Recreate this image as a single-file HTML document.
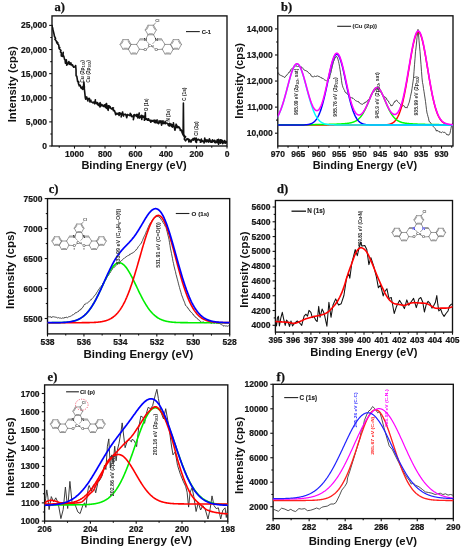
<!DOCTYPE html>
<html><head><meta charset="utf-8"><style>
html,body{margin:0;padding:0;background:#fff;}
svg{display:block;}
</style></head><body>
<svg width="464" height="550" viewBox="0 0 464 550">
<rect width="464" height="550" fill="#fff"/>
<text x="54.5" y="11.2" font-family="'Liberation Serif', 'Times New Roman', serif" font-weight="bold" font-size="12.5" fill="#111" stroke="#111" stroke-width="0.25">a)</text>
<g stroke="#111" stroke-width="1.1"><line x1="74.5" y1="146" x2="74.5" y2="148.6"/><line x1="105" y1="146" x2="105" y2="148.6"/><line x1="135.5" y1="146" x2="135.5" y2="148.6"/><line x1="166" y1="146" x2="166" y2="148.6"/><line x1="196.5" y1="146" x2="196.5" y2="148.6"/><line x1="227" y1="146" x2="227" y2="148.6"/><line x1="59.25" y1="146" x2="59.25" y2="147.7"/><line x1="89.75" y1="146" x2="89.75" y2="147.7"/><line x1="120.25" y1="146" x2="120.25" y2="147.7"/><line x1="150.75" y1="146" x2="150.75" y2="147.7"/><line x1="181.25" y1="146" x2="181.25" y2="147.7"/><line x1="211.75" y1="146" x2="211.75" y2="147.7"/><line x1="49.2" y1="146" x2="52" y2="146"/><line x1="49.2" y1="121.88" x2="52" y2="121.88"/><line x1="49.2" y1="97.76" x2="52" y2="97.76"/><line x1="49.2" y1="73.64" x2="52" y2="73.64"/><line x1="49.2" y1="49.52" x2="52" y2="49.52"/><line x1="49.2" y1="25.4" x2="52" y2="25.4"/><line x1="50.3" y1="133.94" x2="52" y2="133.94"/><line x1="50.3" y1="109.82" x2="52" y2="109.82"/><line x1="50.3" y1="85.7" x2="52" y2="85.7"/><line x1="50.3" y1="61.58" x2="52" y2="61.58"/><line x1="50.3" y1="37.46" x2="52" y2="37.46"/></g>
<rect x="52" y="15.9" width="175" height="130.1" fill="none" stroke="#111" stroke-width="1.35"/>
<g font-family="'Liberation Sans', Arial, sans-serif" font-weight="bold" font-size="8.5" fill="#161616" stroke="#161616" stroke-width="0.22"><text x="74.5" y="156.9" text-anchor="middle">1000</text><text x="105" y="156.9" text-anchor="middle">800</text><text x="135.5" y="156.9" text-anchor="middle">600</text><text x="166" y="156.9" text-anchor="middle">400</text><text x="196.5" y="156.9" text-anchor="middle">200</text><text x="227" y="156.9" text-anchor="middle">0</text><text x="47" y="149.06" text-anchor="end">0</text><text x="47" y="124.94" text-anchor="end">5,000</text><text x="47" y="100.82" text-anchor="end">10,000</text><text x="47" y="76.7" text-anchor="end">15,000</text><text x="47" y="52.58" text-anchor="end">20,000</text><text x="47" y="28.46" text-anchor="end">25,000</text></g>
<text x="81.4" y="168.6" font-family="'Liberation Sans', Arial, sans-serif" font-weight="bold" font-size="11.0" fill="#111" textLength="105.4" lengthAdjust="spacingAndGlyphs">Binding Energy (eV)</text>
<text transform="translate(16.3,122.3) rotate(-90)" font-family="'Liberation Sans', Arial, sans-serif" font-weight="bold" font-size="11.0" fill="#111" textLength="76.1" lengthAdjust="spacingAndGlyphs">Intensity (cps)</text>
<clipPath id="clipa"><rect x="52" y="15.9" width="175" height="130.1"/></clipPath>
<g clip-path="url(#clipa)">
<polyline points="51.94,24.75 52.32,27.17 52.8,28.33 52.5,28.01 53.89,33.43 54.37,35.76 54.27,35.81 55.52,38.41 54.91,39.26 55.77,40.31 56.26,41.14 57.94,42.98 56.6,42.48 58.13,44.4 58.77,45.02 58.94,47.39 59.79,47.63 59.15,48.17 58.96,48.54 60.93,50.4 60.4,51.91 61.29,52.71 61.31,55.92 62.88,56.41 63.23,52.35 62.89,54.19 64.15,57.2 64.21,57.65 64.53,59.24 65.08,59.97 65.4,63.16 66.26,59.69 66.56,61.37 66.68,65.19 67.8,63.65 67.44,63.96 68.34,62.71 68.86,61.51 69.84,64.16 69.3,64.36 70.87,62.9 70.54,63.78 70.8,64.73 71.01,63.76 72.09,65.03 72.27,65.44 72.15,65.53 72.59,64.99 73.32,66.62 73.71,67.23 75.05,66.72 75.64,65.46 75.83,67.7 76.03,69.75 76.09,75.78 76.78,76.12 77.64,81.57 78.72,82.52 78.56,81.65 78.41,83.6 79.02,84.81 79.21,85.82 79.51,84.92 80.26,85.49 80.9,87.82 82.17,87.2 81.73,88.36 82.83,89.29 83.48,85.97 83.09,86.69 83.4,86.94 83.9,82 84.4,87.44 84.3,86.94 84.31,86.54 84.19,87.45 84.98,94.54 85.31,97.92 85.63,99.16 86.1,97.94 86.72,96.87 87.32,99.05 87.11,99.02 88,101.01 87.69,100.43 89.03,98.24 89.66,98.98 89.88,101.86 90.39,101.77 90.99,100.24 90.82,101.24 91.48,102 92.31,102.21 93,102.91 93.15,102.28 94.68,101.99 93.8,101.95 94.8,103.83 95.38,99.7 95.13,102.61 95.24,103 95.51,101.28 96.63,103.73 97.56,102.62 97.59,104.76 97.99,103.65 98.16,104.85 99.08,105.73 98.18,104.82 99.82,103.35 100.16,102.67 99.91,107.05 102.14,104.75 100.81,104.12 101.41,105.33 101.8,105.02 103.41,106.51 102.86,105.57 104.08,105.67 104.49,104.85 104.78,106.51 104.45,104.69 105.24,107.06 106.84,108.34 105.8,104.54 106.48,103.48 107.27,107.65 108.2,110.32 108.38,105.87 109.07,105.71 108.62,108.26 110.07,106.56 110.33,107.16 109.7,107.57 111.72,108.91 112.55,107.9 111.47,108.98 112.33,108.59 113.45,107.92 112.46,108.81 112.66,108.29 113.45,110.7 114.27,110.39 114.71,111.17 115.75,114.69 116.03,112.93 115.73,113.13 117.08,114.07 118.19,113.04 118.3,113.46 118.65,114.47 118.61,114.45 119.54,112.74 119.02,115.5 120.33,113.81 120.36,113.26 121.42,113.5 121.53,114.19 121.21,116.85 122.26,113.24 123.26,115.02 122.54,112.06 123.27,114.88 123.62,116.08 123.7,114.64 125.38,114.17 126.01,115.32 126.2,115.97 126.37,115.95 126.67,117.69 127.27,115.43 127.23,114.43 128.5,115.07 129.02,115.17 129.42,115.44 129.13,115.3 129.89,115.6 130.22,113.24 131.64,116.55 131.29,114.79 130.71,114.07 132.3,116.48 133.49,117.42 133.34,116.41 133.89,116.04 133.92,114.68 133.36,119.68 133.89,117.15 134.63,114.59 135.64,115.11 136.3,116.3 136.94,114.23 136.88,116.52 137.98,115.76 137.81,117.99 138.05,117.7 139.28,112.97 138.84,116.59 138.39,114.48 139.67,118.08 140.7,116.9 139.56,117.44 141.37,115.39 141.83,119.2 141.74,119.5 142.16,115.53 143.12,117.45 143.53,116.16 144.88,117.18 144.89,115.74 144.36,120.18 145.17,117.24 145,118.87 145.3,112.6 145.6,119.37 146.4,118.87 147.45,120.25 147.14,118.91 147.56,119.6 148.78,119.33 148.29,120.04 148.6,118.85 148.49,119.96 149.39,120.41 151.19,120.39 149.84,121.01 151.01,120.66 150.75,122.13 151.96,120.84 152.79,121.19 152.68,120.62 153.62,120.9 154.06,120.05 154.37,122.48 155.46,120.43 155.44,121.06 155.35,122.6 155.61,122.77 155.98,121.83 157.09,119.84 157.14,123.07 159.11,122.88 159.12,120.74 158.54,123.61 158.94,121.72 160.4,121.2 159.06,122.81 160.22,122.49 161.38,123.01 160.89,120.69 161.56,125.16 162.07,122.05 163.03,120.86 163.22,123.69 163.8,122.46 164.35,123.37 164.51,122.53 165.51,122.89 165.04,123 165.13,121.42 165.41,123.69 165.94,122.96 166.92,122.98 168.17,124.45 168.19,125.17 168.25,124.53 168.47,123.95 169.19,126.11 169.7,123.26 170.07,124.3 170.08,125.75 171.01,123.98 172.21,125.84 171.06,125.78 172.48,127.07 171.99,124.77 173.59,125.2 173.58,126.5 173.36,122.92 174.9,130.2 176.21,125.32 175.8,125.34 176.78,127.47 176.61,126.36 176.02,124.16 177.8,127.35 177.79,127.71 177.72,126.52 179.29,127.25 179.49,128.75 179.54,127.56 180.68,130.07 180.26,130.53 181.47,130.16 181.13,129.99 182.32,132.27 181.95,132.19 183.1,135.02 183.4,103 183.7,135.52 183.69,135.02 183.53,134.19 184.57,136.01 183.89,136.16 184.51,137.31 185.62,136.6 184.28,138.95 185.57,140.87 187.07,138.62 187.23,138.72 187.94,139.47 187.75,139.14 188.63,138.95 188.43,140.13 188.56,139.67 188.85,142.01 189.87,140.2 190.33,140.63 190.74,141.46 189.73,139.84 190.95,142.1 192.13,139.42 192.99,139.2 193.01,139.78 193.31,140.12 193.05,138.45 195.66,140.24 194.55,138.12 195.9,142.05 196.2,138 196.5,142.55 196.39,142.05 196.78,139.62 196.59,138.98 196.61,139.19 197.42,140.02 197.22,140.26 198.38,139.22 198.7,139.41 199.42,140.39 200.08,139.99 200.92,141.91 200.31,142.2 201.47,140.77 201,141.39 201.4,139.07 201.99,141.66 202.26,140.82 203.69,141.52 204.11,143 204.74,137.98 204.54,141.31 205.14,139.57 205.16,141.78 205.32,139.31 206.57,140.38 206.93,141.3 206.7,141.84 207.99,141.15 207.28,140.03 208.51,140.35 208.73,142.23 209.24,141.08 209.41,138.91 210.88,142.2 211.13,141.66 211.89,142.26 211.82,140.7 211.55,142.22 212.46,139.77 212.5,141.9 213.77,140.53 214.6,142.06 214.61,142.5 214.59,140.24 215.16,141.15 215.9,141.29 215.52,142.81 216.77,142.21 217.24,139.73 217.32,141.93 217.83,142.33 218.58,144.15 218.53,139.23 218.98,140.73 220.23,143.19 220.4,139.72 221.58,139.94 220.7,142.2 220.75,142.87 222.56,140.7 223.02,142.3 222.62,141.77 222.7,143.62 223.86,141.67 223.46,142.98 224.62,140.54 224.14,141.5 225.57,141.64 225.07,143.27 226.47,142.55 227.79,140.82 227.35,142.69 228.32,142.8" fill="none" stroke="#111" stroke-width="1.6" stroke-linejoin="round" />
</g>
<text transform="translate(84.02,82.8) rotate(-90)" font-family="'Liberation Sans', Arial, sans-serif" font-size="4.5" fill="#333" font-weight="bold" textLength="22.6" lengthAdjust="spacingAndGlyphs">Cu (2p<tspan font-size="3.6" dy="0.9">1/2</tspan><tspan dy="-0.9">)</tspan></text>
<text transform="translate(90.32,82.8) rotate(-90)" font-family="'Liberation Sans', Arial, sans-serif" font-size="4.5" fill="#333" font-weight="bold" textLength="22.6" lengthAdjust="spacingAndGlyphs">Cu (2p<tspan font-size="3.6" dy="0.9">3/2</tspan><tspan dy="-0.9">)</tspan></text>
<text transform="translate(148.22,110.9) rotate(-90)" font-family="'Liberation Sans', Arial, sans-serif" font-size="4.5" fill="#222" font-weight="bold" textLength="12.5" lengthAdjust="spacingAndGlyphs">O (1s)</text>
<text transform="translate(169.52,121.5) rotate(-90)" font-family="'Liberation Sans', Arial, sans-serif" font-size="4.5" fill="#222" font-weight="bold" textLength="12.5" lengthAdjust="spacingAndGlyphs">N (1s)</text>
<text transform="translate(186.32,101.1) rotate(-90)" font-family="'Liberation Sans', Arial, sans-serif" font-size="4.5" fill="#222" font-weight="bold" textLength="13.6" lengthAdjust="spacingAndGlyphs">C (1s)</text>
<text transform="translate(198.42,135.8) rotate(-90)" font-family="'Liberation Sans', Arial, sans-serif" font-size="4.5" fill="#222" font-weight="bold" textLength="14.3" lengthAdjust="spacingAndGlyphs">Cl (2p)</text>
<line x1="186" y1="31.6" x2="199.8" y2="31.6" stroke="#222" stroke-width="1.1"/>
<text x="201.7" y="33.69" font-family="'Liberation Sans', Arial, sans-serif" font-weight="bold" font-size="5.8" fill="#222" stroke="#222" stroke-width="0.14">C-1</text>
<g stroke="#777" stroke-width="0.75" stroke-linecap="round"><line x1="156.3" y1="30" x2="153.55" y2="34.76"/><line x1="153.55" y1="34.76" x2="148.05" y2="34.76"/><line x1="148.05" y1="34.76" x2="145.3" y2="30"/><line x1="145.3" y1="30" x2="148.05" y2="25.24"/><line x1="148.05" y1="25.24" x2="153.55" y2="25.24"/><line x1="153.55" y1="25.24" x2="156.3" y2="30"/><line x1="152.47" y1="33.81" x2="149.13" y2="33.81"/><line x1="146.66" y1="29.54" x2="148.34" y2="26.65"/><line x1="153.26" y1="26.65" x2="154.94" y2="29.54"/><line x1="148.05" y1="34.76" x2="146.07" y2="38.46"/><line x1="153.55" y1="34.76" x2="155.53" y2="38.46"/><line x1="153.55" y1="25.24" x2="155.53" y2="22.89"/><line x1="143.55" y1="39.9" x2="139.47" y2="39.9"/><line x1="143.38" y1="38.8" x2="140.08" y2="38.8"/><line x1="136.61" y1="44.43" x2="139.47" y2="39.9"/><line x1="139.36" y1="49.2" x2="136.61" y2="53.96"/><line x1="136.61" y1="53.96" x2="131.11" y2="53.96"/><line x1="131.11" y1="53.96" x2="128.36" y2="49.2"/><line x1="128.36" y1="49.2" x2="131.11" y2="44.43"/><line x1="131.11" y1="44.43" x2="136.61" y2="44.43"/><line x1="136.61" y1="44.43" x2="139.36" y2="49.2"/><line x1="135.53" y1="53.01" x2="132.19" y2="53.01"/><line x1="131.11" y1="44.41" x2="128.36" y2="49.17"/><line x1="128.36" y1="49.17" x2="122.86" y2="49.17"/><line x1="122.86" y1="49.17" x2="120.11" y2="44.41"/><line x1="120.11" y1="44.41" x2="122.86" y2="39.65"/><line x1="122.86" y1="39.65" x2="128.36" y2="39.65"/><line x1="128.36" y1="39.65" x2="131.11" y2="44.41"/><line x1="127.28" y1="48.22" x2="123.94" y2="48.22"/><line x1="121.47" y1="43.95" x2="123.15" y2="41.06"/><line x1="128.07" y1="41.06" x2="129.75" y2="43.95"/><line x1="139.36" y1="49.2" x2="143.64" y2="49.55"/><line x1="146.95" y1="41.65" x2="149.15" y2="43.98" stroke-dasharray="0.88,0.88"/><line x1="147.23" y1="48.3" x2="149.26" y2="46.84" stroke-dasharray="0.88,0.88"/><line x1="158.05" y1="39.9" x2="162.13" y2="39.9"/><line x1="158.23" y1="38.8" x2="161.53" y2="38.8"/><line x1="164.99" y1="44.43" x2="162.13" y2="39.9"/><line x1="173.24" y1="49.2" x2="170.49" y2="53.96"/><line x1="170.49" y1="53.96" x2="164.99" y2="53.96"/><line x1="164.99" y1="53.96" x2="162.24" y2="49.2"/><line x1="162.24" y1="49.2" x2="164.99" y2="44.43"/><line x1="164.99" y1="44.43" x2="170.49" y2="44.43"/><line x1="170.49" y1="44.43" x2="173.24" y2="49.2"/><line x1="169.41" y1="53.01" x2="166.07" y2="53.01"/><line x1="181.49" y1="44.41" x2="178.74" y2="49.17"/><line x1="178.74" y1="49.17" x2="173.24" y2="49.17"/><line x1="173.24" y1="49.17" x2="170.49" y2="44.41"/><line x1="170.49" y1="44.41" x2="173.24" y2="39.65"/><line x1="173.24" y1="39.65" x2="178.74" y2="39.65"/><line x1="178.74" y1="39.65" x2="181.49" y2="44.41"/><line x1="177.66" y1="48.22" x2="174.32" y2="48.22"/><line x1="171.85" y1="43.95" x2="173.53" y2="41.06"/><line x1="178.45" y1="41.06" x2="180.13" y2="43.95"/><line x1="162.24" y1="49.2" x2="157.96" y2="49.55"/><line x1="154.65" y1="41.65" x2="152.45" y2="43.98" stroke-dasharray="0.88,0.88"/><line x1="154.38" y1="48.3" x2="152.34" y2="46.84" stroke-dasharray="0.88,0.88"/></g>
<g font-family="'Liberation Sans', Arial, sans-serif" font-weight="bold" font-size="4.4"><text x="145.3" y="41.48" text-anchor="middle" fill="#222">N</text><text x="156.3" y="41.48" text-anchor="middle" fill="#222">N</text><text x="145.3" y="51.27" text-anchor="middle" fill="#444">O</text><text x="156.3" y="51.27" text-anchor="middle" fill="#444">O</text><text x="150.8" y="47.31" text-anchor="middle" fill="#444">Cu</text><text x="157.34" y="22.23" text-anchor="middle" fill="#444">Cl</text></g>
<text x="281" y="11.2" font-family="'Liberation Serif', 'Times New Roman', serif" font-weight="bold" font-size="12.5" fill="#111" stroke="#111" stroke-width="0.25">b)</text>
<g stroke="#111" stroke-width="1.1"><line x1="277.8" y1="146" x2="277.8" y2="148.6"/><line x1="298.26" y1="146" x2="298.26" y2="148.6"/><line x1="318.73" y1="146" x2="318.73" y2="148.6"/><line x1="339.19" y1="146" x2="339.19" y2="148.6"/><line x1="359.65" y1="146" x2="359.65" y2="148.6"/><line x1="380.11" y1="146" x2="380.11" y2="148.6"/><line x1="400.58" y1="146" x2="400.58" y2="148.6"/><line x1="421.04" y1="146" x2="421.04" y2="148.6"/><line x1="441.5" y1="146" x2="441.5" y2="148.6"/><line x1="288.03" y1="146" x2="288.03" y2="147.7"/><line x1="308.49" y1="146" x2="308.49" y2="147.7"/><line x1="328.96" y1="146" x2="328.96" y2="147.7"/><line x1="349.42" y1="146" x2="349.42" y2="147.7"/><line x1="369.88" y1="146" x2="369.88" y2="147.7"/><line x1="390.34" y1="146" x2="390.34" y2="147.7"/><line x1="410.81" y1="146" x2="410.81" y2="147.7"/><line x1="431.27" y1="146" x2="431.27" y2="147.7"/><line x1="451.73" y1="146" x2="451.73" y2="147.7"/><line x1="275" y1="133.2" x2="277.8" y2="133.2"/><line x1="275" y1="107.12" x2="277.8" y2="107.12"/><line x1="275" y1="81.05" x2="277.8" y2="81.05"/><line x1="275" y1="54.98" x2="277.8" y2="54.98"/><line x1="275" y1="28.9" x2="277.8" y2="28.9"/><line x1="276.1" y1="120.16" x2="277.8" y2="120.16"/><line x1="276.1" y1="94.09" x2="277.8" y2="94.09"/><line x1="276.1" y1="68.01" x2="277.8" y2="68.01"/><line x1="276.1" y1="41.94" x2="277.8" y2="41.94"/></g>
<rect x="277.8" y="15.8" width="175.2" height="130.2" fill="none" stroke="#111" stroke-width="1.35"/>
<g font-family="'Liberation Sans', Arial, sans-serif" font-weight="bold" font-size="8.5" fill="#161616" stroke="#161616" stroke-width="0.22"><text x="277.8" y="156.9" text-anchor="middle">970</text><text x="298.26" y="156.9" text-anchor="middle">965</text><text x="318.73" y="156.9" text-anchor="middle">960</text><text x="339.19" y="156.9" text-anchor="middle">955</text><text x="359.65" y="156.9" text-anchor="middle">950</text><text x="380.11" y="156.9" text-anchor="middle">945</text><text x="400.58" y="156.9" text-anchor="middle">940</text><text x="421.04" y="156.9" text-anchor="middle">935</text><text x="441.5" y="156.9" text-anchor="middle">930</text><text x="272.8" y="136.26" text-anchor="end">10,000</text><text x="272.8" y="110.19" text-anchor="end">11,000</text><text x="272.8" y="84.11" text-anchor="end">12,000</text><text x="272.8" y="58.04" text-anchor="end">13,000</text><text x="272.8" y="31.96" text-anchor="end">14,000</text></g>
<text x="312.7" y="168.5" font-family="'Liberation Sans', Arial, sans-serif" font-weight="bold" font-size="11.0" fill="#111" textLength="104.4" lengthAdjust="spacingAndGlyphs">Binding Energy (eV)</text>
<text transform="translate(242.6,118.7) rotate(-90)" font-family="'Liberation Sans', Arial, sans-serif" font-weight="bold" font-size="11.0" fill="#111" textLength="75.8" lengthAdjust="spacingAndGlyphs">Intensity (cps)</text>
<clipPath id="clipb"><rect x="277.8" y="15.8" width="175.2" height="130.2"/></clipPath>
<g clip-path="url(#clipb)">
<polyline points="277,73.57 277.5,73.35 278,73.42 278.5,72.75 279,74.61 279.5,74.76 280,74.63 280.5,75.39 281,75.6 281.5,75.58 282,76.38 282.5,76.2 283,76.47 283.5,76.57 284,77.28 284.5,77.36 285,77.36 285.5,76.4 286,76.1 286.5,75.19 287,75.15 287.5,74.28 288,73.69 288.5,73.07 289,71.98 289.5,72.02 290,71.89 290.5,70.01 291,69.39 291.5,68.85 292,69.04 292.5,68.17 293,67.88 293.5,67.43 294,66.93 294.5,66.64 295,66.16 295.5,66.2 296,65.62 296.5,65.99 297,66.35 297.5,67.01 298,66.23 298.5,66.15 299,66.35 299.5,66.91 300,66.51 300.5,67.27 301,66.49 301.5,67.88 302,68.18 302.5,67.66 303,68.55 303.5,69.31 304,69.3 304.5,70 305,70.87 305.5,70.52 306,70.65 306.5,70.79 307,71.6 307.5,71.62 308,71.94 308.5,72.59 309,73.48 309.5,73.5 310,73.96 310.5,74.09 311,75.8 311.5,75.85 312,76.79 312.5,76.7 313,76.4 313.5,76.79 314,76.55 314.5,76.1 315,76.19 315.5,76.98 316,76.35 316.5,76.24 317,75.86 317.5,75.78 318,76.53 318.5,76.37 319,76.34 319.5,76.76 320,76.68 320.5,77.36 321,77.98 321.5,77.59 322,78.68 322.5,78.24 323,78.82 323.5,78.78 324,79.37 324.5,79.83 325,80.03 325.5,80.31 326,80.69 326.5,81.01 327,80.32 327.5,80.34 328,80.14 328.5,79.48 329,78.56 329.5,78.36 330,75.78 330.5,73.67 331,72.66 331.5,69.48 332,68.03 332.5,65.2 333,63.94 333.5,61.52 334,60.92 334.5,58.94 335,57.72 335.5,57.71 336,56.44 336.5,56.32 337,56.89 337.5,57.98 338,59.48 338.5,61.33 339,63.57 339.5,66.3 340,69.57 340.5,72.81 341,76.31 341.5,80.36 342,83.87 342.5,85.68 343,87.43 343.5,88.22 344,89.65 344.5,90.26 345,92.1 345.5,92.31 346,93.22 346.5,93.08 347,93.49 347.5,94.21 348,94.37 348.5,95.25 349,95.2 349.5,96.61 350,96.69 350.5,97.85 351,97.4 351.5,98.13 352,97.51 352.5,98.4 353,98.19 353.5,98.7 354,99.26 354.5,99.51 355,100.09 355.5,100.64 356,100.98 356.5,101.09 357,101.02 357.5,101.48 358,101.95 358.5,101.54 359,102.81 359.5,102.73 360,103.02 360.5,103.74 361,103.93 361.5,104.07 362,103.93 362.5,104.33 363,104.05 363.5,103.33 364,103.71 364.5,103.23 365,102.07 365.5,102.41 366,101.51 366.5,101.94 367,101.41 367.5,100.33 368,99.99 368.5,99.92 369,98.92 369.5,98.53 370,97.26 370.5,95.9 371,95.2 371.5,93.55 372,93.63 372.5,93.09 373,91.98 373.5,91.19 374,91.22 374.5,91.29 375,90.26 375.5,89.38 376,89.87 376.5,88.29 377,88.96 377.5,88.79 378,89.52 378.5,89.11 379,90.07 379.5,89.92 380,89.83 380.5,90.64 381,92.12 381.5,93.58 382,94.07 382.5,94.94 383,95.35 383.5,96.1 384,96.39 384.5,96.77 385,96.74 385.5,97.92 386,98.39 386.5,98.15 387,100.18 387.5,100.38 388,100.72 388.5,101 389,102.7 389.5,103.48 390,103.88 390.5,104.28 391,106.11 391.5,105.7 392,105.01 392.5,105.45 393,104.47 393.5,103.33 394,102.3 394.5,102.29 395,100.87 395.5,101.31 396,100.61 396.5,100.03 397,100.25 397.5,101.48 398,101.83 398.5,102.36 399,103.15 399.5,103.32 400,103.94 400.5,104.51 401,105.78 401.5,106.41 402,106.01 402.5,106.2 403,105.47 403.5,105.64 404,105.93 404.5,106.16 405,107.65 405.5,107.57 406,107.28 406.5,107.56 407,108.08 407.5,106.33 408,105.73 408.5,103.86 409,102.93 409.5,101.03 410,98.94 410.5,96.36 411,93.99 411.5,91.92 412,88.72 412.5,85.3 413,81.87 413.5,78.25 414,71.57 414.5,64.77 415,58.68 415.5,51.76 416,47.93 416.5,43.03 417,37.79 417.5,33.94 418,29.39 418.5,33.89 419,40.29 419.5,46.11 420,51.33 420.5,58.06 421,64.53 421.5,71.46 422,77.82 422.5,82.55 423,84.77 423.5,88.59 424,91.5 424.5,94.92 425,98.07 425.5,101.45 426,105.5 426.5,109.68 427,112.96 427.5,114.64 428,116.63 428.5,118.18 429,121.03 429.5,121.91 430,121.92 430.5,122.76 431,123.1 431.5,124.64 432,124.94 432.5,125.43 433,126.27 433.5,126.94 434,127.3 434.5,127.66 435,128.3 435.5,128.8 436,130.23 436.5,131.18 437,130.07 437.5,130.97 438,131.32 438.5,131.09 439,131.76 439.5,131.56 440,132.5 440.5,131.98 441,132.33 441.5,132.64 442,132.35 442.5,131.76 443,132.09 443.5,132.43 444,132.02 444.5,132.34 445,132.32 445.5,133.18 446,133.82 446.5,134.01 447,135.07 447.5,134.73 448,134.84 448.5,135.03 449,135.14 449.5,133.85 450,133.35 450.5,130.57 451,128.38 451.5,125.66 452,124.12 452.5,123.78 453,123.5 453.5,122.13 454,122.51" fill="none" stroke="#222" stroke-width="0.8" stroke-linejoin="round" />
<polyline points="257.34,125.01 257.59,125.01 257.85,125.01 258.11,125.01 258.36,125.01 258.62,125.01 258.87,125.01 259.13,125.01 259.39,125.01 259.64,125.01 259.9,125.01 260.15,125.01 260.41,125.01 260.67,125.01 260.92,125.01 261.18,125.01 261.44,125.01 261.69,125.01 261.95,125.01 262.2,125.01 262.46,125.01 262.72,125.01 262.97,125.01 263.23,125.01 263.48,125.01 263.74,125.01 264,125.01 264.25,125.01 264.51,125.01 264.76,125.01 265.02,125.01 265.28,125.01 265.53,125.01 265.79,125.01 266.04,125.01 266.3,125.01 266.56,125.01 266.81,125.01 267.07,125.01 267.33,125.01 267.58,125.01 267.84,125.01 268.09,125.01 268.35,125.01 268.61,125.01 268.86,125.01 269.12,125.01 269.37,125.01 269.63,125.01 269.89,125.01 270.14,125.01 270.4,125.01 270.65,125.01 270.91,125.01 271.17,125.01 271.42,125.01 271.68,125.01 271.94,125.01 272.19,125.01 272.45,125.01 272.7,125.01 272.96,125.01 273.22,125.01 273.47,125.01 273.73,125.01 273.98,125.01 274.24,125.01 274.5,125.01 274.75,125.01 275.01,125.01 275.26,125.01 275.52,125.01 275.78,125.01 276.03,125.01 276.29,125.01 276.55,125.01 276.8,125.01 277.06,125.01 277.31,125.01 277.57,125.01 277.83,125.01 278.08,125.01 278.34,125.01 278.59,125.01 278.85,125.01 279.11,125.01 279.36,125.01 279.62,125.01 279.87,125.01 280.13,125.01 280.39,125.01 280.64,125.01 280.9,125.01 281.15,125.01 281.41,125.01 281.67,125.01 281.92,125.01 282.18,125.01 282.44,125.01 282.69,125.01 282.95,125.01 283.2,125.01 283.46,125.01 283.72,125.01 283.97,125.01 284.23,125.01 284.48,125.01 284.74,125.01 285,125.01 285.25,125.01 285.51,125.01 285.76,125.01 286.02,125.01 286.28,125.01 286.53,125.01 286.79,125.01 287.05,125.01 287.3,125.01 287.56,125.01 287.81,125.01 288.07,125.01 288.33,125.01 288.58,125.01 288.84,125.01 289.09,125.01 289.35,125.01 289.61,125.01 289.86,125.01 290.12,125.01 290.37,125.01 290.63,125.01 290.89,125.01 291.14,125.01 291.4,125.01 291.66,125.01 291.91,125.01 292.17,125.01 292.42,125.01 292.68,125.01 292.94,125.01 293.19,125.01 293.45,125.01 293.7,125.01 293.96,125.01 294.22,125.01 294.47,125.01 294.73,125.01 294.98,125.01 295.24,125.01 295.5,125.01 295.75,125.01 296.01,125.01 296.26,125.01 296.52,125.01 296.78,125.01 297.03,125.01 297.29,125.01 297.55,125.01 297.8,125.01 298.06,125.01 298.31,125.01 298.57,125.01 298.83,125.01 299.08,125.01 299.34,125.01 299.59,125.01 299.85,125.01 300.11,125.01 300.36,125.01 300.62,125.01 300.87,125.01 301.13,125.01 301.39,125.01 301.64,125.01 301.9,125.01 302.16,125.01 302.41,125.01 302.67,125.01 302.92,125.01 303.18,125.01 303.44,125.01 303.69,125.01 303.95,125.01 304.2,125.01 304.46,125.01 304.72,125.01 304.97,125.01 305.23,125.01 305.48,125.01 305.74,125.01 306,125.01 306.25,125.01 306.51,125.01 306.77,125.01 307.02,125.01 307.28,125.01 307.53,125.01 307.79,125.01 308.05,125.01 308.3,125.01 308.56,125.01 308.81,125.01 309.07,125.01 309.33,125.01 309.58,125.01 309.84,125.01 310.09,125.01 310.35,125.01 310.61,125.01 310.86,125.01 311.12,125.01 311.37,125.01 311.63,125.01 311.89,125.01 312.14,125.01 312.4,125.01 312.66,125.01 312.91,125.01 313.17,125.01 313.42,125.01 313.68,125.01 313.94,125.01 314.19,125.01 314.45,125.01 314.7,125.01 314.96,125.01 315.22,125.01 315.47,125.01 315.73,125.01 315.98,125.01 316.24,125.01 316.5,125.01 316.75,125.01 317.01,125.01 317.27,125.01 317.52,125.01 317.78,125.01 318.03,125.01 318.29,125.01 318.55,125.01 318.8,125.01 319.06,125.01 319.31,125.01 319.57,125.01 319.83,125.01 320.08,125.01 320.34,125.01 320.59,125.01 320.85,125.01 321.11,125.01 321.36,125.01 321.62,125.01 321.88,125.01 322.13,125.01 322.39,125.01 322.64,125.01 322.9,125.01 323.16,125.01 323.41,125.01 323.67,125.01 323.92,125.01 324.18,125.01 324.44,125.01 324.69,125.01 324.95,125.01 325.2,125.01 325.46,125.01 325.72,125.01 325.97,125.01 326.23,125.01 326.48,125.01 326.74,125.01 327,125.01 327.25,125.01 327.51,125.01 327.77,125.01 328.02,125.01 328.28,125.01 328.53,125.01 328.79,125.01 329.05,125.01 329.3,125.01 329.56,125.01 329.81,125.01 330.07,125.01 330.33,125.01 330.58,125.01 330.84,125.01 331.09,125.01 331.35,125.01 331.61,125.01 331.86,125.01 332.12,125.01 332.38,125.01 332.63,125.01 332.89,125.01 333.14,125.01 333.4,125.01 333.66,125.01 333.91,125.01 334.17,125.01 334.42,125.01 334.68,125.01 334.94,125.01 335.19,125.01 335.45,125.01 335.7,125.01 335.96,125.01 336.22,125.01 336.47,125.01 336.73,125.01 336.99,125.01 337.24,125.01 337.5,125.01 337.75,125.01 338.01,125.01 338.27,125.01 338.52,125.01 338.78,125.01 339.03,125.01 339.29,125.01 339.55,125.01 339.8,125.01 340.06,125.01 340.31,125.01 340.57,125.01 340.83,125.01 341.08,125.01 341.34,125.01 341.59,125.01 341.85,125.01 342.11,125.01 342.36,125.01 342.62,125.01 342.88,125.01 343.13,125.01 343.39,125.01 343.64,125.01 343.9,125.01 344.16,125.01 344.41,125.01 344.67,125.01 344.92,125.01 345.18,125.01 345.44,125.01 345.69,125.01 345.95,125.01 346.2,125.01 346.46,125.01 346.72,125.01 346.97,125.01 347.23,125.01 347.49,125.01 347.74,125.01 348,125.01 348.25,125.01 348.51,125.01 348.77,125.01 349.02,125.01 349.28,125.01 349.53,125.01 349.79,125.01 350.05,125.01 350.3,125.01 350.56,125.01 350.81,125.01 351.07,125.01 351.33,125.01 351.58,125.01 351.84,125.01 352.1,125.01 352.35,125.01 352.61,125.01 352.86,125.01 353.12,125.01 353.38,125.01 353.63,125.01 353.89,125.01 354.14,125.01 354.4,125.01 354.66,125.01 354.91,125.01 355.17,125.01 355.42,125.01 355.68,125.01 355.94,125.01 356.19,125.01 356.45,125.01 356.7,125.01 356.96,125.01 357.22,125.01 357.47,125.01 357.73,125.01 357.99,125.01 358.24,125.01 358.5,125.01 358.75,125.01 359.01,125.01 359.27,125.01 359.52,125.01 359.78,125.01 360.03,125.01 360.29,125.01 360.55,125.01 360.8,125.01 361.06,125.01 361.31,125.01 361.57,125.01 361.83,125.01 362.08,125.01 362.34,125.01 362.6,125.01 362.85,125.01 363.11,125.01 363.36,125.01 363.62,125.01 363.88,125.01 364.13,125.01 364.39,125.01 364.64,125.01 364.9,125.01 365.16,125.01 365.41,125.01 365.67,125.01 365.92,125.01 366.18,125.01 366.44,125.01 366.69,125.01 366.95,125.01 367.2,125.01 367.46,125.01 367.72,125.01 367.97,125.01 368.23,125.01 368.49,125.01 368.74,125.01 369,125.01 369.25,125.01 369.51,125.01 369.77,125.01 370.02,125.01 370.28,125.01 370.53,125.01 370.79,125.01 371.05,125.01 371.3,125.01 371.56,125.01 371.81,125.01 372.07,125.01 372.33,125.01 372.58,125.01 372.84,125.01 373.1,125.01 373.35,125.01 373.61,125.01 373.86,125.01 374.12,125.01 374.38,125.01 374.63,125.01 374.89,125.01 375.14,125.01 375.4,125.01 375.66,125.01 375.91,125.01 376.17,125.01 376.42,125.01 376.68,125.01 376.94,125.01 377.19,125.01 377.45,125.01 377.71,125.01 377.96,125 378.22,125 378.47,125 378.73,125 378.99,125 379.24,125 379.5,125 379.75,124.99 380.01,124.99 380.27,124.99 380.52,124.99 380.78,124.99 381.03,124.98 381.29,124.98 381.55,124.97 381.8,124.97 382.06,124.97 382.31,124.96 382.57,124.95 382.83,124.95 383.08,124.94 383.34,124.93 383.6,124.92 383.85,124.91 384.11,124.9 384.36,124.89 384.62,124.88 384.88,124.87 385.13,124.85 385.39,124.83 385.64,124.82 385.9,124.8 386.16,124.77 386.41,124.75 386.67,124.72 386.92,124.7 387.18,124.67 387.44,124.63 387.69,124.6 387.95,124.56 388.21,124.51 388.46,124.47 388.72,124.42 388.97,124.36 389.23,124.3 389.49,124.24 389.74,124.17 390,124.1 390.25,124.02 390.51,123.93 390.77,123.84 391.02,123.74 391.28,123.64 391.53,123.52 391.79,123.4 392.05,123.27 392.3,123.13 392.56,122.98 392.82,122.82 393.07,122.65 393.33,122.47 393.58,122.28 393.84,122.07 394.1,121.85 394.35,121.62 394.61,121.37 394.86,121.1 395.12,120.83 395.38,120.53 395.63,120.22 395.89,119.89 396.14,119.54 396.4,119.17 396.66,118.78 396.91,118.37 397.17,117.94 397.42,117.49 397.68,117.01 397.94,116.51 398.19,115.99 398.45,115.44 398.71,114.86 398.96,114.26 399.22,113.63 399.47,112.97 399.73,112.29 399.99,111.58 400.24,110.83 400.5,110.06 400.75,109.26 401.01,108.43 401.27,107.56 401.52,106.67 401.78,105.74 402.03,104.78 402.29,103.8 402.55,102.78 402.8,101.72 403.06,100.64 403.32,99.53 403.57,98.38 403.83,97.21 404.08,96 404.34,94.77 404.6,93.51 404.85,92.21 405.11,90.9 405.36,89.55 405.62,88.18 405.88,86.79 406.13,85.38 406.39,83.94 406.64,82.48 406.9,81.01 407.16,79.52 407.41,78.01 407.67,76.49 407.93,74.96 408.18,73.42 408.44,71.88 408.69,70.33 408.95,68.77 409.21,67.22 409.46,65.66 409.72,64.12 409.97,62.58 410.23,61.04 410.49,59.52 410.74,58.02 411,56.53 411.25,55.06 411.51,53.62 411.77,52.2 412.02,50.81 412.28,49.45 412.53,48.12 412.79,46.83 413.05,45.58 413.3,44.37 413.56,43.2 413.82,42.08 414.07,41 414.33,39.98 414.58,39.01 414.84,38.09 415.1,37.23 415.35,36.43 415.61,35.69 415.86,35.01 416.12,34.4 416.38,33.85 416.63,33.37 416.89,32.95 417.14,32.6 417.4,32.32 417.66,32.11 417.91,31.98 418.17,31.91 418.43,31.91 418.68,31.98 418.94,32.12 419.19,32.34 419.45,32.62 419.71,32.97 419.96,33.39 420.22,33.87 420.47,34.43 420.73,35.04 420.99,35.72 421.24,36.47 421.5,37.27 421.75,38.13 422.01,39.05 422.27,40.02 422.52,41.05 422.78,42.13 423.04,43.25 423.29,44.42 423.55,45.63 423.8,46.89 424.06,48.18 424.32,49.51 424.57,50.87 424.83,52.26 425.08,53.68 425.34,55.13 425.6,56.6 425.85,58.09 426.11,59.59 426.36,61.11 426.62,62.64 426.88,64.19 427.13,65.73 427.39,67.29 427.64,68.84 427.9,70.4 428.16,71.95 428.41,73.49 428.67,75.03 428.93,76.56 429.18,78.08 429.44,79.59 429.69,81.08 429.95,82.55 430.21,84.01 430.46,85.44 430.72,86.86 430.97,88.25 431.23,89.61 431.49,90.96 431.74,92.27 432,93.56 432.25,94.82 432.51,96.06 432.77,97.26 433.02,98.43 433.28,99.58 433.54,100.69 433.79,101.77 434.05,102.82 434.3,103.84 434.56,104.83 434.82,105.78 435.07,106.71 435.33,107.6 435.58,108.46 435.84,109.3 436.1,110.1 436.35,110.87 436.61,111.61 436.86,112.32 437.12,113 437.38,113.66 437.63,114.29 437.89,114.89 438.15,115.46 438.4,116.01 438.66,116.53 438.91,117.03 439.17,117.51 439.43,117.96 439.68,118.39 439.94,118.8 440.19,119.19 440.45,119.55 440.71,119.9 440.96,120.23 441.22,120.54 441.47,120.84 441.73,121.12 441.99,121.38 442.24,121.63 442.5,121.86 442.75,122.08 443.01,122.28 443.27,122.48 443.52,122.66 443.78,122.83 444.04,122.99 444.29,123.14 444.55,123.28 444.8,123.41 445.06,123.53 445.32,123.64 445.57,123.75 445.83,123.85 446.08,123.94 446.34,124.02 446.6,124.1 446.85,124.18 447.11,124.24 447.36,124.31 447.62,124.37 447.88,124.42 448.13,124.47 448.39,124.52 448.65,124.56 448.9,124.6 449.16,124.63 449.41,124.67 449.67,124.7 449.93,124.73 450.18,124.75 450.44,124.77 450.69,124.8 450.95,124.82 451.21,124.83 451.46,124.85 451.72,124.87 451.97,124.88 452.23,124.89 452.49,124.9 452.74,124.91 453,124.92 453.26,124.93 453.51,124.94 453.77,124.95 454.02,124.95 454.28,124.96 454.54,124.97 454.79,124.97 455.05,124.97 455.3,124.98 455.56,124.98 455.82,124.99 456.07,124.99 456.33,124.99 456.58,124.99 456.84,125 457.1,125 457.35,125 457.61,125 457.86,125 458.12,125 458.38,125 458.63,125 458.89,125.01 459.15,125.01 459.4,125.01 459.66,125.01 459.91,125.01 460.17,125.01 460.43,125.01 460.68,125.01 460.94,125.01 461.19,125.01 461.45,125.01 461.71,125.01 461.96,125.01" fill="none" stroke="#ff0000" stroke-width="1.5" stroke-linejoin="round" />
<polyline points="257.34,124.91 257.59,124.9 257.85,124.9 258.11,124.9 258.36,124.9 258.62,124.9 258.87,124.9 259.13,124.9 259.39,124.9 259.64,124.9 259.9,124.9 260.15,124.9 260.41,124.9 260.67,124.9 260.92,124.9 261.18,124.9 261.44,124.9 261.69,124.9 261.95,124.9 262.2,124.9 262.46,124.9 262.72,124.89 262.97,124.89 263.23,124.89 263.48,124.89 263.74,124.89 264,124.89 264.25,124.89 264.51,124.89 264.76,124.89 265.02,124.89 265.28,124.89 265.53,124.89 265.79,124.89 266.04,124.89 266.3,124.89 266.56,124.89 266.81,124.89 267.07,124.89 267.33,124.88 267.58,124.88 267.84,124.88 268.09,124.88 268.35,124.88 268.61,124.88 268.86,124.88 269.12,124.88 269.37,124.88 269.63,124.88 269.89,124.88 270.14,124.88 270.4,124.88 270.65,124.88 270.91,124.88 271.17,124.88 271.42,124.87 271.68,124.87 271.94,124.87 272.19,124.87 272.45,124.87 272.7,124.87 272.96,124.87 273.22,124.87 273.47,124.87 273.73,124.87 273.98,124.87 274.24,124.87 274.5,124.87 274.75,124.87 275.01,124.87 275.26,124.86 275.52,124.86 275.78,124.86 276.03,124.86 276.29,124.86 276.55,124.86 276.8,124.86 277.06,124.86 277.31,124.86 277.57,124.86 277.83,124.86 278.08,124.86 278.34,124.86 278.59,124.85 278.85,124.85 279.11,124.85 279.36,124.85 279.62,124.85 279.87,124.85 280.13,124.85 280.39,124.85 280.64,124.85 280.9,124.85 281.15,124.85 281.41,124.85 281.67,124.84 281.92,124.84 282.18,124.84 282.44,124.84 282.69,124.84 282.95,124.84 283.2,124.84 283.46,124.84 283.72,124.84 283.97,124.84 284.23,124.83 284.48,124.83 284.74,124.83 285,124.83 285.25,124.83 285.51,124.83 285.76,124.83 286.02,124.83 286.28,124.83 286.53,124.83 286.79,124.82 287.05,124.82 287.3,124.82 287.56,124.82 287.81,124.82 288.07,124.82 288.33,124.82 288.58,124.82 288.84,124.82 289.09,124.81 289.35,124.81 289.61,124.81 289.86,124.81 290.12,124.81 290.37,124.81 290.63,124.81 290.89,124.81 291.14,124.81 291.4,124.8 291.66,124.8 291.91,124.8 292.17,124.8 292.42,124.8 292.68,124.8 292.94,124.8 293.19,124.8 293.45,124.79 293.7,124.79 293.96,124.79 294.22,124.79 294.47,124.79 294.73,124.79 294.98,124.79 295.24,124.78 295.5,124.78 295.75,124.78 296.01,124.78 296.26,124.78 296.52,124.78 296.78,124.78 297.03,124.77 297.29,124.77 297.55,124.77 297.8,124.77 298.06,124.77 298.31,124.77 298.57,124.77 298.83,124.76 299.08,124.76 299.34,124.76 299.59,124.76 299.85,124.76 300.11,124.76 300.36,124.75 300.62,124.75 300.87,124.75 301.13,124.75 301.39,124.75 301.64,124.75 301.9,124.74 302.16,124.74 302.41,124.74 302.67,124.74 302.92,124.74 303.18,124.73 303.44,124.73 303.69,124.73 303.95,124.73 304.2,124.73 304.46,124.72 304.72,124.72 304.97,124.72 305.23,124.72 305.48,124.72 305.74,124.71 306,124.71 306.25,124.71 306.51,124.71 306.77,124.71 307.02,124.7 307.28,124.7 307.53,124.7 307.79,124.7 308.05,124.69 308.3,124.69 308.56,124.69 308.81,124.69 309.07,124.68 309.33,124.68 309.58,124.68 309.84,124.68 310.09,124.68 310.35,124.67 310.61,124.67 310.86,124.67 311.12,124.66 311.37,124.66 311.63,124.66 311.89,124.66 312.14,124.65 312.4,124.65 312.66,124.65 312.91,124.65 313.17,124.64 313.42,124.64 313.68,124.64 313.94,124.63 314.19,124.63 314.45,124.63 314.7,124.62 314.96,124.62 315.22,124.62 315.47,124.62 315.73,124.61 315.98,124.61 316.24,124.61 316.5,124.6 316.75,124.6 317.01,124.6 317.27,124.59 317.52,124.59 317.78,124.58 318.03,124.58 318.29,124.58 318.55,124.57 318.8,124.57 319.06,124.57 319.31,124.56 319.57,124.56 319.83,124.55 320.08,124.55 320.34,124.55 320.59,124.54 320.85,124.54 321.11,124.53 321.36,124.53 321.62,124.53 321.88,124.52 322.13,124.52 322.39,124.51 322.64,124.51 322.9,124.5 323.16,124.5 323.41,124.49 323.67,124.49 323.92,124.48 324.18,124.48 324.44,124.47 324.69,124.47 324.95,124.46 325.2,124.46 325.46,124.45 325.72,124.45 325.97,124.44 326.23,124.44 326.48,124.43 326.74,124.43 327,124.42 327.25,124.41 327.51,124.41 327.77,124.4 328.02,124.4 328.28,124.39 328.53,124.38 328.79,124.38 329.05,124.37 329.3,124.36 329.56,124.36 329.81,124.35 330.07,124.34 330.33,124.34 330.58,124.33 330.84,124.32 331.09,124.31 331.35,124.31 331.61,124.3 331.86,124.29 332.12,124.28 332.38,124.28 332.63,124.27 332.89,124.26 333.14,124.25 333.4,124.24 333.66,124.23 333.91,124.23 334.17,124.22 334.42,124.21 334.68,124.2 334.94,124.19 335.19,124.18 335.45,124.17 335.7,124.16 335.96,124.15 336.22,124.14 336.47,124.13 336.73,124.12 336.99,124.11 337.24,124.1 337.5,124.09 337.75,124.07 338.01,124.06 338.27,124.05 338.52,124.04 338.78,124.03 339.03,124.01 339.29,124 339.55,123.99 339.8,123.97 340.06,123.96 340.31,123.95 340.57,123.93 340.83,123.92 341.08,123.9 341.34,123.89 341.59,123.87 341.85,123.85 342.11,123.84 342.36,123.82 342.62,123.8 342.88,123.79 343.13,123.77 343.39,123.75 343.64,123.73 343.9,123.71 344.16,123.69 344.41,123.67 344.67,123.65 344.92,123.62 345.18,123.6 345.44,123.58 345.69,123.55 345.95,123.53 346.2,123.5 346.46,123.47 346.72,123.44 346.97,123.41 347.23,123.38 347.49,123.35 347.74,123.32 348,123.28 348.25,123.25 348.51,123.21 348.77,123.17 349.02,123.13 349.28,123.09 349.53,123.04 349.79,123 350.05,122.95 350.3,122.9 350.56,122.85 350.81,122.79 351.07,122.73 351.33,122.67 351.58,122.61 351.84,122.54 352.1,122.47 352.35,122.4 352.61,122.32 352.86,122.24 353.12,122.15 353.38,122.07 353.63,121.97 353.89,121.87 354.14,121.77 354.4,121.66 354.66,121.55 354.91,121.43 355.17,121.31 355.42,121.18 355.68,121.04 355.94,120.9 356.19,120.75 356.45,120.59 356.7,120.43 356.96,120.26 357.22,120.08 357.47,119.89 357.73,119.7 357.99,119.49 358.24,119.28 358.5,119.06 358.75,118.83 359.01,118.58 359.27,118.33 359.52,118.07 359.78,117.8 360.03,117.52 360.29,117.23 360.55,116.92 360.8,116.61 361.06,116.28 361.31,115.95 361.57,115.6 361.83,115.24 362.08,114.86 362.34,114.48 362.6,114.08 362.85,113.68 363.11,113.26 363.36,112.82 363.62,112.38 363.88,111.92 364.13,111.46 364.39,110.98 364.64,110.49 364.9,109.99 365.16,109.48 365.41,108.95 365.67,108.42 365.92,107.88 366.18,107.33 366.44,106.76 366.69,106.19 366.95,105.62 367.2,105.03 367.46,104.44 367.72,103.84 367.97,103.23 368.23,102.62 368.49,102.01 368.74,101.39 369,100.77 369.25,100.15 369.51,99.53 369.77,98.91 370.02,98.3 370.28,97.68 370.53,97.07 370.79,96.47 371.05,95.87 371.3,95.28 371.56,94.7 371.81,94.13 372.07,93.57 372.33,93.03 372.58,92.51 372.84,92 373.1,91.51 373.35,91.04 373.61,90.59 373.86,90.17 374.12,89.77 374.38,89.4 374.63,89.06 374.89,88.75 375.14,88.47 375.4,88.22 375.66,88.01 375.91,87.83 376.17,87.68 376.42,87.58 376.68,87.5 376.94,87.47 377.19,87.47 377.45,87.51 377.71,87.58 377.96,87.7 378.22,87.85 378.47,88.03 378.73,88.25 378.99,88.5 379.24,88.78 379.5,89.1 379.75,89.44 380.01,89.81 380.27,90.21 380.52,90.64 380.78,91.09 381.03,91.56 381.29,92.05 381.55,92.56 381.8,93.09 382.06,93.63 382.31,94.19 382.57,94.76 382.83,95.34 383.08,95.93 383.34,96.53 383.6,97.14 383.85,97.75 384.11,98.36 384.36,98.98 384.62,99.6 384.88,100.22 385.13,100.84 385.39,101.46 385.64,102.08 385.9,102.69 386.16,103.3 386.41,103.9 386.67,104.5 386.92,105.09 387.18,105.68 387.44,106.25 387.69,106.82 387.95,107.38 388.21,107.94 388.46,108.48 388.72,109.01 388.97,109.53 389.23,110.04 389.49,110.54 389.74,111.03 390,111.51 390.25,111.97 390.51,112.43 390.77,112.87 391.02,113.3 391.28,113.72 391.53,114.13 391.79,114.52 392.05,114.9 392.3,115.28 392.56,115.63 392.82,115.98 393.07,116.32 393.33,116.64 393.58,116.96 393.84,117.26 394.1,117.55 394.35,117.83 394.61,118.1 394.86,118.36 395.12,118.61 395.38,118.85 395.63,119.08 395.89,119.3 396.14,119.51 396.4,119.72 396.66,119.91 396.91,120.1 397.17,120.28 397.42,120.45 397.68,120.61 397.94,120.77 398.19,120.91 398.45,121.06 398.71,121.19 398.96,121.32 399.22,121.45 399.47,121.56 399.73,121.68 399.99,121.78 400.24,121.89 400.5,121.98 400.75,122.08 401.01,122.16 401.27,122.25 401.52,122.33 401.78,122.41 402.03,122.48 402.29,122.55 402.55,122.61 402.8,122.68 403.06,122.74 403.32,122.8 403.57,122.85 403.83,122.9 404.08,122.95 404.34,123 404.6,123.05 404.85,123.09 405.11,123.14 405.36,123.18 405.62,123.21 405.88,123.25 406.13,123.29 406.39,123.32 406.64,123.35 406.9,123.39 407.16,123.42 407.41,123.45 407.67,123.47 407.93,123.5 408.18,123.53 408.44,123.55 408.69,123.58 408.95,123.6 409.21,123.63 409.46,123.65 409.72,123.67 409.97,123.69 410.23,123.71 410.49,123.73 410.74,123.75 411,123.77 411.25,123.79 411.51,123.81 411.77,123.82 412.02,123.84 412.28,123.86 412.53,123.87 412.79,123.89 413.05,123.9 413.3,123.92 413.56,123.93 413.82,123.95 414.07,123.96 414.33,123.97 414.58,123.99 414.84,124 415.1,124.01 415.35,124.03 415.61,124.04 415.86,124.05 416.12,124.06 416.38,124.07 416.63,124.09 416.89,124.1 417.14,124.11 417.4,124.12 417.66,124.13 417.91,124.14 418.17,124.15 418.43,124.16 418.68,124.17 418.94,124.18 419.19,124.19 419.45,124.2 419.71,124.21 419.96,124.22 420.22,124.23 420.47,124.24 420.73,124.24 420.99,124.25 421.24,124.26 421.5,124.27 421.75,124.28 422.01,124.28 422.27,124.29 422.52,124.3 422.78,124.31 423.04,124.32 423.29,124.32 423.55,124.33 423.8,124.34 424.06,124.34 424.32,124.35 424.57,124.36 424.83,124.36 425.08,124.37 425.34,124.38 425.6,124.38 425.85,124.39 426.11,124.4 426.36,124.4 426.62,124.41 426.88,124.41 427.13,124.42 427.39,124.43 427.64,124.43 427.9,124.44 428.16,124.44 428.41,124.45 428.67,124.45 428.93,124.46 429.18,124.46 429.44,124.47 429.69,124.47 429.95,124.48 430.21,124.48 430.46,124.49 430.72,124.49 430.97,124.5 431.23,124.5 431.49,124.51 431.74,124.51 432,124.52 432.25,124.52 432.51,124.53 432.77,124.53 433.02,124.53 433.28,124.54 433.54,124.54 433.79,124.55 434.05,124.55 434.3,124.55 434.56,124.56 434.82,124.56 435.07,124.57 435.33,124.57 435.58,124.57 435.84,124.58 436.1,124.58 436.35,124.59 436.61,124.59 436.86,124.59 437.12,124.6 437.38,124.6 437.63,124.6 437.89,124.61 438.15,124.61 438.4,124.61 438.66,124.62 438.91,124.62 439.17,124.62 439.43,124.63 439.68,124.63 439.94,124.63 440.19,124.63 440.45,124.64 440.71,124.64 440.96,124.64 441.22,124.65 441.47,124.65 441.73,124.65 441.99,124.65 442.24,124.66 442.5,124.66 442.75,124.66 443.01,124.67 443.27,124.67 443.52,124.67 443.78,124.67 444.04,124.68 444.29,124.68 444.55,124.68 444.8,124.68 445.06,124.69 445.32,124.69 445.57,124.69 445.83,124.69 446.08,124.69 446.34,124.7 446.6,124.7 446.85,124.7 447.11,124.7 447.36,124.71 447.62,124.71 447.88,124.71 448.13,124.71 448.39,124.71 448.65,124.72 448.9,124.72 449.16,124.72 449.41,124.72 449.67,124.72 449.93,124.73 450.18,124.73 450.44,124.73 450.69,124.73 450.95,124.73 451.21,124.74 451.46,124.74 451.72,124.74 451.97,124.74 452.23,124.74 452.49,124.75 452.74,124.75 453,124.75 453.26,124.75 453.51,124.75 453.77,124.75 454.02,124.76 454.28,124.76 454.54,124.76 454.79,124.76 455.05,124.76 455.3,124.76 455.56,124.77 455.82,124.77 456.07,124.77 456.33,124.77 456.58,124.77 456.84,124.77 457.1,124.77 457.35,124.78 457.61,124.78 457.86,124.78 458.12,124.78 458.38,124.78 458.63,124.78 458.89,124.78 459.15,124.79 459.4,124.79 459.66,124.79 459.91,124.79 460.17,124.79 460.43,124.79 460.68,124.79 460.94,124.8 461.19,124.8 461.45,124.8 461.71,124.8 461.96,124.8" fill="none" stroke="#00ff00" stroke-width="1.5" stroke-linejoin="round" />
<polyline points="257.34,125.01 257.59,125.01 257.85,125.01 258.11,125.01 258.36,125.01 258.62,125.01 258.87,125.01 259.13,125.01 259.39,125.01 259.64,125.01 259.9,125.01 260.15,125.01 260.41,125.01 260.67,125.01 260.92,125.01 261.18,125.01 261.44,125.01 261.69,125.01 261.95,125.01 262.2,125.01 262.46,125.01 262.72,125.01 262.97,125.01 263.23,125.01 263.48,125.01 263.74,125.01 264,125.01 264.25,125.01 264.51,125.01 264.76,125.01 265.02,125.01 265.28,125.01 265.53,125.01 265.79,125.01 266.04,125.01 266.3,125.01 266.56,125.01 266.81,125.01 267.07,125.01 267.33,125.01 267.58,125.01 267.84,125.01 268.09,125.01 268.35,125.01 268.61,125.01 268.86,125.01 269.12,125.01 269.37,125.01 269.63,125.01 269.89,125.01 270.14,125.01 270.4,125.01 270.65,125.01 270.91,125.01 271.17,125.01 271.42,125.01 271.68,125.01 271.94,125.01 272.19,125.01 272.45,125.01 272.7,125.01 272.96,125.01 273.22,125.01 273.47,125.01 273.73,125.01 273.98,125.01 274.24,125.01 274.5,125.01 274.75,125.01 275.01,125.01 275.26,125.01 275.52,125.01 275.78,125.01 276.03,125.01 276.29,125.01 276.55,125.01 276.8,125.01 277.06,125.01 277.31,125.01 277.57,125.01 277.83,125.01 278.08,125.01 278.34,125.01 278.59,125.01 278.85,125.01 279.11,125.01 279.36,125.01 279.62,125.01 279.87,125.01 280.13,125.01 280.39,125.01 280.64,125.01 280.9,125.01 281.15,125.01 281.41,125.01 281.67,125.01 281.92,125.01 282.18,125.01 282.44,125.01 282.69,125.01 282.95,125.01 283.2,125.01 283.46,125.01 283.72,125.01 283.97,125.01 284.23,125.01 284.48,125.01 284.74,125.01 285,125.01 285.25,125.01 285.51,125.01 285.76,125.01 286.02,125.01 286.28,125.01 286.53,125.01 286.79,125.01 287.05,125.01 287.3,125.01 287.56,125.01 287.81,125.01 288.07,125.01 288.33,125.01 288.58,125.01 288.84,125.01 289.09,125.01 289.35,125.01 289.61,125.01 289.86,125.01 290.12,125.01 290.37,125.01 290.63,125.01 290.89,125.01 291.14,125.01 291.4,125.01 291.66,125.01 291.91,125.01 292.17,125.01 292.42,125.01 292.68,125.01 292.94,125.01 293.19,125.01 293.45,125.01 293.7,125.01 293.96,125.01 294.22,125.01 294.47,125.01 294.73,125.01 294.98,125.01 295.24,125.01 295.5,125.01 295.75,125.01 296.01,125.01 296.26,125.01 296.52,125.01 296.78,125.01 297.03,125.01 297.29,125.01 297.55,125.01 297.8,125.01 298.06,125 298.31,125 298.57,125 298.83,125 299.08,125 299.34,125 299.59,125 299.85,124.99 300.11,124.99 300.36,124.99 300.62,124.99 300.87,124.98 301.13,124.98 301.39,124.98 301.64,124.97 301.9,124.97 302.16,124.96 302.41,124.96 302.67,124.95 302.92,124.94 303.18,124.93 303.44,124.93 303.69,124.92 303.95,124.91 304.2,124.9 304.46,124.88 304.72,124.87 304.97,124.85 305.23,124.84 305.48,124.82 305.74,124.8 306,124.78 306.25,124.76 306.51,124.73 306.77,124.7 307.02,124.67 307.28,124.64 307.53,124.61 307.79,124.57 308.05,124.53 308.3,124.48 308.56,124.43 308.81,124.38 309.07,124.32 309.33,124.26 309.58,124.2 309.84,124.13 310.09,124.05 310.35,123.97 310.61,123.88 310.86,123.78 311.12,123.68 311.37,123.57 311.63,123.46 311.89,123.33 312.14,123.2 312.4,123.05 312.66,122.9 312.91,122.74 313.17,122.56 313.42,122.38 313.68,122.18 313.94,121.98 314.19,121.76 314.45,121.52 314.7,121.27 314.96,121.01 315.22,120.73 315.47,120.44 315.73,120.13 315.98,119.8 316.24,119.46 316.5,119.1 316.75,118.72 317.01,118.32 317.27,117.9 317.52,117.46 317.78,117 318.03,116.52 318.29,116.01 318.55,115.49 318.8,114.94 319.06,114.37 319.31,113.77 319.57,113.15 319.83,112.51 320.08,111.84 320.34,111.15 320.59,110.43 320.85,109.69 321.11,108.92 321.36,108.13 321.62,107.32 321.88,106.47 322.13,105.61 322.39,104.72 322.64,103.8 322.9,102.86 323.16,101.9 323.41,100.92 323.67,99.91 323.92,98.88 324.18,97.83 324.44,96.76 324.69,95.68 324.95,94.57 325.2,93.45 325.46,92.31 325.72,91.16 325.97,90 326.23,88.82 326.48,87.64 326.74,86.45 327,85.25 327.25,84.04 327.51,82.84 327.77,81.63 328.02,80.42 328.28,79.21 328.53,78.01 328.79,76.82 329.05,75.63 329.3,74.46 329.56,73.3 329.81,72.15 330.07,71.03 330.33,69.92 330.58,68.83 330.84,67.77 331.09,66.73 331.35,65.72 331.61,64.74 331.86,63.8 332.12,62.89 332.38,62.01 332.63,61.17 332.89,60.38 333.14,59.62 333.4,58.91 333.66,58.24 333.91,57.62 334.17,57.05 334.42,56.53 334.68,56.06 334.94,55.64 335.19,55.27 335.45,54.96 335.7,54.7 335.96,54.5 336.22,54.35 336.47,54.26 336.73,54.22 336.99,54.24 337.24,54.31 337.5,54.45 337.75,54.63 338.01,54.87 338.27,55.17 338.52,55.52 338.78,55.92 339.03,56.38 339.29,56.89 339.55,57.44 339.8,58.05 340.06,58.7 340.31,59.4 340.57,60.14 340.83,60.92 341.08,61.75 341.34,62.61 341.59,63.51 341.85,64.45 342.11,65.41 342.36,66.41 342.62,67.44 342.88,68.5 343.13,69.58 343.39,70.68 343.64,71.8 343.9,72.94 344.16,74.1 344.41,75.27 344.67,76.45 344.92,77.64 345.18,78.84 345.44,80.04 345.69,81.25 345.95,82.46 346.2,83.67 346.46,84.87 346.72,86.07 346.97,87.27 347.23,88.46 347.49,89.63 347.74,90.8 348,91.96 348.25,93.1 348.51,94.22 348.77,95.33 349.02,96.43 349.28,97.5 349.53,98.56 349.79,99.59 350.05,100.6 350.3,101.6 350.56,102.57 350.81,103.51 351.07,104.43 351.33,105.33 351.58,106.21 351.84,107.06 352.1,107.88 352.35,108.68 352.61,109.46 352.86,110.21 353.12,110.93 353.38,111.63 353.63,112.31 353.89,112.96 354.14,113.58 354.4,114.19 354.66,114.76 354.91,115.32 355.17,115.85 355.42,116.36 355.68,116.85 355.94,117.32 356.19,117.76 356.45,118.19 356.7,118.59 356.96,118.98 357.22,119.35 357.47,119.7 357.73,120.03 357.99,120.34 358.24,120.64 358.5,120.93 358.75,121.19 359.01,121.45 359.27,121.68 359.52,121.91 359.78,122.12 360.03,122.32 360.29,122.51 360.55,122.69 360.8,122.85 361.06,123.01 361.31,123.15 361.57,123.29 361.83,123.42 362.08,123.54 362.34,123.65 362.6,123.75 362.85,123.85 363.11,123.94 363.36,124.02 363.62,124.1 363.88,124.18 364.13,124.24 364.39,124.31 364.64,124.36 364.9,124.42 365.16,124.47 365.41,124.51 365.67,124.56 365.92,124.6 366.18,124.63 366.44,124.66 366.69,124.7 366.95,124.72 367.2,124.75 367.46,124.77 367.72,124.79 367.97,124.81 368.23,124.83 368.49,124.85 368.74,124.87 369,124.88 369.25,124.89 369.51,124.9 369.77,124.91 370.02,124.92 370.28,124.93 370.53,124.94 370.79,124.95 371.05,124.95 371.3,124.96 371.56,124.97 371.81,124.97 372.07,124.97 372.33,124.98 372.58,124.98 372.84,124.99 373.1,124.99 373.35,124.99 373.61,124.99 373.86,125 374.12,125 374.38,125 374.63,125 374.89,125 375.14,125 375.4,125 375.66,125 375.91,125.01 376.17,125.01 376.42,125.01 376.68,125.01 376.94,125.01 377.19,125.01 377.45,125.01 377.71,125.01 377.96,125.01 378.22,125.01 378.47,125.01 378.73,125.01 378.99,125.01 379.24,125.01 379.5,125.01 379.75,125.01 380.01,125.01 380.27,125.01 380.52,125.01 380.78,125.01 381.03,125.01 381.29,125.01 381.55,125.01 381.8,125.01 382.06,125.01 382.31,125.01 382.57,125.01 382.83,125.01 383.08,125.01 383.34,125.01 383.6,125.01 383.85,125.01 384.11,125.01 384.36,125.01 384.62,125.01 384.88,125.01 385.13,125.01 385.39,125.01 385.64,125.01 385.9,125.01 386.16,125.01 386.41,125.01 386.67,125.01 386.92,125.01 387.18,125.01 387.44,125.01 387.69,125.01 387.95,125.01 388.21,125.01 388.46,125.01 388.72,125.01 388.97,125.01 389.23,125.01 389.49,125.01 389.74,125.01 390,125.01 390.25,125.01 390.51,125.01 390.77,125.01 391.02,125.01 391.28,125.01 391.53,125.01 391.79,125.01 392.05,125.01 392.3,125.01 392.56,125.01 392.82,125.01 393.07,125.01 393.33,125.01 393.58,125.01 393.84,125.01 394.1,125.01 394.35,125.01 394.61,125.01 394.86,125.01 395.12,125.01 395.38,125.01 395.63,125.01 395.89,125.01 396.14,125.01 396.4,125.01 396.66,125.01 396.91,125.01 397.17,125.01 397.42,125.01 397.68,125.01 397.94,125.01 398.19,125.01 398.45,125.01 398.71,125.01 398.96,125.01 399.22,125.01 399.47,125.01 399.73,125.01 399.99,125.01 400.24,125.01 400.5,125.01 400.75,125.01 401.01,125.01 401.27,125.01 401.52,125.01 401.78,125.01 402.03,125.01 402.29,125.01 402.55,125.01 402.8,125.01 403.06,125.01 403.32,125.01 403.57,125.01 403.83,125.01 404.08,125.01 404.34,125.01 404.6,125.01 404.85,125.01 405.11,125.01 405.36,125.01 405.62,125.01 405.88,125.01 406.13,125.01 406.39,125.01 406.64,125.01 406.9,125.01 407.16,125.01 407.41,125.01 407.67,125.01 407.93,125.01 408.18,125.01 408.44,125.01 408.69,125.01 408.95,125.01 409.21,125.01 409.46,125.01 409.72,125.01 409.97,125.01 410.23,125.01 410.49,125.01 410.74,125.01 411,125.01 411.25,125.01 411.51,125.01 411.77,125.01 412.02,125.01 412.28,125.01 412.53,125.01 412.79,125.01 413.05,125.01 413.3,125.01 413.56,125.01 413.82,125.01 414.07,125.01 414.33,125.01 414.58,125.01 414.84,125.01 415.1,125.01 415.35,125.01 415.61,125.01 415.86,125.01 416.12,125.01 416.38,125.01 416.63,125.01 416.89,125.01 417.14,125.01 417.4,125.01 417.66,125.01 417.91,125.01 418.17,125.01 418.43,125.01 418.68,125.01 418.94,125.01 419.19,125.01 419.45,125.01 419.71,125.01 419.96,125.01 420.22,125.01 420.47,125.01 420.73,125.01 420.99,125.01 421.24,125.01 421.5,125.01 421.75,125.01 422.01,125.01 422.27,125.01 422.52,125.01 422.78,125.01 423.04,125.01 423.29,125.01 423.55,125.01 423.8,125.01 424.06,125.01 424.32,125.01 424.57,125.01 424.83,125.01 425.08,125.01 425.34,125.01 425.6,125.01 425.85,125.01 426.11,125.01 426.36,125.01 426.62,125.01 426.88,125.01 427.13,125.01 427.39,125.01 427.64,125.01 427.9,125.01 428.16,125.01 428.41,125.01 428.67,125.01 428.93,125.01 429.18,125.01 429.44,125.01 429.69,125.01 429.95,125.01 430.21,125.01 430.46,125.01 430.72,125.01 430.97,125.01 431.23,125.01 431.49,125.01 431.74,125.01 432,125.01 432.25,125.01 432.51,125.01 432.77,125.01 433.02,125.01 433.28,125.01 433.54,125.01 433.79,125.01 434.05,125.01 434.3,125.01 434.56,125.01 434.82,125.01 435.07,125.01 435.33,125.01 435.58,125.01 435.84,125.01 436.1,125.01 436.35,125.01 436.61,125.01 436.86,125.01 437.12,125.01 437.38,125.01 437.63,125.01 437.89,125.01 438.15,125.01 438.4,125.01 438.66,125.01 438.91,125.01 439.17,125.01 439.43,125.01 439.68,125.01 439.94,125.01 440.19,125.01 440.45,125.01 440.71,125.01 440.96,125.01 441.22,125.01 441.47,125.01 441.73,125.01 441.99,125.01 442.24,125.01 442.5,125.01 442.75,125.01 443.01,125.01 443.27,125.01 443.52,125.01 443.78,125.01 444.04,125.01 444.29,125.01 444.55,125.01 444.8,125.01 445.06,125.01 445.32,125.01 445.57,125.01 445.83,125.01 446.08,125.01 446.34,125.01 446.6,125.01 446.85,125.01 447.11,125.01 447.36,125.01 447.62,125.01 447.88,125.01 448.13,125.01 448.39,125.01 448.65,125.01 448.9,125.01 449.16,125.01 449.41,125.01 449.67,125.01 449.93,125.01 450.18,125.01 450.44,125.01 450.69,125.01 450.95,125.01 451.21,125.01 451.46,125.01 451.72,125.01 451.97,125.01 452.23,125.01 452.49,125.01 452.74,125.01 453,125.01 453.26,125.01 453.51,125.01 453.77,125.01 454.02,125.01 454.28,125.01 454.54,125.01 454.79,125.01 455.05,125.01 455.3,125.01 455.56,125.01 455.82,125.01 456.07,125.01 456.33,125.01 456.58,125.01 456.84,125.01 457.1,125.01 457.35,125.01 457.61,125.01 457.86,125.01 458.12,125.01 458.38,125.01 458.63,125.01 458.89,125.01 459.15,125.01 459.4,125.01 459.66,125.01 459.91,125.01 460.17,125.01 460.43,125.01 460.68,125.01 460.94,125.01 461.19,125.01 461.45,125.01 461.71,125.01 461.96,125.01" fill="none" stroke="#0000ff" stroke-width="1.5" stroke-linejoin="round" />
<polyline points="257.34,124.91 257.59,124.9 257.85,124.9 258.11,124.9 258.36,124.89 258.62,124.89 258.87,124.89 259.13,124.88 259.39,124.88 259.64,124.87 259.9,124.87 260.15,124.86 260.41,124.86 260.67,124.85 260.92,124.84 261.18,124.84 261.44,124.83 261.69,124.82 261.95,124.81 262.2,124.8 262.46,124.79 262.72,124.78 262.97,124.76 263.23,124.75 263.48,124.74 263.74,124.72 264,124.7 264.25,124.68 264.51,124.66 264.76,124.64 265.02,124.62 265.28,124.59 265.53,124.56 265.79,124.53 266.04,124.5 266.3,124.47 266.56,124.43 266.81,124.39 267.07,124.35 267.33,124.31 267.58,124.26 267.84,124.2 268.09,124.15 268.35,124.09 268.61,124.03 268.86,123.96 269.12,123.88 269.37,123.81 269.63,123.72 269.89,123.64 270.14,123.54 270.4,123.44 270.65,123.33 270.91,123.22 271.17,123.1 271.42,122.97 271.68,122.84 271.94,122.69 272.19,122.54 272.45,122.38 272.7,122.21 272.96,122.03 273.22,121.84 273.47,121.64 273.73,121.43 273.98,121.2 274.24,120.97 274.5,120.72 274.75,120.46 275.01,120.19 275.26,119.91 275.52,119.61 275.78,119.29 276.03,118.97 276.29,118.62 276.55,118.27 276.8,117.89 277.06,117.5 277.31,117.09 277.57,116.67 277.83,116.23 278.08,115.77 278.34,115.3 278.59,114.8 278.85,114.29 279.11,113.76 279.36,113.21 279.62,112.65 279.87,112.06 280.13,111.46 280.39,110.83 280.64,110.19 280.9,109.53 281.15,108.85 281.41,108.15 281.67,107.43 281.92,106.7 282.18,105.94 282.44,105.17 282.69,104.38 282.95,103.58 283.2,102.76 283.46,101.92 283.72,101.07 283.97,100.2 284.23,99.32 284.48,98.42 284.74,97.52 285,96.6 285.25,95.67 285.51,94.73 285.76,93.78 286.02,92.83 286.28,91.87 286.53,90.9 286.79,89.93 287.05,88.95 287.3,87.98 287.56,87 287.81,86.03 288.07,85.06 288.33,84.09 288.58,83.13 288.84,82.17 289.09,81.23 289.35,80.29 289.61,79.37 289.86,78.45 290.12,77.56 290.37,76.68 290.63,75.81 290.89,74.97 291.14,74.15 291.4,73.35 291.66,72.57 291.91,71.82 292.17,71.09 292.42,70.4 292.68,69.73 292.94,69.1 293.19,68.49 293.45,67.92 293.7,67.39 293.96,66.89 294.22,66.43 294.47,66 294.73,65.62 294.98,65.27 295.24,64.97 295.5,64.7 295.75,64.48 296.01,64.3 296.26,64.16 296.52,64.06 296.78,64.01 297.03,64 297.29,64.03 297.55,64.11 297.8,64.23 298.06,64.39 298.31,64.59 298.57,64.84 298.83,65.12 299.08,65.45 299.34,65.82 299.59,66.22 299.85,66.67 300.11,67.15 300.36,67.67 300.62,68.22 300.87,68.81 301.13,69.43 301.39,70.08 301.64,70.76 301.9,71.48 302.16,72.21 302.41,72.98 302.67,73.77 302.92,74.58 303.18,75.42 303.44,76.27 303.69,77.14 303.95,78.03 304.2,78.94 304.46,79.86 304.72,80.79 304.97,81.73 305.23,82.68 305.48,83.64 305.74,84.6 306,85.57 306.25,86.55 306.51,87.52 306.77,88.5 307.02,89.47 307.28,90.44 307.53,91.41 307.79,92.38 308.05,93.34 308.3,94.29 308.56,95.23 308.81,96.16 309.07,97.09 309.33,98 309.58,98.9 309.84,99.79 310.09,100.66 310.35,101.52 310.61,102.36 310.86,103.19 311.12,104.01 311.37,104.8 311.63,105.58 311.89,106.34 312.14,107.09 312.4,107.81 312.66,108.52 312.91,109.21 313.17,109.88 313.42,110.53 313.68,111.17 313.94,111.78 314.19,112.37 314.45,112.95 314.7,113.51 314.96,114.05 315.22,114.57 315.47,115.07 315.73,115.55 315.98,116.02 316.24,116.47 316.5,116.9 316.75,117.31 317.01,117.71 317.27,118.09 317.52,118.46 317.78,118.81 318.03,119.14 318.29,119.46 318.55,119.77 318.8,120.06 319.06,120.34 319.31,120.6 319.57,120.86 319.83,121.1 320.08,121.32 320.34,121.54 320.59,121.75 320.85,121.94 321.11,122.13 321.36,122.3 321.62,122.47 321.88,122.62 322.13,122.77 322.39,122.91 322.64,123.04 322.9,123.16 323.16,123.28 323.41,123.39 323.67,123.49 323.92,123.59 324.18,123.68 324.44,123.77 324.69,123.85 324.95,123.92 325.2,123.99 325.46,124.06 325.72,124.12 325.97,124.18 326.23,124.23 326.48,124.28 326.74,124.33 327,124.37 327.25,124.41 327.51,124.45 327.77,124.49 328.02,124.52 328.28,124.55 328.53,124.58 328.79,124.61 329.05,124.63 329.3,124.65 329.56,124.67 329.81,124.69 330.07,124.71 330.33,124.73 330.58,124.74 330.84,124.76 331.09,124.77 331.35,124.78 331.61,124.79 331.86,124.81 332.12,124.81 332.38,124.82 332.63,124.83 332.89,124.84 333.14,124.85 333.4,124.85 333.66,124.86 333.91,124.87 334.17,124.87 334.42,124.88 334.68,124.88 334.94,124.88 335.19,124.89 335.45,124.89 335.7,124.9 335.96,124.9 336.22,124.9 336.47,124.9 336.73,124.91 336.99,124.91 337.24,124.91 337.5,124.91 337.75,124.92 338.01,124.92 338.27,124.92 338.52,124.92 338.78,124.92 339.03,124.92 339.29,124.93 339.55,124.93 339.8,124.93 340.06,124.93 340.31,124.93 340.57,124.93 340.83,124.93 341.08,124.93 341.34,124.94 341.59,124.94 341.85,124.94 342.11,124.94 342.36,124.94 342.62,124.94 342.88,124.94 343.13,124.94 343.39,124.94 343.64,124.94 343.9,124.94 344.16,124.94 344.41,124.95 344.67,124.95 344.92,124.95 345.18,124.95 345.44,124.95 345.69,124.95 345.95,124.95 346.2,124.95 346.46,124.95 346.72,124.95 346.97,124.95 347.23,124.95 347.49,124.95 347.74,124.95 348,124.95 348.25,124.95 348.51,124.96 348.77,124.96 349.02,124.96 349.28,124.96 349.53,124.96 349.79,124.96 350.05,124.96 350.3,124.96 350.56,124.96 350.81,124.96 351.07,124.96 351.33,124.96 351.58,124.96 351.84,124.96 352.1,124.96 352.35,124.96 352.61,124.96 352.86,124.96 353.12,124.96 353.38,124.96 353.63,124.97 353.89,124.97 354.14,124.97 354.4,124.97 354.66,124.97 354.91,124.97 355.17,124.97 355.42,124.97 355.68,124.97 355.94,124.97 356.19,124.97 356.45,124.97 356.7,124.97 356.96,124.97 357.22,124.97 357.47,124.97 357.73,124.97 357.99,124.97 358.24,124.97 358.5,124.97 358.75,124.97 359.01,124.97 359.27,124.97 359.52,124.97 359.78,124.97 360.03,124.97 360.29,124.97 360.55,124.97 360.8,124.97 361.06,124.98 361.31,124.98 361.57,124.98 361.83,124.98 362.08,124.98 362.34,124.98 362.6,124.98 362.85,124.98 363.11,124.98 363.36,124.98 363.62,124.98 363.88,124.98 364.13,124.98 364.39,124.98 364.64,124.98 364.9,124.98 365.16,124.98 365.41,124.98 365.67,124.98 365.92,124.98 366.18,124.98 366.44,124.98 366.69,124.98 366.95,124.98 367.2,124.98 367.46,124.98 367.72,124.98 367.97,124.98 368.23,124.98 368.49,124.98 368.74,124.98 369,124.98 369.25,124.98 369.51,124.98 369.77,124.98 370.02,124.98 370.28,124.98 370.53,124.98 370.79,124.98 371.05,124.98 371.3,124.98 371.56,124.98 371.81,124.98 372.07,124.98 372.33,124.99 372.58,124.99 372.84,124.99 373.1,124.99 373.35,124.99 373.61,124.99 373.86,124.99 374.12,124.99 374.38,124.99 374.63,124.99 374.89,124.99 375.14,124.99 375.4,124.99 375.66,124.99 375.91,124.99 376.17,124.99 376.42,124.99 376.68,124.99 376.94,124.99 377.19,124.99 377.45,124.99 377.71,124.99 377.96,124.99 378.22,124.99 378.47,124.99 378.73,124.99 378.99,124.99 379.24,124.99 379.5,124.99 379.75,124.99 380.01,124.99 380.27,124.99 380.52,124.99 380.78,124.99 381.03,124.99 381.29,124.99 381.55,124.99 381.8,124.99 382.06,124.99 382.31,124.99 382.57,124.99 382.83,124.99 383.08,124.99 383.34,124.99 383.6,124.99 383.85,124.99 384.11,124.99 384.36,124.99 384.62,124.99 384.88,124.99 385.13,124.99 385.39,124.99 385.64,124.99 385.9,124.99 386.16,124.99 386.41,124.99 386.67,124.99 386.92,124.99 387.18,124.99 387.44,124.99 387.69,124.99 387.95,124.99 388.21,124.99 388.46,124.99 388.72,124.99 388.97,124.99 389.23,124.99 389.49,124.99 389.74,124.99 390,124.99 390.25,124.99 390.51,124.99 390.77,124.99 391.02,124.99 391.28,124.99 391.53,124.99 391.79,125 392.05,125 392.3,125 392.56,125 392.82,125 393.07,125 393.33,125 393.58,125 393.84,125 394.1,125 394.35,125 394.61,125 394.86,125 395.12,125 395.38,125 395.63,125 395.89,125 396.14,125 396.4,125 396.66,125 396.91,125 397.17,125 397.42,125 397.68,125 397.94,125 398.19,125 398.45,125 398.71,125 398.96,125 399.22,125 399.47,125 399.73,125 399.99,125 400.24,125 400.5,125 400.75,125 401.01,125 401.27,125 401.52,125 401.78,125 402.03,125 402.29,125 402.55,125 402.8,125 403.06,125 403.32,125 403.57,125 403.83,125 404.08,125 404.34,125 404.6,125 404.85,125 405.11,125 405.36,125 405.62,125 405.88,125 406.13,125 406.39,125 406.64,125 406.9,125 407.16,125 407.41,125 407.67,125 407.93,125 408.18,125 408.44,125 408.69,125 408.95,125 409.21,125 409.46,125 409.72,125 409.97,125 410.23,125 410.49,125 410.74,125 411,125 411.25,125 411.51,125 411.77,125 412.02,125 412.28,125 412.53,125 412.79,125 413.05,125 413.3,125 413.56,125 413.82,125 414.07,125 414.33,125 414.58,125 414.84,125 415.1,125 415.35,125 415.61,125 415.86,125 416.12,125 416.38,125 416.63,125 416.89,125 417.14,125 417.4,125 417.66,125 417.91,125 418.17,125 418.43,125 418.68,125 418.94,125 419.19,125 419.45,125 419.71,125 419.96,125 420.22,125 420.47,125 420.73,125 420.99,125 421.24,125 421.5,125 421.75,125 422.01,125 422.27,125 422.52,125 422.78,125 423.04,125 423.29,125 423.55,125 423.8,125 424.06,125 424.32,125 424.57,125 424.83,125 425.08,125 425.34,125 425.6,125 425.85,125 426.11,125 426.36,125 426.62,125 426.88,125 427.13,125 427.39,125 427.64,125 427.9,125 428.16,125 428.41,125 428.67,125 428.93,125 429.18,125 429.44,125 429.69,125 429.95,125 430.21,125 430.46,125 430.72,125 430.97,125 431.23,125 431.49,125 431.74,125 432,125 432.25,125 432.51,125 432.77,125 433.02,125 433.28,125 433.54,125 433.79,125 434.05,125 434.3,125 434.56,125 434.82,125 435.07,125 435.33,125 435.58,125 435.84,125 436.1,125 436.35,125 436.61,125 436.86,125 437.12,125 437.38,125 437.63,125 437.89,125 438.15,125 438.4,125 438.66,125 438.91,125 439.17,125 439.43,125 439.68,125 439.94,125 440.19,125 440.45,125 440.71,125 440.96,125 441.22,125 441.47,125 441.73,125 441.99,125 442.24,125 442.5,125.01 442.75,125.01 443.01,125.01 443.27,125.01 443.52,125.01 443.78,125.01 444.04,125.01 444.29,125.01 444.55,125.01 444.8,125.01 445.06,125.01 445.32,125.01 445.57,125.01 445.83,125.01 446.08,125.01 446.34,125.01 446.6,125.01 446.85,125.01 447.11,125.01 447.36,125.01 447.62,125.01 447.88,125.01 448.13,125.01 448.39,125.01 448.65,125.01 448.9,125.01 449.16,125.01 449.41,125.01 449.67,125.01 449.93,125.01 450.18,125.01 450.44,125.01 450.69,125.01 450.95,125.01 451.21,125.01 451.46,125.01 451.72,125.01 451.97,125.01 452.23,125.01 452.49,125.01 452.74,125.01 453,125.01 453.26,125.01 453.51,125.01 453.77,125.01 454.02,125.01 454.28,125.01 454.54,125.01 454.79,125.01 455.05,125.01 455.3,125.01 455.56,125.01 455.82,125.01 456.07,125.01 456.33,125.01 456.58,125.01 456.84,125.01 457.1,125.01 457.35,125.01 457.61,125.01 457.86,125.01 458.12,125.01 458.38,125.01 458.63,125.01 458.89,125.01 459.15,125.01 459.4,125.01 459.66,125.01 459.91,125.01 460.17,125.01 460.43,125.01 460.68,125.01 460.94,125.01 461.19,125.01 461.45,125.01 461.71,125.01 461.96,125.01" fill="none" stroke="#00ffff" stroke-width="1.5" stroke-linejoin="round" />
<polyline points="257.34,124.8 257.59,124.8 257.85,124.79 258.11,124.79 258.36,124.78 258.62,124.78 258.87,124.78 259.13,124.77 259.39,124.77 259.64,124.76 259.9,124.76 260.15,124.75 260.41,124.74 260.67,124.74 260.92,124.73 261.18,124.72 261.44,124.71 261.69,124.7 261.95,124.69 262.2,124.68 262.46,124.67 262.72,124.66 262.97,124.65 263.23,124.63 263.48,124.62 263.74,124.6 264,124.58 264.25,124.56 264.51,124.54 264.76,124.52 265.02,124.49 265.28,124.47 265.53,124.44 265.79,124.41 266.04,124.38 266.3,124.34 266.56,124.31 266.81,124.27 267.07,124.22 267.33,124.18 267.58,124.13 267.84,124.08 268.09,124.02 268.35,123.96 268.61,123.9 268.86,123.83 269.12,123.75 269.37,123.67 269.63,123.59 269.89,123.5 270.14,123.41 270.4,123.31 270.65,123.2 270.91,123.08 271.17,122.96 271.42,122.83 271.68,122.7 271.94,122.55 272.19,122.4 272.45,122.24 272.7,122.07 272.96,121.89 273.22,121.7 273.47,121.49 273.73,121.28 273.98,121.06 274.24,120.82 274.5,120.58 274.75,120.32 275.01,120.04 275.26,119.76 275.52,119.46 275.78,119.14 276.03,118.82 276.29,118.47 276.55,118.11 276.8,117.74 277.06,117.35 277.31,116.94 277.57,116.52 277.83,116.07 278.08,115.62 278.34,115.14 278.59,114.65 278.85,114.13 279.11,113.6 279.36,113.05 279.62,112.48 279.87,111.9 280.13,111.29 280.39,110.67 280.64,110.02 280.9,109.36 281.15,108.68 281.41,107.98 281.67,107.26 281.92,106.53 282.18,105.77 282.44,105 282.69,104.21 282.95,103.4 283.2,102.58 283.46,101.74 283.72,100.89 283.97,100.02 284.23,99.14 284.48,98.24 284.74,97.34 285,96.42 285.25,95.49 285.51,94.55 285.76,93.6 286.02,92.64 286.28,91.68 286.53,90.71 286.79,89.74 287.05,88.77 287.3,87.79 287.56,86.81 287.81,85.84 288.07,84.87 288.33,83.9 288.58,82.93 288.84,81.98 289.09,81.03 289.35,80.09 289.61,79.17 289.86,78.25 290.12,77.35 290.37,76.47 290.63,75.61 290.89,74.76 291.14,73.94 291.4,73.14 291.66,72.36 291.91,71.61 292.17,70.88 292.42,70.18 292.68,69.52 292.94,68.88 293.19,68.28 293.45,67.71 293.7,67.17 293.96,66.67 294.22,66.2 294.47,65.78 294.73,65.39 294.98,65.04 295.24,64.74 295.5,64.47 295.75,64.24 296.01,64.06 296.26,63.92 296.52,63.82 296.78,63.77 297.03,63.76 297.29,63.79 297.55,63.86 297.8,63.98 298.06,64.14 298.31,64.34 298.57,64.58 298.83,64.86 299.08,65.19 299.34,65.55 299.59,65.95 299.85,66.39 300.11,66.87 300.36,67.39 300.62,67.94 300.87,68.52 301.13,69.13 301.39,69.78 301.64,70.46 301.9,71.16 302.16,71.89 302.41,72.65 302.67,73.43 302.92,74.23 303.18,75.06 303.44,75.9 303.69,76.76 303.95,77.64 304.2,78.53 304.46,79.44 304.72,80.35 304.97,81.28 305.23,82.21 305.48,83.15 305.74,84.1 306,85.04 306.25,85.99 306.51,86.94 306.77,87.88 307.02,88.83 307.28,89.76 307.53,90.69 307.79,91.62 308.05,92.53 308.3,93.44 308.56,94.33 308.81,95.21 309.07,96.07 309.33,96.92 309.58,97.75 309.84,98.57 310.09,99.36 310.35,100.14 310.61,100.89 310.86,101.62 311.12,102.33 311.37,103.01 311.63,103.67 311.89,104.31 312.14,104.91 312.4,105.49 312.66,106.05 312.91,106.57 313.17,107.06 313.42,107.53 313.68,107.96 313.94,108.36 314.19,108.74 314.45,109.07 314.7,109.38 314.96,109.65 315.22,109.89 315.47,110.1 315.73,110.27 315.98,110.41 316.24,110.51 316.5,110.57 316.75,110.6 317.01,110.6 317.27,110.56 317.52,110.48 317.78,110.37 318.03,110.22 318.29,110.03 318.55,109.8 318.8,109.54 319.06,109.25 319.31,108.91 319.57,108.54 319.83,108.14 320.08,107.69 320.34,107.21 320.59,106.7 320.85,106.15 321.11,105.56 321.36,104.94 321.62,104.28 321.88,103.59 322.13,102.87 322.39,102.11 322.64,101.32 322.9,100.51 323.16,99.66 323.41,98.78 323.67,97.87 323.92,96.93 324.18,95.97 324.44,94.98 324.69,93.97 324.95,92.93 325.2,91.88 325.46,90.8 325.72,89.71 325.97,88.6 326.23,87.47 326.48,86.33 326.74,85.18 327,84.02 327.25,82.85 327.51,81.67 327.77,80.49 328.02,79.31 328.28,78.13 328.53,76.95 328.79,75.78 329.05,74.61 329.3,73.45 329.56,72.31 329.81,71.17 330.07,70.06 330.33,68.96 330.58,67.88 330.84,66.82 331.09,65.79 331.35,64.79 331.61,63.81 331.86,62.87 332.12,61.96 332.38,61.09 332.63,60.25 332.89,59.45 333.14,58.7 333.4,57.98 333.66,57.31 333.91,56.69 334.17,56.12 334.42,55.59 334.68,55.11 334.94,54.69 335.19,54.32 335.45,54 335.7,53.73 335.96,53.52 336.22,53.37 336.47,53.26 336.73,53.22 336.99,53.23 337.24,53.3 337.5,53.42 337.75,53.6 338.01,53.83 338.27,54.11 338.52,54.45 338.78,54.85 339.03,55.29 339.29,55.79 339.55,56.33 339.8,56.92 340.06,57.56 340.31,58.25 340.57,58.98 340.83,59.75 341.08,60.56 341.34,61.41 341.59,62.29 341.85,63.21 342.11,64.16 342.36,65.15 342.62,66.16 342.88,67.2 343.13,68.26 343.39,69.34 343.64,70.45 343.9,71.57 344.16,72.71 344.41,73.86 344.67,75.02 344.92,76.19 345.18,77.36 345.44,78.54 345.69,79.73 345.95,80.91 346.2,82.09 346.46,83.27 346.72,84.44 346.97,85.61 347.23,86.77 347.49,87.91 347.74,89.05 348,90.17 348.25,91.28 348.51,92.37 348.77,93.44 349.02,94.49 349.28,95.52 349.53,96.53 349.79,97.52 350.05,98.49 350.3,99.43 350.56,100.35 350.81,101.24 351.07,102.1 351.33,102.94 351.58,103.75 351.84,104.53 352.1,105.29 352.35,106.02 352.61,106.71 352.86,107.38 353.12,108.02 353.38,108.64 353.63,109.22 353.89,109.77 354.14,110.3 354.4,110.79 354.66,111.26 354.91,111.69 355.17,112.1 355.42,112.48 355.68,112.84 355.94,113.16 356.19,113.46 356.45,113.73 356.7,113.97 356.96,114.18 357.22,114.37 357.47,114.54 357.73,114.67 357.99,114.78 358.24,114.87 358.5,114.93 358.75,114.97 359.01,114.98 359.27,114.97 359.52,114.93 359.78,114.87 360.03,114.79 360.29,114.68 360.55,114.56 360.8,114.41 361.06,114.24 361.31,114.05 361.57,113.84 361.83,113.6 362.08,113.35 362.34,113.08 362.6,112.79 362.85,112.48 363.11,112.15 363.36,111.8 363.62,111.44 363.88,111.05 364.13,110.65 364.39,110.24 364.64,109.81 364.9,109.36 365.16,108.9 365.41,108.42 365.67,107.93 365.92,107.43 366.18,106.91 366.44,106.38 366.69,105.84 366.95,105.29 367.2,104.73 367.46,104.17 367.72,103.59 367.97,103 368.23,102.41 368.49,101.82 368.74,101.22 369,100.61 369.25,100 369.51,99.4 369.77,98.79 370.02,98.18 370.28,97.57 370.53,96.97 370.79,96.37 371.05,95.78 371.3,95.2 371.56,94.62 371.81,94.06 372.07,93.51 372.33,92.97 372.58,92.45 372.84,91.94 373.1,91.46 373.35,90.99 373.61,90.55 373.86,90.13 374.12,89.73 374.38,89.36 374.63,89.02 374.89,88.71 375.14,88.43 375.4,88.19 375.66,87.97 375.91,87.79 376.17,87.65 376.42,87.54 376.68,87.47 376.94,87.43 377.19,87.44 377.45,87.48 377.71,87.55 377.96,87.66 378.22,87.81 378.47,87.99 378.73,88.21 378.99,88.46 379.24,88.74 379.5,89.06 379.75,89.4 380.01,89.77 380.27,90.17 380.52,90.59 380.78,91.04 381.03,91.51 381.29,91.99 381.55,92.5 381.8,93.02 382.06,93.56 382.31,94.12 382.57,94.68 382.83,95.25 383.08,95.84 383.34,96.43 383.6,97.03 383.85,97.63 384.11,98.23 384.36,98.84 384.62,99.45 384.88,100.05 385.13,100.66 385.39,101.26 385.64,101.86 385.9,102.45 386.16,103.04 386.41,103.62 386.67,104.19 386.92,104.76 387.18,105.31 387.44,105.85 387.69,106.39 387.95,106.91 388.21,107.42 388.46,107.91 388.72,108.4 388.97,108.86 389.23,109.32 389.49,109.75 389.74,110.17 390,110.58 390.25,110.96 390.51,111.33 390.77,111.68 391.02,112.01 391.28,112.33 391.53,112.62 391.79,112.89 392.05,113.15 392.3,113.38 392.56,113.59 392.82,113.77 393.07,113.94 393.33,114.08 393.58,114.2 393.84,114.3 394.1,114.37 394.35,114.42 394.61,114.44 394.86,114.44 395.12,114.41 395.38,114.35 395.63,114.27 395.89,114.16 396.14,114.02 396.4,113.86 396.66,113.66 396.91,113.44 397.17,113.19 397.42,112.9 397.68,112.59 397.94,112.25 398.19,111.87 398.45,111.46 398.71,111.03 398.96,110.55 399.22,110.05 399.47,109.51 399.73,108.94 399.99,108.33 400.24,107.69 400.5,107.02 400.75,106.31 401.01,105.56 401.27,104.78 401.52,103.97 401.78,103.12 402.03,102.24 402.29,101.32 402.55,100.36 402.8,99.38 403.06,98.35 403.32,97.3 403.57,96.21 403.83,95.09 404.08,93.93 404.34,92.74 404.6,91.53 404.85,90.28 405.11,89.01 405.36,87.7 405.62,86.37 405.88,85.02 406.13,83.64 406.39,82.24 406.64,80.81 406.9,79.37 407.16,77.91 407.41,76.43 407.67,74.94 407.93,73.44 408.18,71.93 408.44,70.41 408.69,68.88 408.95,67.35 409.21,65.82 409.46,64.29 409.72,62.76 409.97,61.24 410.23,59.73 410.49,58.23 410.74,56.75 411,55.28 411.25,53.83 411.51,52.4 411.77,51 412.02,49.62 412.28,48.28 412.53,46.97 412.79,45.69 413.05,44.46 413.3,43.26 413.56,42.11 413.82,41 414.07,39.94 414.33,38.93 414.58,37.97 414.84,37.07 415.1,36.22 415.35,35.44 415.61,34.71 415.86,34.04 416.12,33.44 416.38,32.9 416.63,32.43 416.89,32.03 417.14,31.69 417.4,31.42 417.66,31.22 417.91,31.09 418.17,31.03 418.43,31.05 418.68,31.13 418.94,31.28 419.19,31.5 419.45,31.79 419.71,32.15 419.96,32.58 420.22,33.08 420.47,33.64 420.73,34.26 420.99,34.95 421.24,35.71 421.5,36.52 421.75,37.39 422.01,38.31 422.27,39.29 422.52,40.33 422.78,41.41 423.04,42.54 423.29,43.72 423.55,44.94 423.8,46.2 424.06,47.5 424.32,48.84 424.57,50.21 424.83,51.61 425.08,53.03 425.34,54.49 425.6,55.96 425.85,57.46 426.11,58.97 426.36,60.49 426.62,62.03 426.88,63.58 427.13,65.13 427.39,66.69 427.64,68.25 427.9,69.81 428.16,71.37 428.41,72.92 428.67,74.46 428.93,76 429.18,77.52 429.44,79.03 429.69,80.53 429.95,82.01 430.21,83.47 430.46,84.91 430.72,86.33 430.97,87.72 431.23,89.1 431.49,90.44 431.74,91.76 432,93.06 432.25,94.32 432.51,95.56 432.77,96.77 433.02,97.95 433.28,99.1 433.54,100.21 433.79,101.3 434.05,102.35 434.3,103.38 434.56,104.37 434.82,105.33 435.07,106.25 435.33,107.15 435.58,108.02 435.84,108.85 436.1,109.66 436.35,110.43 436.61,111.18 436.86,111.89 437.12,112.58 437.38,113.24 437.63,113.87 437.89,114.47 438.15,115.05 438.4,115.6 438.66,116.13 438.91,116.63 439.17,117.11 439.43,117.56 439.68,118 439.94,118.41 440.19,118.8 440.45,119.17 440.71,119.52 440.96,119.85 441.22,120.17 441.47,120.47 441.73,120.75 441.99,121.01 442.24,121.26 442.5,121.5 442.75,121.72 443.01,121.93 443.27,122.13 443.52,122.31 443.78,122.48 444.04,122.64 444.29,122.8 444.55,122.94 444.8,123.07 445.06,123.19 445.32,123.31 445.57,123.42 445.83,123.52 446.08,123.61 446.34,123.7 446.6,123.78 446.85,123.86 447.11,123.93 447.36,123.99 447.62,124.05 447.88,124.11 448.13,124.16 448.39,124.21 448.65,124.26 448.9,124.3 449.16,124.33 449.41,124.37 449.67,124.4 449.93,124.43 450.18,124.46 450.44,124.49 450.69,124.51 450.95,124.53 451.21,124.55 451.46,124.57 451.72,124.59 451.97,124.6 452.23,124.62 452.49,124.63 452.74,124.64 453,124.65 453.26,124.66 453.51,124.67 453.77,124.68 454.02,124.69 454.28,124.7 454.54,124.71 454.79,124.71 455.05,124.72 455.3,124.72 455.56,124.73 455.82,124.73 456.07,124.74 456.33,124.74 456.58,124.75 456.84,124.75 457.1,124.75 457.35,124.76 457.61,124.76 457.86,124.76 458.12,124.76 458.38,124.77 458.63,124.77 458.89,124.77 459.15,124.77 459.4,124.78 459.66,124.78 459.91,124.78 460.17,124.78 460.43,124.78 460.68,124.79 460.94,124.79 461.19,124.79 461.45,124.79 461.71,124.79 461.96,124.79" fill="none" stroke="#ff00ff" stroke-width="1.6" stroke-linejoin="round" />
</g>
<text transform="translate(297.63,115.1) rotate(-90)" font-family="'Liberation Sans', Arial, sans-serif" font-size="4.8" fill="#333" font-weight="bold" textLength="46.4" lengthAdjust="spacingAndGlyphs">965.09 eV (2p<tspan font-size="3.6" dy="0.9">1/2</tspan><tspan dy="-0.9">, sat)</tspan></text>
<text transform="translate(337.03,116.7) rotate(-90)" font-family="'Liberation Sans', Arial, sans-serif" font-size="4.8" fill="#333" font-weight="bold" textLength="39.3" lengthAdjust="spacingAndGlyphs">955.76 eV (2p<tspan font-size="3.6" dy="0.9">3/2</tspan><tspan dy="-0.9">)</tspan></text>
<text transform="translate(378.73,118.5) rotate(-90)" font-family="'Liberation Sans', Arial, sans-serif" font-size="4.8" fill="#333" font-weight="bold" textLength="46.3" lengthAdjust="spacingAndGlyphs">945.9 eV (2p<tspan font-size="3.6" dy="0.9">1/2</tspan><tspan dy="-0.9">, sat)</tspan></text>
<text transform="translate(418.13,115.5) rotate(-90)" font-family="'Liberation Sans', Arial, sans-serif" font-size="4.8" fill="#333" font-weight="bold" textLength="39.3" lengthAdjust="spacingAndGlyphs">935.99 eV (2p<tspan font-size="3.6" dy="0.9">3/2</tspan><tspan dy="-0.9">)</tspan></text>
<line x1="337.2" y1="26.3" x2="351.1" y2="26.3" stroke="#222" stroke-width="1.1"/>
<text x="352.4" y="28.46" font-family="'Liberation Sans', Arial, sans-serif" font-weight="bold" font-size="6.0" fill="#333" stroke="#333" stroke-width="0.14">(Cu (2p))</text>
<text x="48.7" y="192.7" font-family="'Liberation Serif', 'Times New Roman', serif" font-weight="bold" font-size="12.5" fill="#111" stroke="#111" stroke-width="0.25">c)</text>
<g stroke="#111" stroke-width="1.1"><line x1="47.5" y1="333.9" x2="47.5" y2="336.5"/><line x1="83.94" y1="333.9" x2="83.94" y2="336.5"/><line x1="120.38" y1="333.9" x2="120.38" y2="336.5"/><line x1="156.82" y1="333.9" x2="156.82" y2="336.5"/><line x1="193.26" y1="333.9" x2="193.26" y2="336.5"/><line x1="229.7" y1="333.9" x2="229.7" y2="336.5"/><line x1="65.72" y1="333.9" x2="65.72" y2="335.6"/><line x1="102.16" y1="333.9" x2="102.16" y2="335.6"/><line x1="138.6" y1="333.9" x2="138.6" y2="335.6"/><line x1="175.04" y1="333.9" x2="175.04" y2="335.6"/><line x1="211.48" y1="333.9" x2="211.48" y2="335.6"/><line x1="44.7" y1="318.5" x2="47.5" y2="318.5"/><line x1="44.7" y1="288.52" x2="47.5" y2="288.52"/><line x1="44.7" y1="258.55" x2="47.5" y2="258.55"/><line x1="44.7" y1="228.57" x2="47.5" y2="228.57"/><line x1="44.7" y1="198.6" x2="47.5" y2="198.6"/><line x1="45.8" y1="303.51" x2="47.5" y2="303.51"/><line x1="45.8" y1="273.54" x2="47.5" y2="273.54"/><line x1="45.8" y1="243.56" x2="47.5" y2="243.56"/><line x1="45.8" y1="213.59" x2="47.5" y2="213.59"/></g>
<rect x="47.5" y="198.6" width="182.2" height="135.3" fill="none" stroke="#111" stroke-width="1.35"/>
<g font-family="'Liberation Sans', Arial, sans-serif" font-weight="bold" font-size="8.5" fill="#161616" stroke="#161616" stroke-width="0.22"><text x="47.5" y="344.8" text-anchor="middle">538</text><text x="83.94" y="344.8" text-anchor="middle">536</text><text x="120.38" y="344.8" text-anchor="middle">534</text><text x="156.82" y="344.8" text-anchor="middle">532</text><text x="193.26" y="344.8" text-anchor="middle">530</text><text x="229.7" y="344.8" text-anchor="middle">528</text><text x="42.5" y="321.56" text-anchor="end">5500</text><text x="42.5" y="291.58" text-anchor="end">6000</text><text x="42.5" y="261.61" text-anchor="end">6500</text><text x="42.5" y="231.63" text-anchor="end">7000</text><text x="42.5" y="201.66" text-anchor="end">7500</text></g>
<text x="83.4" y="357.6" font-family="'Liberation Sans', Arial, sans-serif" font-weight="bold" font-size="11.0" fill="#111" textLength="109.9" lengthAdjust="spacingAndGlyphs">Binding Energy (eV)</text>
<text transform="translate(14,309) rotate(-90)" font-family="'Liberation Sans', Arial, sans-serif" font-weight="bold" font-size="11.0" fill="#111" textLength="78.2" lengthAdjust="spacingAndGlyphs">Intensity (cps)</text>
<clipPath id="clipc"><rect x="47.5" y="198.6" width="182.2" height="135.3"/></clipPath>
<g clip-path="url(#clipc)">
<polyline points="47,317.41 47.5,316.26 48,317 48.5,316.76 49,316.79 49.5,316.85 50,316.4 50.5,316.84 51,316.68 51.5,317.73 52,316.96 52.5,316.81 53,316.83 53.5,316.73 54,316.72 54.5,316.97 55,317.27 55.5,317.18 56,317.56 56.5,317.36 57,317.5 57.5,317.96 58,317.8 58.5,317.62 59,317.78 59.5,318.05 60,318.48 60.5,318.01 61,318.11 61.5,318.42 62,317.89 62.5,317.99 63,318.23 63.5,318.1 64,317.92 64.5,318.01 65,317.08 65.5,317.99 66,317.44 66.5,317.21 67,317.64 67.5,317.7 68,317.24 68.5,316.83 69,316.86 69.5,316.59 70,316.7 70.5,316.29 71,315.9 71.5,315.88 72,315.3 72.5,314.87 73,314.98 73.5,314.67 74,314.16 74.5,313.7 75,313.64 75.5,312.65 76,313.13 76.5,312.76 77,311.92 77.5,312.03 78,311.46 78.5,311.48 79,310.37 79.5,310.24 80,310.24 80.5,309.94 81,308.7 81.5,308.7 82,308.43 82.5,307.45 83,307.25 83.5,305.8 84,305.44 84.5,304.34 85,304.62 85.5,303.93 86,303.51 86.5,302.84 87,303.35 87.5,302.79 88,302.46 88.5,302.2 89,301.6 89.5,300.95 90,300.5 90.5,300.09 91,300.23 91.5,299.12 92,298.78 92.5,298.26 93,297.8 93.5,297.3 94,296.25 94.5,295.54 95,295.34 95.5,294.86 96,293.95 96.5,293.03 97,292.1 97.5,291.47 98,290.54 98.5,290.02 99,288.88 99.5,288.4 100,287.64 100.5,287.09 101,286.31 101.5,286.18 102,285.21 102.5,284.51 103,282.92 103.5,282.63 104,281.86 104.5,281.44 105,280.03 105.5,280.1 106,279.28 106.5,277.89 107,277.18 107.5,276.43 108,275.84 108.5,275.2 109,274.76 109.5,273.4 110,272.85 110.5,271.9 111,271.51 111.5,270.46 112,269.82 112.5,268.54 113,268.29 113.5,267.66 114,267.76 114.5,267.08 115,266.36 115.5,265.85 116,265.61 116.5,264.84 117,264.31 117.5,264.19 118,264.21 118.5,263.06 119,262.51 119.5,261.88 120,261.37 120.5,261.44 121,261.13 121.5,260.53 122,260.22 122.5,259.77 123,259.38 123.5,258.58 124,258.45 124.5,258.2 125,257.59 125.5,257.27 126,256.79 126.5,256.52 127,256.43 127.5,255.74 128,255.49 128.5,255.43 129,255.08 129.5,255.04 130,253.79 130.5,254.22 131,253.58 131.5,253.43 132,253.3 132.5,253.05 133,252.74 133.5,252.21 134,252.27 134.5,251.49 135,250.95 135.5,250.55 136,249.57 136.5,249.61 137,248.68 137.5,248.33 138,247.14 138.5,246.41 139,245.91 139.5,245.41 140,244.44 140.5,244.05 141,243.31 141.5,242.98 142,241.3 142.5,240.62 143,239.08 143.5,237.89 144,236.84 144.5,235.61 145,234.84 145.5,233.79 146,232.31 146.5,231.16 147,230.32 147.5,228.9 148,227.8 148.5,226.6 149,225.18 149.5,224.69 150,223.31 150.5,223.16 151,222.25 151.5,221.78 152,220.73 152.5,219.79 153,219.4 153.5,218.71 154,218.34 154.5,217.93 155,217.43 155.5,216.95 156,216.64 156.5,216.65 157,216 157.5,216.35 158,215.93 158.5,216.86 159,217.38 159.5,217.05 160,218.06 160.5,218.47 161,219.04 161.5,220.23 162,220.78 162.5,221.26 163,222.43 163.5,223.27 164,224.15 164.5,224.62 165,225.9 165.5,226.74 166,227.29 166.5,229.3 167,231.33 167.5,233.09 168,235.55 168.5,237.05 169,239.57 169.5,242.46 170,245.46 170.5,248.88 171,250.96 171.5,253.53 172,256.13 172.5,258.49 173,261.57 173.5,263.37 174,266.09 174.5,267.97 175,270.11 175.5,271.69 176,274.45 176.5,276.01 177,278.07 177.5,279.86 178,281.79 178.5,283.89 179,285.78 179.5,287.5 180,289.4 180.5,291.06 181,292.67 181.5,294.65 182,295.98 182.5,297.11 183,298.61 183.5,300.04 184,301.07 184.5,302.22 185,303.78 185.5,305.38 186,305.51 186.5,306.2 187,306.86 187.5,307.86 188,307.76 188.5,308.97 189,309.84 189.5,310 190,311.24 190.5,311.59 191,311.88 191.5,312.63 192,312.76 192.5,313.57 193,314.73 193.5,314.62 194,315.86 194.5,315.95 195,316.78 195.5,317.11 196,317.1 196.5,318.03 197,318.64 197.5,318.73 198,319.1 198.5,319.96 199,320.13 199.5,320.29 200,320.97 200.5,321.78 201,321.8 201.5,322.22 202,322.44 202.5,322.14 203,321.92 203.5,321.96 204,322.35 204.5,322.65 205,322.57 205.5,322.65 206,322.41 206.5,322.6 207,322.42 207.5,322.47 208,322.23 208.5,322.17 209,322.46 209.5,322.31 210,322.36 210.5,322.79 211,322.64 211.5,323.44 212,322.98 212.5,322.63 213,323.03 213.5,322.96 214,322.75 214.5,323.23 215,322.81 215.5,322.28 216,323.29 216.5,322.98 217,323.55 217.5,323.06 218,322.97 218.5,323.7 219,323.09 219.5,323.45 220,324.07 220.5,324.03 221,324.29 221.5,324.64 222,325.12 222.5,325.01 223,325.67 223.5,325.86 224,326.32 224.5,325.68 225,325.57 225.5,326.01 226,325.75 226.5,325.95 227,325.94 227.5,326.23 228,325.8 228.5,325.97 229,325.36 229.5,325.78 230,326.38 230.5,325.83 231,325.82" fill="none" stroke="#222" stroke-width="0.8" stroke-linejoin="round" />
<polyline points="29.28,322.7 29.65,322.7 30.01,322.7 30.38,322.7 30.74,322.7 31.11,322.7 31.47,322.7 31.84,322.7 32.2,322.7 32.57,322.7 32.93,322.7 33.3,322.7 33.66,322.7 34.03,322.7 34.39,322.7 34.76,322.7 35.12,322.7 35.49,322.7 35.85,322.7 36.22,322.7 36.58,322.7 36.95,322.7 37.31,322.7 37.68,322.7 38.04,322.7 38.41,322.7 38.77,322.7 39.14,322.7 39.5,322.7 39.87,322.7 40.23,322.7 40.6,322.7 40.96,322.7 41.33,322.7 41.69,322.69 42.06,322.69 42.42,322.69 42.79,322.69 43.15,322.69 43.52,322.69 43.88,322.69 44.25,322.69 44.61,322.69 44.98,322.69 45.34,322.69 45.71,322.69 46.07,322.69 46.44,322.69 46.8,322.69 47.17,322.69 47.53,322.69 47.9,322.69 48.26,322.69 48.63,322.69 48.99,322.69 49.36,322.68 49.72,322.68 50.09,322.68 50.45,322.68 50.82,322.68 51.18,322.68 51.55,322.68 51.91,322.67 52.28,322.67 52.64,322.67 53.01,322.67 53.37,322.67 53.74,322.66 54.1,322.66 54.47,322.66 54.83,322.65 55.2,322.65 55.56,322.65 55.93,322.64 56.29,322.64 56.66,322.63 57.02,322.63 57.39,322.62 57.75,322.61 58.12,322.61 58.48,322.6 58.85,322.59 59.21,322.59 59.58,322.58 59.94,322.57 60.31,322.56 60.67,322.55 61.04,322.53 61.4,322.52 61.77,322.51 62.13,322.49 62.5,322.48 62.86,322.46 63.23,322.44 63.59,322.43 63.96,322.41 64.32,322.39 64.69,322.36 65.05,322.34 65.42,322.31 65.78,322.29 66.15,322.26 66.51,322.23 66.88,322.19 67.24,322.16 67.61,322.12 67.97,322.08 68.34,322.04 68.7,322 69.07,321.95 69.43,321.9 69.8,321.85 70.16,321.8 70.53,321.74 70.89,321.68 71.26,321.61 71.62,321.54 71.99,321.47 72.35,321.4 72.72,321.32 73.08,321.23 73.45,321.14 73.81,321.05 74.18,320.95 74.54,320.85 74.91,320.74 75.27,320.63 75.64,320.51 76,320.39 76.37,320.26 76.73,320.12 77.1,319.98 77.46,319.83 77.83,319.67 78.19,319.51 78.56,319.34 78.92,319.16 79.29,318.97 79.65,318.78 80.02,318.58 80.38,318.37 80.75,318.15 81.11,317.92 81.48,317.68 81.84,317.44 82.21,317.18 82.57,316.92 82.94,316.64 83.3,316.36 83.67,316.06 84.03,315.76 84.4,315.44 84.76,315.11 85.13,314.77 85.49,314.42 85.86,314.06 86.22,313.69 86.59,313.3 86.95,312.91 87.32,312.5 87.68,312.08 88.05,311.64 88.41,311.2 88.78,310.74 89.14,310.27 89.51,309.79 89.87,309.29 90.24,308.78 90.6,308.26 90.97,307.73 91.33,307.19 91.7,306.63 92.06,306.06 92.43,305.48 92.79,304.88 93.16,304.28 93.52,303.66 93.89,303.03 94.25,302.39 94.62,301.74 94.98,301.08 95.35,300.41 95.71,299.72 96.08,299.03 96.44,298.33 96.81,297.62 97.17,296.9 97.54,296.17 97.9,295.43 98.27,294.69 98.63,293.94 99,293.18 99.36,292.42 99.73,291.65 100.09,290.88 100.46,290.11 100.82,289.33 101.19,288.55 101.55,287.76 101.92,286.98 102.28,286.19 102.65,285.41 103.01,284.62 103.38,283.84 103.74,283.06 104.11,282.28 104.47,281.51 104.84,280.74 105.2,279.97 105.57,279.22 105.93,278.47 106.3,277.73 106.66,276.99 107.03,276.27 107.39,275.56 107.76,274.86 108.12,274.17 108.49,273.5 108.85,272.83 109.22,272.19 109.58,271.56 109.95,270.94 110.31,270.34 110.68,269.76 111.04,269.2 111.41,268.66 111.77,268.14 112.14,267.64 112.5,267.16 112.87,266.7 113.23,266.26 113.6,265.85 113.96,265.46 114.33,265.1 114.69,264.76 115.06,264.44 115.42,264.15 115.79,263.89 116.15,263.66 116.52,263.45 116.88,263.26 117.25,263.11 117.61,262.98 117.98,262.88 118.34,262.81 118.71,262.76 119.07,262.75 119.44,262.76 119.8,262.8 120.17,262.86 120.53,262.95 120.9,263.07 121.26,263.21 121.63,263.38 121.99,263.57 122.36,263.8 122.72,264.04 123.09,264.31 123.45,264.61 123.82,264.93 124.18,265.27 124.55,265.64 124.91,266.03 125.28,266.44 125.64,266.87 126.01,267.33 126.37,267.8 126.74,268.3 127.1,268.82 127.47,269.35 127.83,269.9 128.2,270.47 128.56,271.06 128.93,271.66 129.29,272.28 129.66,272.91 130.02,273.56 130.39,274.22 130.75,274.89 131.12,275.58 131.48,276.27 131.85,276.98 132.21,277.69 132.58,278.41 132.94,279.14 133.31,279.88 133.67,280.63 134.04,281.38 134.4,282.13 134.77,282.89 135.13,283.65 135.5,284.41 135.86,285.18 136.23,285.94 136.59,286.71 136.96,287.48 137.32,288.24 137.69,289.01 138.05,289.77 138.42,290.53 138.78,291.28 139.15,292.03 139.51,292.78 139.88,293.52 140.24,294.26 140.61,294.98 140.97,295.71 141.34,296.42 141.7,297.13 142.07,297.83 142.43,298.52 142.8,299.2 143.16,299.88 143.53,300.54 143.89,301.2 144.26,301.84 144.62,302.47 144.99,303.1 145.35,303.71 145.72,304.31 146.08,304.9 146.45,305.48 146.81,306.05 147.18,306.61 147.54,307.15 147.91,307.68 148.27,308.2 148.64,308.71 149,309.21 149.37,309.7 149.73,310.17 150.1,310.63 150.46,311.08 150.83,311.52 151.19,311.94 151.56,312.36 151.92,312.76 152.29,313.15 152.65,313.53 153.02,313.9 153.38,314.26 153.75,314.61 154.11,314.94 154.48,315.27 154.84,315.58 155.21,315.89 155.57,316.18 155.94,316.47 156.3,316.74 156.67,317.01 157.03,317.26 157.4,317.51 157.76,317.75 158.13,317.98 158.49,318.2 158.86,318.41 159.22,318.61 159.59,318.81 159.95,318.99 160.32,319.18 160.68,319.35 161.05,319.51 161.41,319.67 161.78,319.83 162.14,319.97 162.51,320.11 162.87,320.25 163.24,320.37 163.6,320.5 163.97,320.61 164.33,320.72 164.7,320.83 165.06,320.93 165.43,321.03 165.79,321.12 166.16,321.21 166.52,321.29 166.89,321.37 167.25,321.44 167.62,321.52 167.98,321.58 168.35,321.65 168.71,321.71 169.08,321.77 169.44,321.82 169.81,321.88 170.17,321.92 170.54,321.97 170.9,322.02 171.27,322.06 171.63,322.1 172,322.13 172.36,322.17 172.73,322.2 173.09,322.23 173.46,322.26 173.82,322.29 174.19,322.32 174.55,322.34 174.92,322.37 175.28,322.39 175.65,322.41 176.01,322.43 176.38,322.45 176.74,322.46 177.11,322.48 177.47,322.49 177.84,322.51 178.2,322.52 178.57,322.53 178.93,322.54 179.3,322.55 179.66,322.56 180.03,322.57 180.39,322.58 180.76,322.59 181.12,322.6 181.49,322.61 181.85,322.61 182.22,322.62 182.58,322.62 182.95,322.63 183.31,322.63 183.68,322.64 184.04,322.64 184.41,322.65 184.77,322.65 185.14,322.66 185.5,322.66 185.87,322.66 186.23,322.66 186.6,322.67 186.96,322.67 187.33,322.67 187.69,322.67 188.06,322.68 188.42,322.68 188.79,322.68 189.15,322.68 189.52,322.68 189.88,322.68 190.25,322.68 190.61,322.68 190.98,322.69 191.34,322.69 191.71,322.69 192.07,322.69 192.44,322.69 192.8,322.69 193.17,322.69 193.53,322.69 193.9,322.69 194.26,322.69 194.63,322.69 194.99,322.69 195.36,322.69 195.72,322.69 196.09,322.69 196.45,322.69 196.82,322.69 197.18,322.69 197.55,322.69 197.91,322.69 198.28,322.69 198.64,322.69 199.01,322.7 199.37,322.7 199.74,322.7 200.1,322.7 200.47,322.7 200.83,322.7 201.2,322.7 201.56,322.7 201.93,322.7 202.29,322.7 202.66,322.7 203.02,322.7 203.39,322.7 203.75,322.7 204.12,322.7 204.48,322.7 204.85,322.7 205.21,322.7 205.58,322.7 205.94,322.7 206.31,322.7 206.67,322.7 207.04,322.7 207.4,322.7 207.77,322.7 208.13,322.7 208.5,322.7 208.86,322.7 209.23,322.7 209.59,322.7 209.96,322.7 210.32,322.7 210.69,322.7 211.05,322.7 211.42,322.7 211.78,322.7 212.15,322.7 212.51,322.7 212.88,322.7 213.24,322.7 213.61,322.7 213.97,322.7 214.34,322.7 214.7,322.7 215.07,322.7 215.43,322.7 215.8,322.7 216.16,322.7 216.53,322.7 216.89,322.7 217.26,322.7 217.62,322.7 217.99,322.7 218.35,322.7 218.72,322.7 219.08,322.7 219.45,322.7 219.81,322.7 220.18,322.7 220.54,322.7 220.91,322.7 221.27,322.7 221.64,322.7 222,322.7 222.37,322.7 222.73,322.7 223.1,322.7 223.46,322.7 223.83,322.7 224.19,322.7 224.56,322.7 224.92,322.7 225.29,322.7 225.65,322.7 226.02,322.7 226.38,322.7 226.75,322.7 227.11,322.7 227.48,322.7 227.84,322.7 228.21,322.7 228.57,322.7 228.94,322.7 229.3,322.7 229.67,322.7 230.03,322.7 230.4,322.7 230.76,322.7 231.13,322.7 231.49,322.7 231.86,322.7 232.22,322.7 232.59,322.7 232.95,322.7 233.32,322.7 233.68,322.7 234.05,322.7 234.41,322.7 234.78,322.7 235.14,322.7 235.51,322.7 235.87,322.7 236.24,322.7 236.6,322.7 236.97,322.7 237.33,322.7 237.7,322.7 238.06,322.7 238.43,322.7 238.79,322.7 239.16,322.7 239.52,322.7 239.89,322.7 240.25,322.7 240.62,322.7 240.98,322.7 241.35,322.7 241.71,322.7 242.08,322.7 242.44,322.7 242.81,322.7 243.17,322.7 243.54,322.7 243.9,322.7 244.27,322.7 244.63,322.7 245,322.7 245.36,322.7 245.73,322.7 246.09,322.7 246.46,322.7 246.82,322.7 247.19,322.7 247.55,322.7 247.92,322.7" fill="none" stroke="#00ee00" stroke-width="1.6" stroke-linejoin="round" />
<polyline points="29.28,322.7 29.65,322.7 30.01,322.7 30.38,322.7 30.74,322.7 31.11,322.7 31.47,322.7 31.84,322.7 32.2,322.7 32.57,322.7 32.93,322.7 33.3,322.7 33.66,322.7 34.03,322.7 34.39,322.7 34.76,322.7 35.12,322.7 35.49,322.7 35.85,322.7 36.22,322.7 36.58,322.7 36.95,322.7 37.31,322.7 37.68,322.7 38.04,322.7 38.41,322.7 38.77,322.7 39.14,322.7 39.5,322.7 39.87,322.7 40.23,322.7 40.6,322.7 40.96,322.7 41.33,322.7 41.69,322.7 42.06,322.7 42.42,322.7 42.79,322.7 43.15,322.7 43.52,322.7 43.88,322.7 44.25,322.7 44.61,322.7 44.98,322.7 45.34,322.7 45.71,322.7 46.07,322.7 46.44,322.7 46.8,322.7 47.17,322.7 47.53,322.7 47.9,322.7 48.26,322.7 48.63,322.7 48.99,322.7 49.36,322.7 49.72,322.7 50.09,322.7 50.45,322.7 50.82,322.7 51.18,322.7 51.55,322.7 51.91,322.7 52.28,322.7 52.64,322.7 53.01,322.7 53.37,322.7 53.74,322.7 54.1,322.7 54.47,322.7 54.83,322.7 55.2,322.7 55.56,322.7 55.93,322.7 56.29,322.7 56.66,322.7 57.02,322.7 57.39,322.7 57.75,322.7 58.12,322.7 58.48,322.7 58.85,322.7 59.21,322.7 59.58,322.7 59.94,322.7 60.31,322.7 60.67,322.7 61.04,322.7 61.4,322.7 61.77,322.7 62.13,322.7 62.5,322.7 62.86,322.7 63.23,322.7 63.59,322.7 63.96,322.7 64.32,322.7 64.69,322.7 65.05,322.7 65.42,322.7 65.78,322.7 66.15,322.7 66.51,322.7 66.88,322.7 67.24,322.7 67.61,322.7 67.97,322.7 68.34,322.7 68.7,322.7 69.07,322.7 69.43,322.7 69.8,322.7 70.16,322.7 70.53,322.69 70.89,322.69 71.26,322.69 71.62,322.69 71.99,322.69 72.35,322.69 72.72,322.69 73.08,322.69 73.45,322.69 73.81,322.69 74.18,322.69 74.54,322.69 74.91,322.69 75.27,322.69 75.64,322.69 76,322.69 76.37,322.69 76.73,322.69 77.1,322.69 77.46,322.69 77.83,322.69 78.19,322.69 78.56,322.69 78.92,322.68 79.29,322.68 79.65,322.68 80.02,322.68 80.38,322.68 80.75,322.68 81.11,322.68 81.48,322.68 81.84,322.67 82.21,322.67 82.57,322.67 82.94,322.67 83.3,322.67 83.67,322.66 84.03,322.66 84.4,322.66 84.76,322.65 85.13,322.65 85.49,322.65 85.86,322.64 86.22,322.64 86.59,322.63 86.95,322.63 87.32,322.62 87.68,322.62 88.05,322.61 88.41,322.6 88.78,322.6 89.14,322.59 89.51,322.58 89.87,322.57 90.24,322.56 90.6,322.55 90.97,322.54 91.33,322.53 91.7,322.52 92.06,322.51 92.43,322.49 92.79,322.48 93.16,322.47 93.52,322.45 93.89,322.43 94.25,322.41 94.62,322.39 94.98,322.37 95.35,322.35 95.71,322.33 96.08,322.3 96.44,322.27 96.81,322.24 97.17,322.21 97.54,322.18 97.9,322.15 98.27,322.11 98.63,322.07 99,322.03 99.36,321.99 99.73,321.95 100.09,321.9 100.46,321.85 100.82,321.79 101.19,321.74 101.55,321.68 101.92,321.62 102.28,321.55 102.65,321.48 103.01,321.41 103.38,321.33 103.74,321.25 104.11,321.16 104.47,321.07 104.84,320.98 105.2,320.88 105.57,320.77 105.93,320.66 106.3,320.55 106.66,320.43 107.03,320.3 107.39,320.17 107.76,320.03 108.12,319.88 108.49,319.73 108.85,319.57 109.22,319.41 109.58,319.23 109.95,319.05 110.31,318.86 110.68,318.66 111.04,318.45 111.41,318.24 111.77,318.01 112.14,317.77 112.5,317.53 112.87,317.27 113.23,317.01 113.6,316.73 113.96,316.45 114.33,316.15 114.69,315.84 115.06,315.52 115.42,315.18 115.79,314.83 116.15,314.48 116.52,314.1 116.88,313.72 117.25,313.32 117.61,312.9 117.98,312.47 118.34,312.03 118.71,311.57 119.07,311.1 119.44,310.61 119.8,310.11 120.17,309.59 120.53,309.05 120.9,308.5 121.26,307.93 121.63,307.35 121.99,306.74 122.36,306.12 122.72,305.48 123.09,304.83 123.45,304.16 123.82,303.46 124.18,302.76 124.55,302.03 124.91,301.28 125.28,300.52 125.64,299.73 126.01,298.93 126.37,298.11 126.74,297.28 127.1,296.42 127.47,295.54 127.83,294.65 128.2,293.74 128.56,292.81 128.93,291.86 129.29,290.9 129.66,289.91 130.02,288.91 130.39,287.9 130.75,286.86 131.12,285.81 131.48,284.74 131.85,283.66 132.21,282.56 132.58,281.45 132.94,280.32 133.31,279.18 133.67,278.03 134.04,276.86 134.4,275.68 134.77,274.49 135.13,273.28 135.5,272.07 135.86,270.85 136.23,269.61 136.59,268.37 136.96,267.12 137.32,265.87 137.69,264.61 138.05,263.34 138.42,262.07 138.78,260.8 139.15,259.52 139.51,258.24 139.88,256.96 140.24,255.69 140.61,254.41 140.97,253.14 141.34,251.87 141.7,250.6 142.07,249.34 142.43,248.09 142.8,246.84 143.16,245.61 143.53,244.38 143.89,243.16 144.26,241.96 144.62,240.77 144.99,239.6 145.35,238.44 145.72,237.3 146.08,236.17 146.45,235.07 146.81,233.98 147.18,232.92 147.54,231.87 147.91,230.86 148.27,229.86 148.64,228.89 149,227.95 149.37,227.04 149.73,226.15 150.1,225.29 150.46,224.47 150.83,223.67 151.19,222.91 151.56,222.18 151.92,221.48 152.29,220.82 152.65,220.19 153.02,219.6 153.38,219.04 153.75,218.53 154.11,218.05 154.48,217.61 154.84,217.2 155.21,216.84 155.57,216.52 155.94,216.23 156.3,215.99 156.67,215.79 157.03,215.63 157.4,215.51 157.76,215.43 158.13,215.39 158.49,215.39 158.86,215.45 159.22,215.55 159.59,215.69 159.95,215.89 160.32,216.13 160.68,216.42 161.05,216.75 161.41,217.13 161.78,217.56 162.14,218.03 162.51,218.54 162.87,219.1 163.24,219.7 163.6,220.35 163.97,221.03 164.33,221.76 164.7,222.52 165.06,223.32 165.43,224.16 165.79,225.04 166.16,225.95 166.52,226.9 166.89,227.88 167.25,228.89 167.62,229.93 167.98,231 168.35,232.09 168.71,233.22 169.08,234.37 169.44,235.54 169.81,236.74 170.17,237.96 170.54,239.2 170.9,240.45 171.27,241.73 171.63,243.01 172,244.32 172.36,245.63 172.73,246.96 173.09,248.3 173.46,249.65 173.82,251 174.19,252.36 174.55,253.73 174.92,255.1 175.28,256.47 175.65,257.84 176.01,259.21 176.38,260.58 176.74,261.95 177.11,263.32 177.47,264.68 177.84,266.03 178.2,267.38 178.57,268.72 178.93,270.05 179.3,271.37 179.66,272.67 180.03,273.97 180.39,275.26 180.76,276.53 181.12,277.79 181.49,279.03 181.85,280.26 182.22,281.47 182.58,282.66 182.95,283.84 183.31,285 183.68,286.14 184.04,287.26 184.41,288.36 184.77,289.44 185.14,290.51 185.5,291.55 185.87,292.57 186.23,293.58 186.6,294.56 186.96,295.52 187.33,296.46 187.69,297.38 188.06,298.27 188.42,299.15 188.79,300 189.15,300.83 189.52,301.65 189.88,302.44 190.25,303.21 190.61,303.96 190.98,304.68 191.34,305.39 191.71,306.08 192.07,306.74 192.44,307.39 192.8,308.02 193.17,308.63 193.53,309.22 193.9,309.78 194.26,310.34 194.63,310.87 194.99,311.38 195.36,311.88 195.72,312.36 196.09,312.82 196.45,313.27 196.82,313.7 197.18,314.12 197.55,314.51 197.91,314.9 198.28,315.27 198.64,315.62 199.01,315.96 199.37,316.29 199.74,316.61 200.1,316.91 200.47,317.2 200.83,317.47 201.2,317.74 201.56,317.99 201.93,318.23 202.29,318.47 202.66,318.69 203.02,318.9 203.39,319.1 203.75,319.29 204.12,319.48 204.48,319.65 204.85,319.82 205.21,319.98 205.58,320.13 205.94,320.28 206.31,320.41 206.67,320.54 207.04,320.67 207.4,320.78 207.77,320.9 208.13,321 208.5,321.1 208.86,321.2 209.23,321.29 209.59,321.37 209.96,321.45 210.32,321.53 210.69,321.6 211.05,321.67 211.42,321.73 211.78,321.79 212.15,321.85 212.51,321.9 212.88,321.96 213.24,322 213.61,322.05 213.97,322.09 214.34,322.13 214.7,322.17 215.07,322.2 215.43,322.24 215.8,322.27 216.16,322.3 216.53,322.32 216.89,322.35 217.26,322.37 217.62,322.4 217.99,322.42 218.35,322.44 218.72,322.46 219.08,322.47 219.45,322.49 219.81,322.5 220.18,322.52 220.54,322.53 220.91,322.54 221.27,322.55 221.64,322.56 222,322.57 222.37,322.58 222.73,322.59 223.1,322.6 223.46,322.61 223.83,322.61 224.19,322.62 224.56,322.63 224.92,322.63 225.29,322.64 225.65,322.64 226.02,322.65 226.38,322.65 226.75,322.65 227.11,322.66 227.48,322.66 227.84,322.66 228.21,322.67 228.57,322.67 228.94,322.67 229.3,322.67 229.67,322.67 230.03,322.68 230.4,322.68 230.76,322.68 231.13,322.68 231.49,322.68 231.86,322.68 232.22,322.68 232.59,322.69 232.95,322.69 233.32,322.69 233.68,322.69 234.05,322.69 234.41,322.69 234.78,322.69 235.14,322.69 235.51,322.69 235.87,322.69 236.24,322.69 236.6,322.69 236.97,322.69 237.33,322.69 237.7,322.69 238.06,322.69 238.43,322.69 238.79,322.69 239.16,322.69 239.52,322.69 239.89,322.69 240.25,322.7 240.62,322.7 240.98,322.7 241.35,322.7 241.71,322.7 242.08,322.7 242.44,322.7 242.81,322.7 243.17,322.7 243.54,322.7 243.9,322.7 244.27,322.7 244.63,322.7 245,322.7 245.36,322.7 245.73,322.7 246.09,322.7 246.46,322.7 246.82,322.7 247.19,322.7 247.55,322.7 247.92,322.7" fill="none" stroke="#ff0000" stroke-width="1.6" stroke-linejoin="round" />
<polyline points="29.28,322.7 29.65,322.7 30.01,322.7 30.38,322.7 30.74,322.7 31.11,322.7 31.47,322.7 31.84,322.7 32.2,322.7 32.57,322.7 32.93,322.7 33.3,322.7 33.66,322.7 34.03,322.7 34.39,322.7 34.76,322.7 35.12,322.7 35.49,322.7 35.85,322.7 36.22,322.7 36.58,322.7 36.95,322.7 37.31,322.7 37.68,322.7 38.04,322.7 38.41,322.7 38.77,322.7 39.14,322.7 39.5,322.7 39.87,322.7 40.23,322.7 40.6,322.7 40.96,322.69 41.33,322.69 41.69,322.69 42.06,322.69 42.42,322.69 42.79,322.69 43.15,322.69 43.52,322.69 43.88,322.69 44.25,322.69 44.61,322.69 44.98,322.69 45.34,322.69 45.71,322.69 46.07,322.69 46.44,322.69 46.8,322.69 47.17,322.69 47.53,322.69 47.9,322.69 48.26,322.69 48.63,322.69 48.99,322.68 49.36,322.68 49.72,322.68 50.09,322.68 50.45,322.68 50.82,322.68 51.18,322.68 51.55,322.67 51.91,322.67 52.28,322.67 52.64,322.67 53.01,322.67 53.37,322.66 53.74,322.66 54.1,322.66 54.47,322.65 54.83,322.65 55.2,322.65 55.56,322.64 55.93,322.64 56.29,322.63 56.66,322.63 57.02,322.62 57.39,322.62 57.75,322.61 58.12,322.6 58.48,322.59 58.85,322.59 59.21,322.58 59.58,322.57 59.94,322.56 60.31,322.55 60.67,322.54 61.04,322.52 61.4,322.51 61.77,322.5 62.13,322.48 62.5,322.47 62.86,322.45 63.23,322.43 63.59,322.41 63.96,322.39 64.32,322.37 64.69,322.35 65.05,322.32 65.42,322.3 65.78,322.27 66.15,322.24 66.51,322.21 66.88,322.17 67.24,322.14 67.61,322.1 67.97,322.06 68.34,322.02 68.7,321.97 69.07,321.92 69.43,321.87 69.8,321.82 70.16,321.77 70.53,321.71 70.89,321.64 71.26,321.58 71.62,321.51 71.99,321.44 72.35,321.36 72.72,321.28 73.08,321.19 73.45,321.1 73.81,321.01 74.18,320.91 74.54,320.81 74.91,320.7 75.27,320.58 75.64,320.46 76,320.34 76.37,320.2 76.73,320.07 77.1,319.92 77.46,319.77 77.83,319.62 78.19,319.45 78.56,319.28 78.92,319.1 79.29,318.92 79.65,318.72 80.02,318.52 80.38,318.31 80.75,318.09 81.11,317.86 81.48,317.63 81.84,317.38 82.21,317.13 82.57,316.86 82.94,316.59 83.3,316.3 83.67,316.01 84.03,315.7 84.4,315.39 84.76,315.06 85.13,314.73 85.49,314.38 85.86,314.02 86.22,313.65 86.59,313.27 86.95,312.87 87.32,312.47 87.68,312.05 88.05,311.62 88.41,311.18 88.78,310.73 89.14,310.26 89.51,309.78 89.87,309.29 90.24,308.79 90.6,308.27 90.97,307.75 91.33,307.21 91.7,306.65 92.06,306.09 92.43,305.51 92.79,304.92 93.16,304.32 93.52,303.71 93.89,303.09 94.25,302.45 94.62,301.8 94.98,301.14 95.35,300.47 95.71,299.79 96.08,299.1 96.44,298.4 96.81,297.69 97.17,296.97 97.54,296.24 97.9,295.51 98.27,294.76 98.63,294 99,293.24 99.36,292.47 99.73,291.7 100.09,290.91 100.46,290.12 100.82,289.33 101.19,288.53 101.55,287.73 101.92,286.92 102.28,286.11 102.65,285.29 103.01,284.48 103.38,283.66 103.74,282.84 104.11,282.02 104.47,281.2 104.84,280.38 105.2,279.56 105.57,278.74 105.93,277.92 106.3,277.11 106.66,276.3 107.03,275.5 107.39,274.69 107.76,273.9 108.12,273.11 108.49,272.32 108.85,271.54 109.22,270.77 109.58,270 109.95,269.25 110.31,268.5 110.68,267.76 111.04,267.02 111.41,266.3 111.77,265.59 112.14,264.89 112.5,264.19 112.87,263.51 113.23,262.84 113.6,262.18 113.96,261.53 114.33,260.89 114.69,260.27 115.06,259.65 115.42,259.05 115.79,258.46 116.15,257.88 116.52,257.31 116.88,256.75 117.25,256.21 117.61,255.67 117.98,255.15 118.34,254.63 118.71,254.13 119.07,253.64 119.44,253.16 119.8,252.69 120.17,252.23 120.53,251.77 120.9,251.33 121.26,250.89 121.63,250.47 121.99,250.05 122.36,249.63 122.72,249.22 123.09,248.82 123.45,248.43 123.82,248.03 124.18,247.65 124.55,247.26 124.91,246.88 125.28,246.5 125.64,246.13 126.01,245.75 126.37,245.38 126.74,245 127.1,244.63 127.47,244.25 127.83,243.88 128.2,243.49 128.56,243.11 128.93,242.73 129.29,242.33 129.66,241.94 130.02,241.54 130.39,241.13 130.75,240.72 131.12,240.31 131.48,239.88 131.85,239.45 132.21,239.01 132.58,238.56 132.94,238.11 133.31,237.65 133.67,237.18 134.04,236.7 134.4,236.21 134.77,235.71 135.13,235.21 135.5,234.69 135.86,234.17 136.23,233.64 136.59,233.1 136.96,232.55 137.32,231.99 137.69,231.43 138.05,230.86 138.42,230.28 138.78,229.69 139.15,229.1 139.51,228.5 139.88,227.9 140.24,227.29 140.61,226.67 140.97,226.06 141.34,225.44 141.7,224.82 142.07,224.19 142.43,223.57 142.8,222.95 143.16,222.33 143.53,221.71 143.89,221.09 144.26,220.47 144.62,219.86 144.99,219.26 145.35,218.66 145.72,218.07 146.08,217.49 146.45,216.92 146.81,216.36 147.18,215.81 147.54,215.28 147.91,214.75 148.27,214.25 148.64,213.75 149,213.28 149.37,212.82 149.73,212.38 150.1,211.97 150.46,211.57 150.83,211.19 151.19,210.84 151.56,210.51 151.92,210.21 152.29,209.93 152.65,209.67 153.02,209.45 153.38,209.25 153.75,209.08 154.11,208.94 154.48,208.83 154.84,208.75 155.21,208.71 155.57,208.69 155.94,208.71 156.3,208.76 156.67,208.84 157.03,208.96 157.4,209.11 157.76,209.29 158.13,209.51 158.49,209.77 158.86,210.05 159.22,210.38 159.59,210.74 159.95,211.13 160.32,211.56 160.68,212.02 161.05,212.52 161.41,213.05 161.78,213.62 162.14,214.22 162.51,214.85 162.87,215.51 163.24,216.21 163.6,216.94 163.97,217.71 164.33,218.5 164.7,219.32 165.06,220.18 165.43,221.06 165.79,221.97 166.16,222.91 166.52,223.87 166.89,224.86 167.25,225.88 167.62,226.92 167.98,227.98 168.35,229.07 168.71,230.18 169.08,231.31 169.44,232.45 169.81,233.62 170.17,234.8 170.54,236 170.9,237.22 171.27,238.45 171.63,239.69 172,240.95 172.36,242.22 172.73,243.49 173.09,244.78 173.46,246.07 173.82,247.37 174.19,248.68 174.55,249.99 174.92,251.31 175.28,252.62 175.65,253.94 176.01,255.26 176.38,256.58 176.74,257.9 177.11,259.22 177.47,260.53 177.84,261.84 178.2,263.15 178.57,264.45 178.93,265.74 179.3,267.03 179.66,268.3 180.03,269.57 180.39,270.83 180.76,272.08 181.12,273.32 181.49,274.54 181.85,275.76 182.22,276.96 182.58,278.14 182.95,279.31 183.31,280.47 183.68,281.62 184.04,282.74 184.41,283.85 184.77,284.95 185.14,286.03 185.5,287.09 185.87,288.13 186.23,289.16 186.6,290.17 186.96,291.16 187.33,292.13 187.69,293.08 188.06,294.02 188.42,294.93 188.79,295.83 189.15,296.71 189.52,297.57 189.88,298.41 190.25,299.23 190.61,300.03 190.98,300.81 191.34,301.58 191.71,302.32 192.07,303.05 192.44,303.76 192.8,304.45 193.17,305.12 193.53,305.77 193.9,306.41 194.26,307.03 194.63,307.63 194.99,308.21 195.36,308.78 195.72,309.32 196.09,309.86 196.45,310.37 196.82,310.87 197.18,311.35 197.55,311.82 197.91,312.28 198.28,312.71 198.64,313.14 199.01,313.54 199.37,313.94 199.74,314.32 200.1,314.69 200.47,315.04 200.83,315.38 201.2,315.71 201.56,316.03 201.93,316.33 202.29,316.63 202.66,316.91 203.02,317.18 203.39,317.44 203.75,317.69 204.12,317.93 204.48,318.16 204.85,318.38 205.21,318.59 205.58,318.8 205.94,318.99 206.31,319.18 206.67,319.35 207.04,319.52 207.4,319.69 207.77,319.84 208.13,319.99 208.5,320.13 208.86,320.27 209.23,320.4 209.59,320.52 209.96,320.64 210.32,320.75 210.69,320.85 211.05,320.96 211.42,321.05 211.78,321.14 212.15,321.23 212.51,321.31 212.88,321.39 213.24,321.47 213.61,321.54 213.97,321.6 214.34,321.67 214.7,321.73 215.07,321.78 215.43,321.84 215.8,321.89 216.16,321.94 216.53,321.98 216.89,322.03 217.26,322.07 217.62,322.11 217.99,322.14 218.35,322.18 218.72,322.21 219.08,322.24 219.45,322.27 219.81,322.3 220.18,322.32 220.54,322.35 220.91,322.37 221.27,322.39 221.64,322.41 222,322.43 222.37,322.45 222.73,322.46 223.1,322.48 223.46,322.49 223.83,322.51 224.19,322.52 224.56,322.53 224.92,322.54 225.29,322.55 225.65,322.56 226.02,322.57 226.38,322.58 226.75,322.59 227.11,322.6 227.48,322.6 227.84,322.61 228.21,322.62 228.57,322.62 228.94,322.63 229.3,322.63 229.67,322.64 230.03,322.64 230.4,322.65 230.76,322.65 231.13,322.65 231.49,322.66 231.86,322.66 232.22,322.66 232.59,322.67 232.95,322.67 233.32,322.67 233.68,322.67 234.05,322.67 234.41,322.68 234.78,322.68 235.14,322.68 235.51,322.68 235.87,322.68 236.24,322.68 236.6,322.68 236.97,322.68 237.33,322.69 237.7,322.69 238.06,322.69 238.43,322.69 238.79,322.69 239.16,322.69 239.52,322.69 239.89,322.69 240.25,322.69 240.62,322.69 240.98,322.69 241.35,322.69 241.71,322.69 242.08,322.69 242.44,322.69 242.81,322.69 243.17,322.69 243.54,322.69 243.9,322.69 244.27,322.69 244.63,322.69 245,322.69 245.36,322.69 245.73,322.7 246.09,322.7 246.46,322.7 246.82,322.7 247.19,322.7 247.55,322.7 247.92,322.7" fill="none" stroke="#0000ff" stroke-width="1.7" stroke-linejoin="round" />
</g>
<text transform="translate(119.83,264.6) rotate(-90)" font-family="'Liberation Sans', Arial, sans-serif" font-size="4.8" fill="#333" font-weight="bold" textLength="56" lengthAdjust="spacingAndGlyphs">533.99 eV (C<tspan font-size="3.6" dy="1">10</tspan><tspan dy="-1">H</tspan><tspan font-size="3.6" dy="1">6</tspan><tspan dy="-1">-O(f))</tspan></text>
<text transform="translate(160.43,267.8) rotate(-90)" font-family="'Liberation Sans', Arial, sans-serif" font-size="4.8" fill="#333" font-weight="bold" textLength="45.6" lengthAdjust="spacingAndGlyphs">531.91 eV (C=O(f))</text>
<line x1="175.8" y1="213.5" x2="189.4" y2="213.5" stroke="#222" stroke-width="1.1"/>
<text x="191.6" y="215.73" font-family="'Liberation Sans', Arial, sans-serif" font-weight="bold" font-size="6.2" fill="#222" stroke="#222" stroke-width="0.14">O (1s)</text>
<g stroke="#777" stroke-width="0.75" stroke-linecap="round"><line x1="83.97" y1="228.23" x2="81.53" y2="232.45"/><line x1="81.53" y1="232.45" x2="76.66" y2="232.45"/><line x1="76.66" y1="232.45" x2="74.23" y2="228.23"/><line x1="74.23" y1="228.23" x2="76.66" y2="224.02"/><line x1="76.66" y1="224.02" x2="81.53" y2="224.02"/><line x1="81.53" y1="224.02" x2="83.97" y2="228.23"/><line x1="80.58" y1="231.61" x2="77.62" y2="231.61"/><line x1="75.44" y1="227.83" x2="76.92" y2="225.26"/><line x1="81.28" y1="225.26" x2="82.76" y2="227.83"/><line x1="76.66" y1="232.45" x2="74.91" y2="235.73"/><line x1="81.53" y1="232.45" x2="83.29" y2="235.73"/><line x1="81.53" y1="224.02" x2="83.29" y2="221.94"/><line x1="72.68" y1="237" x2="69.07" y2="237"/><line x1="72.53" y1="236.03" x2="69.6" y2="236.03"/><line x1="66.54" y1="241.01" x2="69.07" y2="237"/><line x1="68.97" y1="245.23" x2="66.54" y2="249.45"/><line x1="66.54" y1="249.45" x2="61.67" y2="249.45"/><line x1="61.67" y1="249.45" x2="59.23" y2="245.23"/><line x1="59.23" y1="245.23" x2="61.67" y2="241.01"/><line x1="61.67" y1="241.01" x2="66.54" y2="241.01"/><line x1="66.54" y1="241.01" x2="68.97" y2="245.23"/><line x1="65.58" y1="248.6" x2="62.62" y2="248.6"/><line x1="61.67" y1="240.99" x2="59.23" y2="245.21"/><line x1="59.23" y1="245.21" x2="54.36" y2="245.21"/><line x1="54.36" y1="245.21" x2="51.93" y2="240.99"/><line x1="51.93" y1="240.99" x2="54.36" y2="236.78"/><line x1="54.36" y1="236.78" x2="59.23" y2="236.78"/><line x1="59.23" y1="236.78" x2="61.67" y2="240.99"/><line x1="58.28" y1="244.37" x2="55.31" y2="244.37"/><line x1="53.13" y1="240.59" x2="54.61" y2="238.02"/><line x1="58.98" y1="238.02" x2="60.46" y2="240.59"/><line x1="68.97" y1="245.23" x2="72.76" y2="245.55"/><line x1="75.69" y1="238.55" x2="77.64" y2="240.61" stroke-dasharray="0.78,0.78"/><line x1="75.93" y1="244.44" x2="77.74" y2="243.14" stroke-dasharray="0.78,0.78"/><line x1="85.52" y1="237" x2="89.13" y2="237"/><line x1="85.67" y1="236.03" x2="88.6" y2="236.03"/><line x1="91.66" y1="241.01" x2="89.13" y2="237"/><line x1="98.97" y1="245.23" x2="96.53" y2="249.45"/><line x1="96.53" y1="249.45" x2="91.66" y2="249.45"/><line x1="91.66" y1="249.45" x2="89.23" y2="245.23"/><line x1="89.23" y1="245.23" x2="91.66" y2="241.01"/><line x1="91.66" y1="241.01" x2="96.53" y2="241.01"/><line x1="96.53" y1="241.01" x2="98.97" y2="245.23"/><line x1="95.58" y1="248.6" x2="92.62" y2="248.6"/><line x1="106.27" y1="240.99" x2="103.84" y2="245.21"/><line x1="103.84" y1="245.21" x2="98.97" y2="245.21"/><line x1="98.97" y1="245.21" x2="96.53" y2="240.99"/><line x1="96.53" y1="240.99" x2="98.97" y2="236.78"/><line x1="98.97" y1="236.78" x2="103.84" y2="236.78"/><line x1="103.84" y1="236.78" x2="106.27" y2="240.99"/><line x1="102.89" y1="244.37" x2="99.92" y2="244.37"/><line x1="97.74" y1="240.59" x2="99.22" y2="238.02"/><line x1="103.59" y1="238.02" x2="105.07" y2="240.59"/><line x1="89.23" y1="245.23" x2="85.44" y2="245.55"/><line x1="82.51" y1="238.55" x2="80.56" y2="240.61" stroke-dasharray="0.78,0.78"/><line x1="82.27" y1="244.44" x2="80.46" y2="243.14" stroke-dasharray="0.78,0.78"/></g>
<g font-family="'Liberation Sans', Arial, sans-serif" font-weight="bold" font-size="3.9"><text x="74.23" y="238.4" text-anchor="middle" fill="#222">N</text><text x="83.97" y="238.4" text-anchor="middle" fill="#222">N</text><text x="74.23" y="247.07" text-anchor="middle" fill="#444">O</text><text x="83.97" y="247.07" text-anchor="middle" fill="#444">O</text><text x="79.1" y="243.56" text-anchor="middle" fill="#444">Cu</text><text x="84.9" y="221.36" text-anchor="middle" fill="#444">Cl</text></g>
<line x1="74.23" y1="247.96" x2="74.23" y2="249.66" stroke="#333" stroke-width="0.7"/>
<line x1="83.97" y1="247.96" x2="83.97" y2="249.66" stroke="#333" stroke-width="0.7"/>
<text x="277" y="192.6" font-family="'Liberation Serif', 'Times New Roman', serif" font-weight="bold" font-size="12.5" fill="#111" stroke="#111" stroke-width="0.25">d)</text>
<g stroke="#111" stroke-width="1.1"><line x1="275.5" y1="332.1" x2="275.5" y2="334.7"/><line x1="293.2" y1="332.1" x2="293.2" y2="334.7"/><line x1="310.9" y1="332.1" x2="310.9" y2="334.7"/><line x1="328.6" y1="332.1" x2="328.6" y2="334.7"/><line x1="346.3" y1="332.1" x2="346.3" y2="334.7"/><line x1="364" y1="332.1" x2="364" y2="334.7"/><line x1="381.7" y1="332.1" x2="381.7" y2="334.7"/><line x1="399.4" y1="332.1" x2="399.4" y2="334.7"/><line x1="417.1" y1="332.1" x2="417.1" y2="334.7"/><line x1="434.8" y1="332.1" x2="434.8" y2="334.7"/><line x1="452.5" y1="332.1" x2="452.5" y2="334.7"/><line x1="284.35" y1="332.1" x2="284.35" y2="333.8"/><line x1="302.05" y1="332.1" x2="302.05" y2="333.8"/><line x1="319.75" y1="332.1" x2="319.75" y2="333.8"/><line x1="337.45" y1="332.1" x2="337.45" y2="333.8"/><line x1="355.15" y1="332.1" x2="355.15" y2="333.8"/><line x1="372.85" y1="332.1" x2="372.85" y2="333.8"/><line x1="390.55" y1="332.1" x2="390.55" y2="333.8"/><line x1="408.25" y1="332.1" x2="408.25" y2="333.8"/><line x1="425.95" y1="332.1" x2="425.95" y2="333.8"/><line x1="443.65" y1="332.1" x2="443.65" y2="333.8"/><line x1="272.6" y1="325.3" x2="275.4" y2="325.3"/><line x1="272.6" y1="310.51" x2="275.4" y2="310.51"/><line x1="272.6" y1="295.73" x2="275.4" y2="295.73"/><line x1="272.6" y1="280.94" x2="275.4" y2="280.94"/><line x1="272.6" y1="266.15" x2="275.4" y2="266.15"/><line x1="272.6" y1="251.36" x2="275.4" y2="251.36"/><line x1="272.6" y1="236.58" x2="275.4" y2="236.58"/><line x1="272.6" y1="221.79" x2="275.4" y2="221.79"/><line x1="272.6" y1="207" x2="275.4" y2="207"/><line x1="273.7" y1="317.91" x2="275.4" y2="317.91"/><line x1="273.7" y1="303.12" x2="275.4" y2="303.12"/><line x1="273.7" y1="288.33" x2="275.4" y2="288.33"/><line x1="273.7" y1="273.54" x2="275.4" y2="273.54"/><line x1="273.7" y1="258.76" x2="275.4" y2="258.76"/><line x1="273.7" y1="243.97" x2="275.4" y2="243.97"/><line x1="273.7" y1="229.18" x2="275.4" y2="229.18"/><line x1="273.7" y1="214.39" x2="275.4" y2="214.39"/></g>
<rect x="275.4" y="200.5" width="177.1" height="131.6" fill="none" stroke="#111" stroke-width="1.35"/>
<g font-family="'Liberation Sans', Arial, sans-serif" font-weight="bold" font-size="8.5" fill="#161616" stroke="#161616" stroke-width="0.22"><text x="275.5" y="343" text-anchor="middle">395</text><text x="293.2" y="343" text-anchor="middle">396</text><text x="310.9" y="343" text-anchor="middle">397</text><text x="328.6" y="343" text-anchor="middle">398</text><text x="346.3" y="343" text-anchor="middle">399</text><text x="364" y="343" text-anchor="middle">400</text><text x="381.7" y="343" text-anchor="middle">401</text><text x="399.4" y="343" text-anchor="middle">402</text><text x="417.1" y="343" text-anchor="middle">403</text><text x="434.8" y="343" text-anchor="middle">404</text><text x="452.5" y="343" text-anchor="middle">405</text><text x="270.4" y="328.36" text-anchor="end">4000</text><text x="270.4" y="313.57" text-anchor="end">4200</text><text x="270.4" y="298.79" text-anchor="end">4400</text><text x="270.4" y="284" text-anchor="end">4600</text><text x="270.4" y="269.21" text-anchor="end">4800</text><text x="270.4" y="254.42" text-anchor="end">5000</text><text x="270.4" y="239.64" text-anchor="end">5200</text><text x="270.4" y="224.85" text-anchor="end">5400</text><text x="270.4" y="210.06" text-anchor="end">5600</text></g>
<text x="310.2" y="355.6" font-family="'Liberation Sans', Arial, sans-serif" font-weight="bold" font-size="11.0" fill="#111" textLength="107.4" lengthAdjust="spacingAndGlyphs">Binding Energy (eV)</text>
<text transform="translate(247.6,307.8) rotate(-90)" font-family="'Liberation Sans', Arial, sans-serif" font-weight="bold" font-size="11.0" fill="#111" textLength="76.2" lengthAdjust="spacingAndGlyphs">Intensity (cps)</text>
<clipPath id="clipd"><rect x="275.4" y="200.5" width="177.1" height="131.6"/></clipPath>
<g clip-path="url(#clipd)">
<polyline points="275.4,321 276.5,325.9 277.4,318.1 278.4,316.2 279.4,325.9 280.8,318.1 282.3,312.3 283.7,319.1 285.2,325.4 286.6,320.1 288.1,322 289.5,326.4 291,321 292.5,325.9 294.4,323.5 297.3,321 299.7,323 301.7,325.4 304.1,316.2 306,314.2 307.5,316.2 309,310.4 310.9,312.3 312.3,317.6 313.8,316.2 315.7,320.1 317.2,321.5 318.7,306.4 320,317.3 322.1,309.1 324.1,313.2 326.9,326.2 328.9,302.3 331,317.3 333,305 335.7,298.9 338.5,305 341.2,303.7 343.9,295.5 346.6,277.7 348.7,273.6 349.8,278.2 351.8,263.2 353.9,255 355.2,249.6 357.3,255.7 359.3,246.8 360.7,242.1 362.1,246.1 364.8,245.5 366.8,249.6 368.9,264.6 370.9,257.7 373.6,265.9 376.4,276.8 378.4,287.8 380.5,285 383.2,295.9 384.5,292 386.9,288.7 388.9,298.4 391.3,297.5 394.2,313.5 396.6,306.2 399.5,300.4 402,304.2 404.4,308.6 406.8,299.9 408.8,305.2 411.2,301.8 413.6,298.4 416.3,307.6 418.9,298.9 420.8,297.5 422.8,302.3 424.4,312 426.2,304.7 428.1,301.3 430,303.3 432,308.1 433.9,305.2 435.4,302.3 436.8,295.5 437.8,304.2 438.8,311 440.7,309.1 442.2,313.5 444.1,316.4 446,313.5 448,311 449.4,306.2 451.4,304.2 453,303.8" fill="none" stroke="#111" stroke-width="1.05" stroke-linejoin="round" />
<polyline points="275,321.53 275.45,321.54 275.89,321.56 276.34,321.57 276.78,321.6 277.23,321.62 277.68,321.65 278.12,321.68 278.57,321.7 279.02,321.73 279.46,321.76 279.91,321.79 280.35,321.82 280.8,321.85 281.25,321.88 281.69,321.91 282.14,321.94 282.58,321.97 283.03,322 283.48,322.03 283.92,322.06 284.37,322.09 284.81,322.13 285.26,322.16 285.71,322.19 286.15,322.22 286.6,322.26 287.05,322.3 287.49,322.34 287.94,322.38 288.38,322.42 288.83,322.48 289.28,322.54 289.72,322.61 290.17,322.7 290.61,322.8 291.06,322.91 291.51,323.02 291.95,323.12 292.4,323.21 292.84,323.29 293.29,323.34 293.74,323.37 294.18,323.36 294.63,323.32 295.08,323.25 295.52,323.15 295.97,323.03 296.41,322.9 296.86,322.74 297.31,322.58 297.75,322.41 298.2,322.23 298.64,322.06 299.09,321.87 299.54,321.68 299.98,321.49 300.43,321.29 300.87,321.08 301.32,320.87 301.77,320.66 302.21,320.44 302.66,320.21 303.11,319.99 303.55,319.78 304,319.57 304.44,319.38 304.89,319.19 305.34,319.02 305.78,318.85 306.23,318.7 306.67,318.56 307.12,318.42 307.57,318.29 308.01,318.16 308.46,318.03 308.9,317.9 309.35,317.78 309.8,317.66 310.24,317.53 310.69,317.41 311.14,317.29 311.58,317.17 312.03,317.05 312.47,316.93 312.92,316.82 313.37,316.7 313.81,316.59 314.26,316.49 314.7,316.38 315.15,316.28 315.6,316.19 316.04,316.1 316.49,316.01 316.93,315.92 317.38,315.83 317.83,315.75 318.27,315.66 318.72,315.57 319.17,315.47 319.61,315.37 320.06,315.27 320.5,315.16 320.95,315.04 321.4,314.92 321.84,314.8 322.29,314.67 322.73,314.53 323.18,314.38 323.63,314.23 324.07,314.07 324.52,313.9 324.96,313.72 325.41,313.52 325.86,313.3 326.3,313.07 326.75,312.81 327.2,312.53 327.64,312.22 328.09,311.9 328.53,311.54 328.98,311.16 329.43,310.76 329.87,310.35 330.32,309.91 330.76,309.46 331.21,309.01 331.66,308.54 332.1,308.06 332.55,307.57 332.99,307.08 333.44,306.57 333.89,306.05 334.33,305.51 334.78,304.96 335.23,304.4 335.67,303.81 336.12,303.19 336.56,302.56 337.01,301.9 337.46,301.21 337.9,300.49 338.35,299.74 338.79,298.95 339.24,298.12 339.69,297.25 340.13,296.35 340.58,295.4 341.03,294.41 341.47,293.39 341.92,292.33 342.36,291.23 342.81,290.08 343.26,288.88 343.7,287.63 344.15,286.32 344.59,284.95 345.04,283.53 345.49,282.08 345.93,280.59 346.38,279.09 346.82,277.6 347.27,276.14 347.72,274.72 348.16,273.35 348.61,272.03 349.06,270.76 349.5,269.53 349.95,268.33 350.39,267.15 350.84,265.97 351.29,264.77 351.73,263.54 352.18,262.3 352.62,261.03 353.07,259.75 353.52,258.48 353.96,257.24 354.41,256.06 354.85,254.95 355.3,253.92 355.75,252.98 356.19,252.12 356.64,251.36 357.09,250.69 357.53,250.09 357.98,249.56 358.42,249.09 358.87,248.67 359.32,248.34 359.76,248.08 360.21,247.9 360.65,247.8 361.1,247.77 361.55,247.82 361.99,247.94 362.44,248.11 362.88,248.33 363.33,248.59 363.78,248.89 364.22,249.21 364.67,249.59 365.12,250.01 365.56,250.49 366.01,251.02 366.45,251.63 366.9,252.29 367.35,253.03 367.79,253.84 368.24,254.71 368.68,255.63 369.13,256.58 369.58,257.55 370.02,258.54 370.47,259.55 370.91,260.57 371.36,261.61 371.81,262.66 372.25,263.72 372.7,264.81 373.15,265.91 373.59,267.03 374.04,268.16 374.48,269.29 374.93,270.41 375.38,271.53 375.82,272.63 376.27,273.72 376.71,274.8 377.16,275.87 377.61,276.93 378.05,277.97 378.5,279.01 378.94,280.03 379.39,281.05 379.84,282.06 380.28,283.06 380.73,284.05 381.18,285.03 381.62,286.01 382.07,286.98 382.51,287.95 382.96,288.91 383.41,289.86 383.85,290.8 384.3,291.73 384.74,292.64 385.19,293.52 385.64,294.36 386.08,295.17 386.53,295.93 386.97,296.65 387.42,297.33 387.87,297.97 388.31,298.56 388.76,299.12 389.21,299.64 389.65,300.12 390.1,300.58 390.54,301.01 390.99,301.42 391.44,301.79 391.88,302.14 392.33,302.47 392.77,302.76 393.22,303.03 393.67,303.26 394.11,303.46 394.56,303.64 395.01,303.78 395.45,303.9 395.9,304 396.34,304.07 396.79,304.14 397.24,304.2 397.68,304.26 398.13,304.32 398.57,304.39 399.02,304.46 399.47,304.54 399.91,304.62 400.36,304.72 400.8,304.82 401.25,304.92 401.7,305.02 402.14,305.12 402.59,305.21 403.04,305.29 403.48,305.34 403.93,305.36 404.37,305.34 404.82,305.28 405.27,305.19 405.71,305.06 406.16,304.9 406.6,304.71 407.05,304.5 407.5,304.29 407.94,304.09 408.39,303.89 408.83,303.71 409.28,303.55 409.73,303.4 410.17,303.27 410.62,303.15 411.07,303.05 411.51,302.96 411.96,302.87 412.4,302.8 412.85,302.74 413.3,302.7 413.74,302.67 414.19,302.66 414.63,302.66 415.08,302.67 415.53,302.69 415.97,302.72 416.42,302.76 416.86,302.8 417.31,302.84 417.76,302.88 418.2,302.92 418.65,302.96 419.1,302.99 419.54,303.01 419.99,303.04 420.43,303.06 420.88,303.08 421.33,303.09 421.77,303.11 422.22,303.13 422.66,303.15 423.11,303.17 423.56,303.2 424,303.23 424.45,303.26 424.89,303.31 425.34,303.36 425.79,303.43 426.23,303.52 426.68,303.63 427.13,303.78 427.57,303.94 428.02,304.14 428.46,304.35 428.91,304.58 429.36,304.83 429.8,305.09 430.25,305.35 430.69,305.62 431.14,305.89 431.59,306.17 432.03,306.44 432.48,306.71 432.92,306.98 433.37,307.24 433.82,307.49 434.26,307.71 434.71,307.89 435.16,308.04 435.6,308.16 436.05,308.25 436.49,308.31 436.94,308.34 437.39,308.34 437.83,308.33 438.28,308.31 438.72,308.28 439.17,308.26 439.62,308.23 440.06,308.2 440.51,308.17 440.95,308.15 441.4,308.14 441.85,308.12 442.29,308.11 442.74,308.11 443.19,308.1 443.63,308.1 444.08,308.1 444.52,308.1 444.97,308.1 445.42,308.1 445.86,308.1 446.31,308.09 446.75,308.07 447.2,308.05 447.65,308.01 448.09,307.96 448.54,307.9 448.98,307.81 449.43,307.71 449.88,307.6 450.32,307.47 450.77,307.33 451.22,307.18 451.66,307.03 452.11,306.91 452.55,306.8 453,306.7" fill="none" stroke="#ff0000" stroke-width="1.6" stroke-linejoin="round" />
</g>
<text transform="translate(362.03,246.5) rotate(-90)" font-family="'Liberation Sans', Arial, sans-serif" font-size="4.8" fill="#222" font-weight="bold" textLength="35.8" lengthAdjust="spacingAndGlyphs">399.81 eV (Cu-N)</text>
<line x1="291.5" y1="211.2" x2="306" y2="211.2" stroke="#222" stroke-width="1.4"/>
<text x="307.3" y="213.47" font-family="'Liberation Sans', Arial, sans-serif" font-weight="bold" font-size="6.3" fill="#222" stroke="#222" stroke-width="0.14">N (1s)</text>
<g stroke="#777" stroke-width="0.75" stroke-linecap="round"><line x1="423.6" y1="219.86" x2="421.2" y2="224.02"/><line x1="421.2" y1="224.02" x2="416.4" y2="224.02"/><line x1="416.4" y1="224.02" x2="414" y2="219.86"/><line x1="414" y1="219.86" x2="416.4" y2="215.7"/><line x1="416.4" y1="215.7" x2="421.2" y2="215.7"/><line x1="421.2" y1="215.7" x2="423.6" y2="219.86"/><line x1="420.26" y1="223.19" x2="417.34" y2="223.19"/><line x1="415.19" y1="219.46" x2="416.65" y2="216.93"/><line x1="420.95" y1="216.93" x2="422.41" y2="219.46"/><line x1="416.4" y1="224.02" x2="414.67" y2="227.24"/><line x1="421.2" y1="224.02" x2="422.93" y2="227.24"/><line x1="421.2" y1="215.7" x2="422.93" y2="213.65"/><line x1="412.47" y1="228.5" x2="408.91" y2="228.5"/><line x1="412.32" y1="227.54" x2="409.44" y2="227.54"/><line x1="406.42" y1="232.46" x2="408.91" y2="228.5"/><line x1="408.82" y1="236.61" x2="406.42" y2="240.77"/><line x1="406.42" y1="240.77" x2="401.62" y2="240.77"/><line x1="401.62" y1="240.77" x2="399.22" y2="236.61"/><line x1="399.22" y1="236.61" x2="401.62" y2="232.46"/><line x1="401.62" y1="232.46" x2="406.42" y2="232.46"/><line x1="406.42" y1="232.46" x2="408.82" y2="236.61"/><line x1="405.48" y1="239.94" x2="402.56" y2="239.94"/><line x1="401.62" y1="232.44" x2="399.22" y2="236.59"/><line x1="399.22" y1="236.59" x2="394.42" y2="236.59"/><line x1="394.42" y1="236.59" x2="392.02" y2="232.44"/><line x1="392.02" y1="232.44" x2="394.42" y2="228.28"/><line x1="394.42" y1="228.28" x2="399.22" y2="228.28"/><line x1="399.22" y1="228.28" x2="401.62" y2="232.44"/><line x1="398.28" y1="235.76" x2="395.36" y2="235.76"/><line x1="393.21" y1="232.04" x2="394.67" y2="229.51"/><line x1="398.97" y1="229.51" x2="400.43" y2="232.04"/><line x1="408.82" y1="236.61" x2="412.55" y2="236.92"/><line x1="415.44" y1="230.03" x2="417.36" y2="232.06" stroke-dasharray="0.77,0.77"/><line x1="415.68" y1="235.83" x2="417.46" y2="234.56" stroke-dasharray="0.77,0.77"/><line x1="425.13" y1="228.5" x2="428.69" y2="228.5"/><line x1="425.28" y1="227.54" x2="428.16" y2="227.54"/><line x1="431.18" y1="232.46" x2="428.69" y2="228.5"/><line x1="438.38" y1="236.61" x2="435.98" y2="240.77"/><line x1="435.98" y1="240.77" x2="431.18" y2="240.77"/><line x1="431.18" y1="240.77" x2="428.78" y2="236.61"/><line x1="428.78" y1="236.61" x2="431.18" y2="232.46"/><line x1="431.18" y1="232.46" x2="435.98" y2="232.46"/><line x1="435.98" y1="232.46" x2="438.38" y2="236.61"/><line x1="435.04" y1="239.94" x2="432.12" y2="239.94"/><line x1="445.58" y1="232.44" x2="443.18" y2="236.59"/><line x1="443.18" y1="236.59" x2="438.38" y2="236.59"/><line x1="438.38" y1="236.59" x2="435.98" y2="232.44"/><line x1="435.98" y1="232.44" x2="438.38" y2="228.28"/><line x1="438.38" y1="228.28" x2="443.18" y2="228.28"/><line x1="443.18" y1="228.28" x2="445.58" y2="232.44"/><line x1="442.24" y1="235.76" x2="439.32" y2="235.76"/><line x1="437.17" y1="232.04" x2="438.63" y2="229.51"/><line x1="442.93" y1="229.51" x2="444.39" y2="232.04"/><line x1="428.78" y1="236.61" x2="425.05" y2="236.92"/><line x1="422.16" y1="230.03" x2="420.24" y2="232.06" stroke-dasharray="0.77,0.77"/><line x1="421.92" y1="235.83" x2="420.14" y2="234.56" stroke-dasharray="0.77,0.77"/></g>
<g font-family="'Liberation Sans', Arial, sans-serif" font-weight="bold" font-size="3.84"><text x="414" y="229.88" text-anchor="middle" fill="#2222dd">N</text><text x="423.6" y="229.88" text-anchor="middle" fill="#2222dd">N</text><text x="414" y="238.43" text-anchor="middle" fill="#444">O</text><text x="423.6" y="238.43" text-anchor="middle" fill="#444">O</text><text x="418.8" y="234.97" text-anchor="middle" fill="#444">Cu</text><text x="424.51" y="213.08" text-anchor="middle" fill="#444">Cl</text></g>
<text x="47.6" y="380.8" font-family="'Liberation Serif', 'Times New Roman', serif" font-weight="bold" font-size="12.5" fill="#111" stroke="#111" stroke-width="0.25">e)</text>
<g stroke="#111" stroke-width="1.1"><line x1="44.6" y1="521.1" x2="44.6" y2="523.7"/><line x1="90.4" y1="521.1" x2="90.4" y2="523.7"/><line x1="136.2" y1="521.1" x2="136.2" y2="523.7"/><line x1="182" y1="521.1" x2="182" y2="523.7"/><line x1="227.8" y1="521.1" x2="227.8" y2="523.7"/><line x1="67.5" y1="521.1" x2="67.5" y2="522.8"/><line x1="113.3" y1="521.1" x2="113.3" y2="522.8"/><line x1="159.1" y1="521.1" x2="159.1" y2="522.8"/><line x1="204.9" y1="521.1" x2="204.9" y2="522.8"/><line x1="41.8" y1="521.1" x2="44.6" y2="521.1"/><line x1="41.8" y1="502.87" x2="44.6" y2="502.87"/><line x1="41.8" y1="484.64" x2="44.6" y2="484.64"/><line x1="41.8" y1="466.41" x2="44.6" y2="466.41"/><line x1="41.8" y1="448.19" x2="44.6" y2="448.19"/><line x1="41.8" y1="429.96" x2="44.6" y2="429.96"/><line x1="41.8" y1="411.73" x2="44.6" y2="411.73"/><line x1="41.8" y1="393.5" x2="44.6" y2="393.5"/><line x1="42.9" y1="511.99" x2="44.6" y2="511.99"/><line x1="42.9" y1="493.76" x2="44.6" y2="493.76"/><line x1="42.9" y1="475.53" x2="44.6" y2="475.53"/><line x1="42.9" y1="457.3" x2="44.6" y2="457.3"/><line x1="42.9" y1="439.07" x2="44.6" y2="439.07"/><line x1="42.9" y1="420.84" x2="44.6" y2="420.84"/><line x1="42.9" y1="402.61" x2="44.6" y2="402.61"/></g>
<rect x="44.6" y="384.9" width="183.2" height="136.2" fill="none" stroke="#111" stroke-width="1.35"/>
<g font-family="'Liberation Sans', Arial, sans-serif" font-weight="bold" font-size="8.5" fill="#161616" stroke="#161616" stroke-width="0.22"><text x="44.6" y="532" text-anchor="middle">206</text><text x="90.4" y="532" text-anchor="middle">204</text><text x="136.2" y="532" text-anchor="middle">202</text><text x="182" y="532" text-anchor="middle">200</text><text x="227.8" y="532" text-anchor="middle">198</text><text x="39.6" y="524.16" text-anchor="end">1000</text><text x="39.6" y="505.93" text-anchor="end">1100</text><text x="39.6" y="487.7" text-anchor="end">1200</text><text x="39.6" y="469.47" text-anchor="end">1300</text><text x="39.6" y="451.25" text-anchor="end">1400</text><text x="39.6" y="433.02" text-anchor="end">1500</text><text x="39.6" y="414.79" text-anchor="end">1600</text><text x="39.6" y="396.56" text-anchor="end">1700</text></g>
<text x="80.8" y="544.1" font-family="'Liberation Sans', Arial, sans-serif" font-weight="bold" font-size="11.0" fill="#111" textLength="111.4" lengthAdjust="spacingAndGlyphs">Binding Energy (eV)</text>
<text transform="translate(13.6,495.9) rotate(-90)" font-family="'Liberation Sans', Arial, sans-serif" font-weight="bold" font-size="11.0" fill="#111" textLength="78.6" lengthAdjust="spacingAndGlyphs">Intensity (cps)</text>
<clipPath id="clipe"><rect x="44.6" y="384.9" width="183.2" height="136.2"/></clipPath>
<g clip-path="url(#clipe)">
<polyline points="44.6,507.4 45.7,498.3 46.8,489.9 47.9,497.2 49.1,509.6 51.3,496.6 53.6,501.7 55.8,497.8 58.1,502.8 60.9,518.6 63.2,509.6 65.4,487.1 67.7,508.5 69.9,481.4 72.2,504 74.4,502.8 77.8,511.9 80.1,513.6 82.9,505.1 84.6,502.8 85.9,507.4 87.4,493.8 88.5,487.1 89.2,485.5 91.4,491.3 93.6,484.8 95.7,492.8 97.9,482.6 100.1,479.7 102.3,475.3 104.5,465.1 105.9,469.5 107.4,446.2 108.8,438.9 110.3,468 111.7,454.9 113.2,463.7 114.7,446.2 116.1,460.8 117.6,449.1 119,443.3 120.8,433.1 122.2,422.9 123.7,436 125.1,447.7 127,441.8 129.2,439.7 131.4,441.8 132.2,439.3 134.4,440.8 136.6,446.6 138.7,427.7 140.9,416 143.1,417.5 144.6,423.3 146,414.6 148.2,407.3 150.4,408.7 152.6,405.8 154,400 155.5,394.2 156.9,389.3 158.4,398.6 159.8,405.8 161.3,413.1 163.5,418.9 165.7,408.7 167.8,420.4 170,434.9 171.5,446 173,454.9 175.2,451.9 177.5,465.3 180.4,474.3 183.4,481.7 185.6,486.2 187.1,492.2 188.6,507.1 190.1,492.2 192.1,487.7 193.8,496.6 196.1,511.5 198.3,502.6 200.6,510 202.8,505.6 205,508.6 208,519 210.2,508.6 212,495.9 214,505.6 216.2,508.6 218.4,507.8 220.7,519 222.9,510 225.1,507.8 226.3,517.5 227.8,507.1" fill="none" stroke="#333" stroke-width="0.95" stroke-linejoin="round" />
<polyline points="33.15,504.88 33.49,504.88 33.84,504.88 34.18,504.88 34.53,504.88 34.87,504.88 35.21,504.88 35.56,504.88 35.9,504.88 36.25,504.88 36.59,504.88 36.93,504.88 37.28,504.88 37.62,504.88 37.97,504.88 38.31,504.88 38.66,504.88 39,504.88 39.34,504.88 39.69,504.88 40.03,504.88 40.38,504.88 40.72,504.88 41.06,504.88 41.41,504.88 41.75,504.88 42.1,504.88 42.44,504.88 42.78,504.88 43.13,504.88 43.47,504.88 43.82,504.88 44.16,504.88 44.5,504.88 44.85,504.88 45.19,504.88 45.54,504.88 45.88,504.88 46.22,504.88 46.57,504.88 46.91,504.88 47.26,504.88 47.6,504.88 47.95,504.88 48.29,504.88 48.63,504.88 48.98,504.88 49.32,504.88 49.67,504.88 50.01,504.88 50.35,504.88 50.7,504.88 51.04,504.88 51.39,504.88 51.73,504.88 52.07,504.88 52.42,504.88 52.76,504.88 53.11,504.88 53.45,504.88 53.79,504.88 54.14,504.88 54.48,504.88 54.83,504.88 55.17,504.88 55.51,504.88 55.86,504.88 56.2,504.88 56.55,504.88 56.89,504.88 57.24,504.88 57.58,504.88 57.92,504.88 58.27,504.88 58.61,504.88 58.96,504.88 59.3,504.88 59.64,504.88 59.99,504.87 60.33,504.87 60.68,504.87 61.02,504.87 61.36,504.87 61.71,504.87 62.05,504.87 62.4,504.87 62.74,504.87 63.08,504.87 63.43,504.87 63.77,504.87 64.12,504.87 64.46,504.87 64.8,504.87 65.15,504.87 65.49,504.87 65.84,504.87 66.18,504.87 66.53,504.87 66.87,504.87 67.21,504.87 67.56,504.87 67.9,504.87 68.25,504.87 68.59,504.87 68.93,504.87 69.28,504.86 69.62,504.86 69.97,504.86 70.31,504.86 70.65,504.86 71,504.86 71.34,504.86 71.69,504.86 72.03,504.85 72.37,504.85 72.72,504.85 73.06,504.85 73.41,504.85 73.75,504.85 74.09,504.84 74.44,504.84 74.78,504.84 75.13,504.84 75.47,504.83 75.82,504.83 76.16,504.83 76.5,504.82 76.85,504.82 77.19,504.82 77.54,504.81 77.88,504.81 78.22,504.8 78.57,504.8 78.91,504.79 79.26,504.79 79.6,504.78 79.94,504.78 80.29,504.77 80.63,504.76 80.98,504.76 81.32,504.75 81.66,504.74 82.01,504.73 82.35,504.72 82.7,504.71 83.04,504.7 83.38,504.69 83.73,504.68 84.07,504.67 84.42,504.66 84.76,504.64 85.11,504.63 85.45,504.61 85.79,504.6 86.14,504.58 86.48,504.56 86.83,504.55 87.17,504.53 87.51,504.51 87.86,504.48 88.2,504.46 88.55,504.44 88.89,504.41 89.23,504.39 89.58,504.36 89.92,504.33 90.27,504.3 90.61,504.27 90.95,504.23 91.3,504.2 91.64,504.16 91.99,504.12 92.33,504.08 92.67,504.04 93.02,503.99 93.36,503.95 93.71,503.9 94.05,503.85 94.4,503.79 94.74,503.74 95.08,503.68 95.43,503.62 95.77,503.55 96.12,503.48 96.46,503.41 96.8,503.34 97.15,503.26 97.49,503.18 97.84,503.1 98.18,503.01 98.52,502.92 98.87,502.83 99.21,502.73 99.56,502.63 99.9,502.52 100.24,502.41 100.59,502.3 100.93,502.18 101.28,502.05 101.62,501.92 101.96,501.79 102.31,501.65 102.65,501.5 103,501.35 103.34,501.19 103.69,501.03 104.03,500.86 104.37,500.69 104.72,500.51 105.06,500.32 105.41,500.12 105.75,499.92 106.09,499.71 106.44,499.5 106.78,499.28 107.13,499.05 107.47,498.81 107.81,498.56 108.16,498.31 108.5,498.05 108.85,497.77 109.19,497.49 109.53,497.21 109.88,496.91 110.22,496.6 110.57,496.29 110.91,495.96 111.25,495.63 111.6,495.28 111.94,494.93 112.29,494.56 112.63,494.19 112.98,493.8 113.32,493.41 113.66,493 114.01,492.58 114.35,492.15 114.7,491.71 115.04,491.26 115.38,490.8 115.73,490.32 116.07,489.84 116.42,489.34 116.76,488.83 117.1,488.31 117.45,487.77 117.79,487.23 118.14,486.67 118.48,486.1 118.82,485.52 119.17,484.92 119.51,484.31 119.86,483.69 120.2,483.06 120.54,482.42 120.89,481.76 121.23,481.09 121.58,480.41 121.92,479.72 122.27,479.01 122.61,478.29 122.95,477.56 123.3,476.82 123.64,476.06 123.99,475.29 124.33,474.52 124.67,473.73 125.02,472.93 125.36,472.11 125.71,471.29 126.05,470.46 126.39,469.61 126.74,468.76 127.08,467.89 127.43,467.01 127.77,466.13 128.11,465.24 128.46,464.33 128.8,463.42 129.15,462.5 129.49,461.57 129.83,460.64 130.18,459.69 130.52,458.74 130.87,457.79 131.21,456.83 131.56,455.86 131.9,454.88 132.24,453.91 132.59,452.92 132.93,451.94 133.28,450.95 133.62,449.96 133.96,448.96 134.31,447.97 134.65,446.97 135,445.98 135.34,444.98 135.68,443.98 136.03,442.99 136.37,441.99 136.72,441 137.06,440.01 137.4,439.03 137.75,438.05 138.09,437.07 138.44,436.1 138.78,435.14 139.12,434.18 139.47,433.23 139.81,432.29 140.16,431.36 140.5,430.43 140.84,429.52 141.19,428.62 141.53,427.73 141.88,426.85 142.22,425.98 142.57,425.12 142.91,424.29 143.25,423.46 143.6,422.65 143.94,421.86 144.29,421.08 144.63,420.32 144.97,419.57 145.32,418.85 145.66,418.14 146.01,417.45 146.35,416.79 146.69,416.14 147.04,415.51 147.38,414.91 147.73,414.33 148.07,413.76 148.41,413.23 148.76,412.71 149.1,412.22 149.45,411.76 149.79,411.31 150.13,410.9 150.48,410.5 150.82,410.14 151.17,409.8 151.51,409.48 151.86,409.19 152.2,408.93 152.54,408.7 152.89,408.49 153.23,408.31 153.58,408.16 153.92,408.03 154.26,407.94 154.61,407.87 154.95,407.82 155.3,407.81 155.64,407.82 155.98,407.86 156.33,407.93 156.67,408.03 157.02,408.16 157.36,408.31 157.7,408.49 158.05,408.69 158.39,408.93 158.74,409.19 159.08,409.48 159.42,409.79 159.77,410.13 160.11,410.5 160.46,410.89 160.8,411.31 161.15,411.75 161.49,412.21 161.83,412.71 162.18,413.22 162.52,413.76 162.87,414.32 163.21,414.9 163.55,415.5 163.9,416.13 164.24,416.78 164.59,417.44 164.93,418.13 165.27,418.84 165.62,419.56 165.96,420.31 166.31,421.07 166.65,421.84 166.99,422.64 167.34,423.45 167.68,424.27 168.03,425.11 168.37,425.97 168.71,426.83 169.06,427.71 169.4,428.6 169.75,429.51 170.09,430.42 170.44,431.34 170.78,432.28 171.12,433.22 171.47,434.17 171.81,435.12 172.16,436.09 172.5,437.06 172.84,438.03 173.19,439.01 173.53,440 173.88,440.99 174.22,441.98 174.56,442.97 174.91,443.97 175.25,444.96 175.6,445.96 175.94,446.96 176.28,447.95 176.63,448.95 176.97,449.94 177.32,450.94 177.66,451.92 178,452.91 178.35,453.89 178.69,454.87 179.04,455.84 179.38,456.81 179.73,457.77 180.07,458.73 180.41,459.68 180.76,460.62 181.1,461.56 181.45,462.49 181.79,463.41 182.13,464.32 182.48,465.22 182.82,466.12 183.17,467 183.51,467.88 183.85,468.74 184.2,469.6 184.54,470.44 184.89,471.28 185.23,472.1 185.57,472.91 185.92,473.72 186.26,474.51 186.61,475.28 186.95,476.05 187.29,476.81 187.64,477.55 187.98,478.28 188.33,479 188.67,479.7 189.02,480.4 189.36,481.08 189.7,481.75 190.05,482.41 190.39,483.05 190.74,483.69 191.08,484.31 191.42,484.91 191.77,485.51 192.11,486.09 192.46,486.66 192.8,487.22 193.14,487.77 193.49,488.3 193.83,488.82 194.18,489.33 194.52,489.83 194.86,490.32 195.21,490.79 195.55,491.25 195.9,491.71 196.24,492.15 196.58,492.58 196.93,492.99 197.27,493.4 197.62,493.8 197.96,494.18 198.31,494.56 198.65,494.92 198.99,495.28 199.34,495.62 199.68,495.96 200.03,496.28 200.37,496.6 200.71,496.9 201.06,497.2 201.4,497.49 201.75,497.77 202.09,498.04 202.43,498.3 202.78,498.56 203.12,498.8 203.47,499.04 203.81,499.27 204.15,499.5 204.5,499.71 204.84,499.92 205.19,500.12 205.53,500.32 205.87,500.5 206.22,500.68 206.56,500.86 206.91,501.03 207.25,501.19 207.6,501.35 207.94,501.5 208.28,501.64 208.63,501.78 208.97,501.92 209.32,502.05 209.66,502.17 210,502.29 210.35,502.41 210.69,502.52 211.04,502.63 211.38,502.73 211.72,502.83 212.07,502.92 212.41,503.01 212.76,503.1 213.1,503.18 213.44,503.26 213.79,503.34 214.13,503.41 214.48,503.48 214.82,503.55 215.16,503.62 215.51,503.68 215.85,503.74 216.2,503.79 216.54,503.85 216.89,503.9 217.23,503.95 217.57,503.99 217.92,504.04 218.26,504.08 218.61,504.12 218.95,504.16 219.29,504.2 219.64,504.23 219.98,504.27 220.33,504.3 220.67,504.33 221.01,504.36 221.36,504.39 221.7,504.41 222.05,504.44 222.39,504.46 222.73,504.48 223.08,504.51 223.42,504.53 223.77,504.55 224.11,504.56 224.45,504.58 224.8,504.6 225.14,504.61 225.49,504.63 225.83,504.64 226.18,504.66 226.52,504.67 226.86,504.68 227.21,504.69 227.55,504.7 227.9,504.71 228.24,504.72 228.58,504.73 228.93,504.74 229.27,504.75 229.62,504.76 229.96,504.76 230.3,504.77 230.65,504.78 230.99,504.78 231.34,504.79 231.68,504.79 232.02,504.8 232.37,504.8 232.71,504.81 233.06,504.81 233.4,504.82 233.74,504.82 234.09,504.82 234.43,504.83 234.78,504.83 235.12,504.83 235.47,504.84 235.81,504.84 236.15,504.84 236.5,504.84 236.84,504.85 237.19,504.85 237.53,504.85 237.87,504.85 238.22,504.85 238.56,504.85 238.91,504.86 239.25,504.86" fill="none" stroke="#00ee00" stroke-width="1.6" stroke-linejoin="round" />
<polyline points="33.15,503.96 33.49,503.96 33.84,503.96 34.18,503.96 34.53,503.96 34.87,503.96 35.21,503.96 35.56,503.96 35.9,503.96 36.25,503.96 36.59,503.96 36.93,503.96 37.28,503.96 37.62,503.96 37.97,503.96 38.31,503.96 38.66,503.96 39,503.96 39.34,503.96 39.69,503.96 40.03,503.96 40.38,503.96 40.72,503.96 41.06,503.96 41.41,503.96 41.75,503.96 42.1,503.96 42.44,503.96 42.78,503.96 43.13,503.96 43.47,503.96 43.82,503.96 44.16,503.96 44.5,503.96 44.85,503.96 45.19,503.96 45.54,503.96 45.88,503.96 46.22,503.96 46.57,503.95 46.91,503.95 47.26,503.95 47.6,503.95 47.95,503.95 48.29,503.95 48.63,503.95 48.98,503.95 49.32,503.95 49.67,503.94 50.01,503.94 50.35,503.94 50.7,503.94 51.04,503.94 51.39,503.93 51.73,503.93 52.07,503.93 52.42,503.93 52.76,503.92 53.11,503.92 53.45,503.92 53.79,503.91 54.14,503.91 54.48,503.91 54.83,503.9 55.17,503.9 55.51,503.89 55.86,503.89 56.2,503.88 56.55,503.87 56.89,503.87 57.24,503.86 57.58,503.85 57.92,503.84 58.27,503.84 58.61,503.83 58.96,503.82 59.3,503.81 59.64,503.79 59.99,503.78 60.33,503.77 60.68,503.76 61.02,503.74 61.36,503.73 61.71,503.71 62.05,503.7 62.4,503.68 62.74,503.66 63.08,503.64 63.43,503.62 63.77,503.6 64.12,503.57 64.46,503.55 64.8,503.52 65.15,503.5 65.49,503.47 65.84,503.44 66.18,503.4 66.53,503.37 66.87,503.33 67.21,503.3 67.56,503.26 67.9,503.21 68.25,503.17 68.59,503.12 68.93,503.08 69.28,503.02 69.62,502.97 69.97,502.91 70.31,502.86 70.65,502.79 71,502.73 71.34,502.66 71.69,502.59 72.03,502.52 72.37,502.44 72.72,502.36 73.06,502.27 73.41,502.18 73.75,502.09 74.09,501.99 74.44,501.89 74.78,501.79 75.13,501.68 75.47,501.56 75.82,501.44 76.16,501.32 76.5,501.19 76.85,501.06 77.19,500.92 77.54,500.77 77.88,500.62 78.22,500.47 78.57,500.3 78.91,500.14 79.26,499.96 79.6,499.78 79.94,499.59 80.29,499.4 80.63,499.2 80.98,498.99 81.32,498.78 81.66,498.56 82.01,498.33 82.35,498.1 82.7,497.85 83.04,497.6 83.38,497.34 83.73,497.08 84.07,496.8 84.42,496.52 84.76,496.23 85.11,495.93 85.45,495.63 85.79,495.31 86.14,494.99 86.48,494.66 86.83,494.32 87.17,493.97 87.51,493.61 87.86,493.24 88.2,492.87 88.55,492.49 88.89,492.09 89.23,491.69 89.58,491.29 89.92,490.87 90.27,490.44 90.61,490.01 90.95,489.57 91.3,489.11 91.64,488.66 91.99,488.19 92.33,487.71 92.67,487.23 93.02,486.74 93.36,486.24 93.71,485.74 94.05,485.23 94.4,484.71 94.74,484.18 95.08,483.65 95.43,483.11 95.77,482.57 96.12,482.02 96.46,481.46 96.8,480.9 97.15,480.34 97.49,479.77 97.84,479.19 98.18,478.62 98.52,478.03 98.87,477.45 99.21,476.87 99.56,476.28 99.9,475.69 100.24,475.1 100.59,474.5 100.93,473.91 101.28,473.32 101.62,472.73 101.96,472.14 102.31,471.55 102.65,470.96 103,470.37 103.34,469.79 103.69,469.21 104.03,468.64 104.37,468.07 104.72,467.5 105.06,466.94 105.41,466.39 105.75,465.84 106.09,465.3 106.44,464.77 106.78,464.24 107.13,463.73 107.47,463.22 107.81,462.72 108.16,462.24 108.5,461.76 108.85,461.3 109.19,460.84 109.53,460.4 109.88,459.98 110.22,459.56 110.57,459.16 110.91,458.77 111.25,458.4 111.6,458.04 111.94,457.7 112.29,457.37 112.63,457.06 112.98,456.76 113.32,456.49 113.66,456.22 114.01,455.98 114.35,455.75 114.7,455.54 115.04,455.35 115.38,455.18 115.73,455.03 116.07,454.89 116.42,454.77 116.76,454.68 117.1,454.6 117.45,454.54 117.79,454.5 118.14,454.48 118.48,454.48 118.82,454.49 119.17,454.53 119.51,454.59 119.86,454.66 120.2,454.76 120.54,454.87 120.89,455 121.23,455.15 121.58,455.32 121.92,455.51 122.27,455.72 122.61,455.94 122.95,456.18 123.3,456.44 123.64,456.71 123.99,457.01 124.33,457.31 124.67,457.64 125.02,457.98 125.36,458.34 125.71,458.71 126.05,459.09 126.39,459.49 126.74,459.9 127.08,460.33 127.43,460.77 127.77,461.22 128.11,461.68 128.46,462.15 128.8,462.64 129.15,463.13 129.49,463.64 129.83,464.15 130.18,464.68 130.52,465.21 130.87,465.75 131.21,466.29 131.56,466.84 131.9,467.4 132.24,467.97 132.59,468.54 132.93,469.11 133.28,469.69 133.62,470.27 133.96,470.86 134.31,471.44 134.65,472.03 135,472.62 135.34,473.22 135.68,473.81 136.03,474.4 136.37,474.99 136.72,475.58 137.06,476.17 137.4,476.76 137.75,477.35 138.09,477.93 138.44,478.51 138.78,479.09 139.12,479.67 139.47,480.24 139.81,480.8 140.16,481.36 140.5,481.92 140.84,482.47 141.19,483.02 141.53,483.56 141.88,484.09 142.22,484.62 142.57,485.14 142.91,485.65 143.25,486.16 143.6,486.65 143.94,487.15 144.29,487.63 144.63,488.11 144.97,488.58 145.32,489.04 145.66,489.49 146.01,489.93 146.35,490.37 146.69,490.79 147.04,491.21 147.38,491.62 147.73,492.03 148.07,492.42 148.41,492.8 148.76,493.18 149.1,493.55 149.45,493.91 149.79,494.26 150.13,494.6 150.48,494.93 150.82,495.26 151.17,495.57 151.51,495.88 151.86,496.18 152.2,496.47 152.54,496.75 152.89,497.03 153.23,497.3 153.58,497.56 153.92,497.81 154.26,498.05 154.61,498.29 154.95,498.52 155.3,498.74 155.64,498.96 155.98,499.17 156.33,499.37 156.67,499.56 157.02,499.75 157.36,499.93 157.7,500.11 158.05,500.28 158.39,500.44 158.74,500.6 159.08,500.75 159.42,500.89 159.77,501.03 160.11,501.17 160.46,501.3 160.8,501.42 161.15,501.54 161.49,501.66 161.83,501.77 162.18,501.87 162.52,501.98 162.87,502.07 163.21,502.17 163.55,502.26 163.9,502.34 164.24,502.42 164.59,502.5 164.93,502.58 165.27,502.65 165.62,502.72 165.96,502.78 166.31,502.84 166.65,502.9 166.99,502.96 167.34,503.02 167.68,503.07 168.03,503.12 168.37,503.16 168.71,503.21 169.06,503.25 169.4,503.29 169.75,503.33 170.09,503.36 170.44,503.4 170.78,503.43 171.12,503.46 171.47,503.49 171.81,503.52 172.16,503.54 172.5,503.57 172.84,503.59 173.19,503.62 173.53,503.64 173.88,503.66 174.22,503.68 174.56,503.69 174.91,503.71 175.25,503.73 175.6,503.74 175.94,503.76 176.28,503.77 176.63,503.78 176.97,503.79 177.32,503.8 177.66,503.81 178,503.82 178.35,503.83 178.69,503.84 179.04,503.85 179.38,503.86 179.73,503.87 180.07,503.87 180.41,503.88 180.76,503.88 181.1,503.89 181.45,503.89 181.79,503.9 182.13,503.9 182.48,503.91 182.82,503.91 183.17,503.92 183.51,503.92 183.85,503.92 184.2,503.93 184.54,503.93 184.89,503.93 185.23,503.93 185.57,503.94 185.92,503.94 186.26,503.94 186.61,503.94 186.95,503.94 187.29,503.95 187.64,503.95 187.98,503.95 188.33,503.95 188.67,503.95 189.02,503.95 189.36,503.95 189.7,503.95 190.05,503.95 190.39,503.96 190.74,503.96 191.08,503.96 191.42,503.96 191.77,503.96 192.11,503.96 192.46,503.96 192.8,503.96 193.14,503.96 193.49,503.96 193.83,503.96 194.18,503.96 194.52,503.96 194.86,503.96 195.21,503.96 195.55,503.96 195.9,503.96 196.24,503.96 196.58,503.96 196.93,503.96 197.27,503.96 197.62,503.96 197.96,503.96 198.31,503.96 198.65,503.96 198.99,503.96 199.34,503.96 199.68,503.96 200.03,503.96 200.37,503.96 200.71,503.96 201.06,503.96 201.4,503.96 201.75,503.96 202.09,503.96 202.43,503.96 202.78,503.96 203.12,503.96 203.47,503.96 203.81,503.96 204.15,503.96 204.5,503.96 204.84,503.96 205.19,503.96 205.53,503.96 205.87,503.96 206.22,503.96 206.56,503.97 206.91,503.97 207.25,503.97 207.6,503.97 207.94,503.97 208.28,503.97 208.63,503.97 208.97,503.97 209.32,503.97 209.66,503.97 210,503.97 210.35,503.97 210.69,503.97 211.04,503.97 211.38,503.97 211.72,503.97 212.07,503.97 212.41,503.97 212.76,503.97 213.1,503.97 213.44,503.97 213.79,503.97 214.13,503.97 214.48,503.97 214.82,503.97 215.16,503.97 215.51,503.97 215.85,503.97 216.2,503.97 216.54,503.97 216.89,503.97 217.23,503.97 217.57,503.97 217.92,503.97 218.26,503.97 218.61,503.97 218.95,503.97 219.29,503.97 219.64,503.97 219.98,503.97 220.33,503.97 220.67,503.97 221.01,503.97 221.36,503.97 221.7,503.97 222.05,503.97 222.39,503.97 222.73,503.97 223.08,503.97 223.42,503.97 223.77,503.97 224.11,503.97 224.45,503.97 224.8,503.97 225.14,503.97 225.49,503.97 225.83,503.97 226.18,503.97 226.52,503.97 226.86,503.97 227.21,503.97 227.55,503.97 227.9,503.97 228.24,503.97 228.58,503.97 228.93,503.97 229.27,503.97 229.62,503.97 229.96,503.97 230.3,503.97 230.65,503.97 230.99,503.97 231.34,503.97 231.68,503.97 232.02,503.97 232.37,503.97 232.71,503.97 233.06,503.97 233.4,503.97 233.74,503.97 234.09,503.97 234.43,503.97 234.78,503.97 235.12,503.97 235.47,503.97 235.81,503.97 236.15,503.97 236.5,503.97 236.84,503.97 237.19,503.97 237.53,503.97 237.87,503.97 238.22,503.97 238.56,503.97 238.91,503.97 239.25,503.97" fill="none" stroke="#ff0000" stroke-width="1.6" stroke-linejoin="round" />
<polyline points="44,503.09 44.46,502.89 44.92,502.65 45.38,502.38 45.84,502.07 46.31,501.78 46.77,501.51 47.23,501.27 47.69,501.06 48.15,500.87 48.61,500.71 49.07,500.58 49.53,500.48 49.99,500.41 50.46,500.37 50.92,500.36 51.38,500.37 51.84,500.41 52.3,500.47 52.76,500.54 53.22,500.63 53.68,500.73 54.15,500.83 54.61,500.94 55.07,501.06 55.53,501.19 55.99,501.32 56.45,501.47 56.91,501.62 57.37,501.79 57.83,501.96 58.3,502.12 58.76,502.28 59.22,502.42 59.68,502.54 60.14,502.64 60.6,502.72 61.06,502.78 61.52,502.82 61.98,502.85 62.45,502.88 62.91,502.9 63.37,502.92 63.83,502.93 64.29,502.95 64.75,502.97 65.21,502.98 65.67,503 66.14,503.01 66.6,503.03 67.06,503.04 67.52,503.05 67.98,503.06 68.44,503.07 68.9,503.07 69.36,503.08 69.82,503.09 70.29,503.09 70.75,503.09 71.21,503.1 71.67,503.1 72.13,503.1 72.59,503.09 73.05,503.09 73.51,503.08 73.97,503.06 74.44,503.04 74.9,503.02 75.36,503 75.82,502.97 76.28,502.93 76.74,502.89 77.2,502.85 77.66,502.8 78.13,502.75 78.59,502.69 79.05,502.63 79.51,502.57 79.97,502.5 80.43,502.41 80.89,502.28 81.35,502.11 81.81,501.89 82.28,501.6 82.74,501.26 83.2,500.87 83.66,500.44 84.12,499.98 84.58,499.51 85.04,499.01 85.5,498.51 85.96,497.99 86.43,497.47 86.89,496.93 87.35,496.39 87.81,495.85 88.27,495.34 88.73,494.85 89.19,494.39 89.65,493.95 90.12,493.54 90.58,493.15 91.04,492.76 91.5,492.37 91.96,491.96 92.42,491.51 92.88,491 93.34,490.41 93.8,489.71 94.27,488.9 94.73,488 95.19,487.01 95.65,485.97 96.11,484.92 96.57,483.9 97.03,482.95 97.49,482.07 97.95,481.28 98.42,480.57 98.88,479.91 99.34,479.26 99.8,478.61 100.26,477.9 100.72,477.1 101.18,476.18 101.64,475.14 102.11,473.99 102.57,472.74 103.03,471.45 103.49,470.15 103.95,468.89 104.41,467.7 104.87,466.58 105.33,465.55 105.79,464.59 106.26,463.69 106.72,462.85 107.18,462.06 107.64,461.33 108.1,460.66 108.56,460.05 109.02,459.49 109.48,458.97 109.94,458.49 110.41,458.03 110.87,457.58 111.33,457.13 111.79,456.69 112.25,456.25 112.71,455.8 113.17,455.36 113.63,454.91 114.1,454.46 114.56,454.01 115.02,453.56 115.48,453.11 115.94,452.65 116.4,452.18 116.86,451.7 117.32,451.22 117.78,450.74 118.25,450.24 118.71,449.75 119.17,449.25 119.63,448.75 120.09,448.25 120.55,447.75 121.01,447.25 121.47,446.75 121.93,446.26 122.4,445.77 122.86,445.28 123.32,444.8 123.78,444.33 124.24,443.86 124.7,443.4 125.16,442.95 125.62,442.51 126.09,442.06 126.55,441.62 127.01,441.18 127.47,440.74 127.93,440.3 128.39,439.85 128.85,439.39 129.31,438.93 129.77,438.45 130.24,437.96 130.7,437.46 131.16,436.95 131.62,436.41 132.08,435.85 132.54,435.27 133,434.67 133.46,434.05 133.92,433.4 134.39,432.74 134.85,432.06 135.31,431.37 135.77,430.67 136.23,429.97 136.69,429.26 137.15,428.55 137.61,427.85 138.08,427.15 138.54,426.44 139,425.74 139.46,425.02 139.92,424.31 140.38,423.58 140.84,422.84 141.3,422.1 141.76,421.35 142.23,420.6 142.69,419.86 143.15,419.12 143.61,418.4 144.07,417.69 144.53,416.99 144.99,416.32 145.45,415.67 145.91,415.05 146.38,414.47 146.84,413.9 147.3,413.36 147.76,412.83 148.22,412.32 148.68,411.81 149.14,411.31 149.6,410.8 150.07,410.31 150.53,409.82 150.99,409.35 151.45,408.91 151.91,408.49 152.37,408.1 152.83,407.75 153.29,407.45 153.75,407.19 154.22,406.99 154.68,406.84 155.14,406.77 155.6,406.77 156.06,406.85 156.52,407.01 156.98,407.25 157.44,407.57 157.9,407.95 158.37,408.4 158.83,408.89 159.29,409.44 159.75,410.01 160.21,410.62 160.67,411.24 161.13,411.89 161.59,412.56 162.06,413.27 162.52,414.02 162.98,414.83 163.44,415.69 163.9,416.61 164.36,417.61 164.82,418.65 165.28,419.75 165.74,420.88 166.21,422.04 166.67,423.23 167.13,424.44 167.59,425.68 168.05,426.95 168.51,428.25 168.97,429.58 169.43,430.95 169.89,432.37 170.36,433.83 170.82,435.31 171.28,436.83 171.74,438.37 172.2,439.94 172.66,441.52 173.12,443.13 173.58,444.77 174.05,446.44 174.51,448.15 174.97,449.88 175.43,451.63 175.89,453.39 176.35,455.12 176.81,456.83 177.27,458.49 177.73,460.12 178.2,461.71 178.66,463.26 179.12,464.78 179.58,466.29 180.04,467.77 180.5,469.24 180.96,470.68 181.42,472.09 181.88,473.47 182.35,474.83 182.81,476.14 183.27,477.42 183.73,478.66 184.19,479.86 184.65,481.03 185.11,482.16 185.57,483.27 186.04,484.35 186.5,485.41 186.96,486.45 187.42,487.47 187.88,488.47 188.34,489.44 188.8,490.39 189.26,491.3 189.72,492.18 190.19,493.02 190.65,493.83 191.11,494.59 191.57,495.32 192.03,496 192.49,496.65 192.95,497.26 193.41,497.84 193.87,498.39 194.34,498.91 194.8,499.42 195.26,499.9 195.72,500.37 196.18,500.82 196.64,501.26 197.1,501.69 197.56,502.11 198.03,502.53 198.49,502.94 198.95,503.35 199.41,503.76 199.87,504.17 200.33,504.58 200.79,505 201.25,505.41 201.71,505.83 202.18,506.24 202.64,506.65 203.1,507.05 203.56,507.45 204.02,507.82 204.48,508.19 204.94,508.53 205.4,508.86 205.86,509.16 206.33,509.44 206.79,509.7 207.25,509.94 207.71,510.15 208.17,510.36 208.63,510.55 209.09,510.73 209.55,510.9 210.02,511.06 210.48,511.22 210.94,511.37 211.4,511.51 211.86,511.64 212.32,511.77 212.78,511.88 213.24,511.99 213.7,512.09 214.17,512.19 214.63,512.28 215.09,512.36 215.55,512.44 216.01,512.52 216.47,512.6 216.93,512.68 217.39,512.75 217.85,512.83 218.32,512.9 218.78,512.97 219.24,513.04 219.7,513.11 220.16,513.17 220.62,513.24 221.08,513.3 221.54,513.36 222.01,513.41 222.47,513.46 222.93,513.51 223.39,513.56 223.85,513.6 224.31,513.64 224.77,513.67 225.23,513.7 225.69,513.73 226.16,513.75 226.62,513.77 227.08,513.78 227.54,513.79 228,513.79" fill="none" stroke="#ff0000" stroke-width="1.6" stroke-linejoin="round" />
<polyline points="33.15,505.4 33.49,505.4 33.84,505.4 34.18,505.4 34.53,505.39 34.87,505.39 35.21,505.39 35.56,505.39 35.9,505.39 36.25,505.38 36.59,505.38 36.93,505.38 37.28,505.37 37.62,505.37 37.97,505.37 38.31,505.36 38.66,505.36 39,505.36 39.34,505.35 39.69,505.35 40.03,505.34 40.38,505.34 40.72,505.33 41.06,505.33 41.41,505.32 41.75,505.32 42.1,505.31 42.44,505.3 42.78,505.3 43.13,505.29 43.47,505.28 43.82,505.27 44.16,505.27 44.5,505.26 44.85,505.25 45.19,505.24 45.54,505.23 45.88,505.22 46.22,505.2 46.57,505.19 46.91,505.18 47.26,505.17 47.6,505.15 47.95,505.14 48.29,505.12 48.63,505.1 48.98,505.09 49.32,505.07 49.67,505.05 50.01,505.03 50.35,505.01 50.7,504.99 51.04,504.97 51.39,504.94 51.73,504.92 52.07,504.89 52.42,504.87 52.76,504.84 53.11,504.81 53.45,504.78 53.79,504.75 54.14,504.71 54.48,504.68 54.83,504.64 55.17,504.6 55.51,504.56 55.86,504.52 56.2,504.48 56.55,504.44 56.89,504.39 57.24,504.34 57.58,504.29 57.92,504.24 58.27,504.18 58.61,504.13 58.96,504.07 59.3,504.01 59.64,503.94 59.99,503.88 60.33,503.81 60.68,503.74 61.02,503.66 61.36,503.59 61.71,503.51 62.05,503.43 62.4,503.34 62.74,503.25 63.08,503.16 63.43,503.07 63.77,502.97 64.12,502.87 64.46,502.76 64.8,502.65 65.15,502.54 65.49,502.43 65.84,502.31 66.18,502.18 66.53,502.06 66.87,501.93 67.21,501.79 67.56,501.65 67.9,501.51 68.25,501.36 68.59,501.2 68.93,501.05 69.28,500.88 69.62,500.72 69.97,500.54 70.31,500.37 70.65,500.19 71,500 71.34,499.81 71.69,499.61 72.03,499.41 72.37,499.2 72.72,498.98 73.06,498.76 73.41,498.54 73.75,498.31 74.09,498.07 74.44,497.83 74.78,497.58 75.13,497.33 75.47,497.07 75.82,496.8 76.16,496.53 76.5,496.25 76.85,495.96 77.19,495.67 77.54,495.37 77.88,495.07 78.22,494.76 78.57,494.44 78.91,494.11 79.26,493.78 79.6,493.45 79.94,493.1 80.29,492.75 80.63,492.4 80.98,492.03 81.32,491.66 81.66,491.29 82.01,490.9 82.35,490.51 82.7,490.12 83.04,489.71 83.38,489.31 83.73,488.89 84.07,488.47 84.42,488.04 84.76,487.6 85.11,487.16 85.45,486.72 85.79,486.26 86.14,485.8 86.48,485.34 86.83,484.87 87.17,484.39 87.51,483.91 87.86,483.42 88.2,482.93 88.55,482.43 88.89,481.92 89.23,481.41 89.58,480.9 89.92,480.38 90.27,479.86 90.61,479.33 90.95,478.79 91.3,478.26 91.64,477.71 91.99,477.17 92.33,476.62 92.67,476.07 93.02,475.51 93.36,474.95 93.71,474.39 94.05,473.82 94.4,473.25 94.74,472.68 95.08,472.1 95.43,471.53 95.77,470.95 96.12,470.37 96.46,469.78 96.8,469.2 97.15,468.62 97.49,468.03 97.84,467.44 98.18,466.85 98.52,466.26 98.87,465.68 99.21,465.09 99.56,464.5 99.9,463.91 100.24,463.32 100.59,462.73 100.93,462.14 101.28,461.56 101.62,460.97 101.96,460.39 102.31,459.8 102.65,459.22 103,458.64 103.34,458.06 103.69,457.49 104.03,456.91 104.37,456.34 104.72,455.77 105.06,455.2 105.41,454.64 105.75,454.08 106.09,453.52 106.44,452.96 106.78,452.41 107.13,451.86 107.47,451.31 107.81,450.77 108.16,450.23 108.5,449.69 108.85,449.16 109.19,448.63 109.53,448.1 109.88,447.58 110.22,447.06 110.57,446.54 110.91,446.03 111.25,445.52 111.6,445.01 111.94,444.51 112.29,444.01 112.63,443.52 112.98,443.02 113.32,442.53 113.66,442.05 114.01,441.56 114.35,441.08 114.7,440.61 115.04,440.13 115.38,439.66 115.73,439.19 116.07,438.72 116.42,438.26 116.76,437.79 117.1,437.33 117.45,436.88 117.79,436.42 118.14,435.96 118.48,435.51 118.82,435.06 119.17,434.61 119.51,434.16 119.86,433.71 120.2,433.26 120.54,432.82 120.89,432.37 121.23,431.92 121.58,431.48 121.92,431.03 122.27,430.59 122.61,430.14 122.95,429.7 123.3,429.25 123.64,428.8 123.99,428.35 124.33,427.91 124.67,427.46 125.02,427.01 125.36,426.56 125.71,426.1 126.05,425.65 126.39,425.19 126.74,424.74 127.08,424.28 127.43,423.82 127.77,423.36 128.11,422.9 128.46,422.44 128.8,421.97 129.15,421.5 129.49,421.04 129.83,420.57 130.18,420.1 130.52,419.62 130.87,419.15 131.21,418.68 131.56,418.2 131.9,417.73 132.24,417.25 132.59,416.77 132.93,416.29 133.28,415.82 133.62,415.34 133.96,414.86 134.31,414.38 134.65,413.9 135,413.43 135.34,412.95 135.68,412.48 136.03,412.01 136.37,411.54 136.72,411.07 137.06,410.6 137.4,410.14 137.75,409.68 138.09,409.23 138.44,408.78 138.78,408.33 139.12,407.89 139.47,407.45 139.81,407.02 140.16,406.59 140.5,406.18 140.84,405.76 141.19,405.36 141.53,404.96 141.88,404.57 142.22,404.19 142.57,403.82 142.91,403.46 143.25,403.11 143.6,402.77 143.94,402.44 144.29,402.12 144.63,401.81 144.97,401.52 145.32,401.24 145.66,400.97 146.01,400.71 146.35,400.47 146.69,400.25 147.04,400.04 147.38,399.84 147.73,399.66 148.07,399.5 148.41,399.35 148.76,399.22 149.1,399.11 149.45,399.01 149.79,398.93 150.13,398.88 150.48,398.84 150.82,398.82 151.17,398.81 151.51,398.83 151.86,398.87 152.2,398.93 152.54,399.01 152.89,399.11 153.23,399.23 153.58,399.37 153.92,399.53 154.26,399.72 154.61,399.92 154.95,400.15 155.3,400.4 155.64,400.67 155.98,400.96 156.33,401.28 156.67,401.61 157.02,401.97 157.36,402.35 157.7,402.75 158.05,403.17 158.39,403.62 158.74,404.08 159.08,404.57 159.42,405.08 159.77,405.6 160.11,406.15 160.46,406.72 160.8,407.31 161.15,407.92 161.49,408.55 161.83,409.2 162.18,409.87 162.52,410.55 162.87,411.26 163.21,411.98 163.55,412.72 163.9,413.48 164.24,414.25 164.59,415.04 164.93,415.84 165.27,416.67 165.62,417.5 165.96,418.35 166.31,419.22 166.65,420.1 166.99,420.99 167.34,421.89 167.68,422.81 168.03,423.73 168.37,424.67 168.71,425.62 169.06,426.57 169.4,427.54 169.75,428.52 170.09,429.5 170.44,430.49 170.78,431.49 171.12,432.49 171.47,433.5 171.81,434.52 172.16,435.53 172.5,436.56 172.84,437.58 173.19,438.61 173.53,439.65 173.88,440.68 174.22,441.71 174.56,442.75 174.91,443.78 175.25,444.82 175.6,445.85 175.94,446.88 176.28,447.91 176.63,448.94 176.97,449.97 177.32,450.99 177.66,452.01 178,453.02 178.35,454.03 178.69,455.03 179.04,456.03 179.38,457.02 179.73,458 180.07,458.98 180.41,459.95 180.76,460.91 181.1,461.86 181.45,462.81 181.79,463.74 182.13,464.67 182.48,465.59 182.82,466.49 183.17,467.39 183.51,468.28 183.85,469.16 184.2,470.02 184.54,470.88 184.89,471.72 185.23,472.56 185.57,473.38 185.92,474.19 186.26,474.99 186.61,475.77 186.95,476.55 187.29,477.31 187.64,478.06 187.98,478.8 188.33,479.52 188.67,480.23 189.02,480.93 189.36,481.62 189.7,482.29 190.05,482.95 190.39,483.6 190.74,484.24 191.08,484.86 191.42,485.47 191.77,486.07 192.11,486.66 192.46,487.23 192.8,487.79 193.14,488.34 193.49,488.87 193.83,489.4 194.18,489.91 194.52,490.41 194.86,490.9 195.21,491.37 195.55,491.84 195.9,492.29 196.24,492.73 196.58,493.16 196.93,493.58 197.27,493.98 197.62,494.38 197.96,494.77 198.31,495.14 198.65,495.51 198.99,495.86 199.34,496.21 199.68,496.54 200.03,496.87 200.37,497.18 200.71,497.49 201.06,497.79 201.4,498.08 201.75,498.35 202.09,498.63 202.43,498.89 202.78,499.14 203.12,499.39 203.47,499.62 203.81,499.85 204.15,500.08 204.5,500.29 204.84,500.5 205.19,500.7 205.53,500.89 205.87,501.08 206.22,501.26 206.56,501.44 206.91,501.6 207.25,501.77 207.6,501.92 207.94,502.07 208.28,502.22 208.63,502.36 208.97,502.49 209.32,502.62 209.66,502.75 210,502.87 210.35,502.98 210.69,503.09 211.04,503.2 211.38,503.3 211.72,503.4 212.07,503.49 212.41,503.58 212.76,503.67 213.1,503.75 213.44,503.83 213.79,503.9 214.13,503.98 214.48,504.05 214.82,504.11 215.16,504.18 215.51,504.24 215.85,504.3 216.2,504.35 216.54,504.41 216.89,504.46 217.23,504.51 217.57,504.55 217.92,504.6 218.26,504.64 218.61,504.68 218.95,504.72 219.29,504.75 219.64,504.79 219.98,504.82 220.33,504.85 220.67,504.88 221.01,504.91 221.36,504.94 221.7,504.97 222.05,504.99 222.39,505.02 222.73,505.04 223.08,505.06 223.42,505.08 223.77,505.1 224.11,505.12 224.45,505.13 224.8,505.15 225.14,505.17 225.49,505.18 225.83,505.19 226.18,505.21 226.52,505.22 226.86,505.23 227.21,505.24 227.55,505.25 227.9,505.26 228.24,505.27 228.58,505.28 228.93,505.29 229.27,505.3 229.62,505.31 229.96,505.31 230.3,505.32 230.65,505.33 230.99,505.33 231.34,505.34 231.68,505.34 232.02,505.35 232.37,505.35 232.71,505.36 233.06,505.36 233.4,505.37 233.74,505.37 234.09,505.37 234.43,505.38 234.78,505.38 235.12,505.38 235.47,505.38 235.81,505.39 236.15,505.39 236.5,505.39 236.84,505.39 237.19,505.4 237.53,505.4 237.87,505.4 238.22,505.4 238.56,505.4 238.91,505.4 239.25,505.41" fill="none" stroke="#0000ff" stroke-width="1.7" stroke-linejoin="round" />
</g>
<text transform="translate(114.42,496.2) rotate(-90)" font-family="'Liberation Sans', Arial, sans-serif" font-size="4.5" fill="#333" font-weight="bold" textLength="40.7" lengthAdjust="spacingAndGlyphs">202.86 eV (2p<tspan font-size="3.4" dy="0.9">1/2</tspan><tspan dy="-0.9">)</tspan></text>
<text transform="translate(157.12,455.3) rotate(-90)" font-family="'Liberation Sans', Arial, sans-serif" font-size="4.5" fill="#333" font-weight="bold" textLength="41.5" lengthAdjust="spacingAndGlyphs">201.16 eV (2p<tspan font-size="3.4" dy="0.9">3/2</tspan><tspan dy="-0.9">)</tspan></text>
<line x1="66.1" y1="391.8" x2="78.9" y2="391.8" stroke="#222" stroke-width="1.1"/>
<text x="80.1" y="393.89" font-family="'Liberation Sans', Arial, sans-serif" font-weight="bold" font-size="5.8" fill="#222" stroke="#222" stroke-width="0.14">Cl (p)</text>
<g stroke="#777" stroke-width="0.75" stroke-linecap="round"><line x1="82.7" y1="411.18" x2="80.25" y2="415.42"/><line x1="80.25" y1="415.42" x2="75.35" y2="415.42"/><line x1="75.35" y1="415.42" x2="72.9" y2="411.18"/><line x1="72.9" y1="411.18" x2="75.35" y2="406.94"/><line x1="75.35" y1="406.94" x2="80.25" y2="406.94"/><line x1="80.25" y1="406.94" x2="82.7" y2="411.18"/><line x1="79.29" y1="414.57" x2="76.31" y2="414.57"/><line x1="74.12" y1="410.77" x2="75.6" y2="408.19"/><line x1="80" y1="408.19" x2="81.48" y2="410.77"/><line x1="75.35" y1="415.42" x2="73.59" y2="418.72"/><line x1="80.25" y1="415.42" x2="82.01" y2="418.72"/><line x1="80.25" y1="406.94" x2="82.01" y2="404.84"/><line x1="71.34" y1="420" x2="67.71" y2="420"/><line x1="71.19" y1="419.02" x2="68.25" y2="419.02"/><line x1="65.16" y1="424.04" x2="67.71" y2="420"/><line x1="67.61" y1="428.28" x2="65.16" y2="432.52"/><line x1="65.16" y1="432.52" x2="60.26" y2="432.52"/><line x1="60.26" y1="432.52" x2="57.81" y2="428.28"/><line x1="57.81" y1="428.28" x2="60.26" y2="424.04"/><line x1="60.26" y1="424.04" x2="65.16" y2="424.04"/><line x1="65.16" y1="424.04" x2="67.61" y2="428.28"/><line x1="64.2" y1="431.68" x2="61.22" y2="431.68"/><line x1="60.26" y1="424.02" x2="57.81" y2="428.26"/><line x1="57.81" y1="428.26" x2="52.91" y2="428.26"/><line x1="52.91" y1="428.26" x2="50.46" y2="424.02"/><line x1="50.46" y1="424.02" x2="52.91" y2="419.77"/><line x1="52.91" y1="419.77" x2="57.81" y2="419.77"/><line x1="57.81" y1="419.77" x2="60.26" y2="424.02"/><line x1="56.85" y1="427.41" x2="53.87" y2="427.41"/><line x1="51.67" y1="423.61" x2="53.16" y2="421.03"/><line x1="57.55" y1="421.03" x2="59.04" y2="423.61"/><line x1="67.61" y1="428.28" x2="71.42" y2="428.6"/><line x1="74.37" y1="421.56" x2="76.33" y2="423.64" stroke-dasharray="0.78,0.78"/><line x1="74.61" y1="427.49" x2="76.43" y2="426.18" stroke-dasharray="0.78,0.78"/><line x1="84.26" y1="420" x2="87.89" y2="420"/><line x1="84.41" y1="419.02" x2="87.35" y2="419.02"/><line x1="90.44" y1="424.04" x2="87.89" y2="420"/><line x1="97.79" y1="428.28" x2="95.34" y2="432.52"/><line x1="95.34" y1="432.52" x2="90.44" y2="432.52"/><line x1="90.44" y1="432.52" x2="87.99" y2="428.28"/><line x1="87.99" y1="428.28" x2="90.44" y2="424.04"/><line x1="90.44" y1="424.04" x2="95.34" y2="424.04"/><line x1="95.34" y1="424.04" x2="97.79" y2="428.28"/><line x1="94.38" y1="431.68" x2="91.4" y2="431.68"/><line x1="105.14" y1="424.02" x2="102.69" y2="428.26"/><line x1="102.69" y1="428.26" x2="97.79" y2="428.26"/><line x1="97.79" y1="428.26" x2="95.34" y2="424.02"/><line x1="95.34" y1="424.02" x2="97.79" y2="419.77"/><line x1="97.79" y1="419.77" x2="102.69" y2="419.77"/><line x1="102.69" y1="419.77" x2="105.14" y2="424.02"/><line x1="101.73" y1="427.41" x2="98.75" y2="427.41"/><line x1="96.56" y1="423.61" x2="98.05" y2="421.03"/><line x1="102.44" y1="421.03" x2="103.93" y2="423.61"/><line x1="87.99" y1="428.28" x2="84.18" y2="428.6"/><line x1="81.23" y1="421.56" x2="79.27" y2="423.64" stroke-dasharray="0.78,0.78"/><line x1="80.98" y1="427.49" x2="79.17" y2="426.18" stroke-dasharray="0.78,0.78"/></g>
<g font-family="'Liberation Sans', Arial, sans-serif" font-weight="bold" font-size="3.92"><text x="72.9" y="421.41" text-anchor="middle" fill="#222">N</text><text x="82.7" y="421.41" text-anchor="middle" fill="#222">N</text><text x="72.9" y="430.13" text-anchor="middle" fill="#444">O</text><text x="82.7" y="430.13" text-anchor="middle" fill="#444">O</text><text x="77.8" y="426.61" text-anchor="middle" fill="#444">Cu</text><text x="83.63" y="404.26" text-anchor="middle" fill="#444">Cl</text></g>
<ellipse cx="81.8" cy="404.7" rx="6.3" ry="5.5" fill="none" stroke="#f0405a" stroke-width="0.85" stroke-dasharray="1.1,1.3"/>
<text x="276.6" y="380.7" font-family="'Liberation Serif', 'Times New Roman', serif" font-weight="bold" font-size="12.5" fill="#111" stroke="#111" stroke-width="0.25">f)</text>
<g stroke="#111" stroke-width="1.1"><line x1="273.1" y1="518.6" x2="273.1" y2="521.2"/><line x1="309.14" y1="518.6" x2="309.14" y2="521.2"/><line x1="345.18" y1="518.6" x2="345.18" y2="521.2"/><line x1="381.22" y1="518.6" x2="381.22" y2="521.2"/><line x1="417.26" y1="518.6" x2="417.26" y2="521.2"/><line x1="453.3" y1="518.6" x2="453.3" y2="521.2"/><line x1="291.12" y1="518.6" x2="291.12" y2="520.3"/><line x1="327.16" y1="518.6" x2="327.16" y2="520.3"/><line x1="363.2" y1="518.6" x2="363.2" y2="520.3"/><line x1="399.24" y1="518.6" x2="399.24" y2="520.3"/><line x1="435.28" y1="518.6" x2="435.28" y2="520.3"/><line x1="270.3" y1="506.7" x2="273.1" y2="506.7"/><line x1="270.3" y1="482.22" x2="273.1" y2="482.22"/><line x1="270.3" y1="457.74" x2="273.1" y2="457.74"/><line x1="270.3" y1="433.26" x2="273.1" y2="433.26"/><line x1="270.3" y1="408.78" x2="273.1" y2="408.78"/><line x1="270.3" y1="384.3" x2="273.1" y2="384.3"/><line x1="271.4" y1="494.46" x2="273.1" y2="494.46"/><line x1="271.4" y1="469.98" x2="273.1" y2="469.98"/><line x1="271.4" y1="445.5" x2="273.1" y2="445.5"/><line x1="271.4" y1="421.02" x2="273.1" y2="421.02"/><line x1="271.4" y1="396.54" x2="273.1" y2="396.54"/></g>
<rect x="273.1" y="384.3" width="180.2" height="134.3" fill="none" stroke="#111" stroke-width="1.35"/>
<g font-family="'Liberation Sans', Arial, sans-serif" font-weight="bold" font-size="8.5" fill="#161616" stroke="#161616" stroke-width="0.22"><text x="273.1" y="529.5" text-anchor="middle">280</text><text x="309.14" y="529.5" text-anchor="middle">282</text><text x="345.18" y="529.5" text-anchor="middle">284</text><text x="381.22" y="529.5" text-anchor="middle">286</text><text x="417.26" y="529.5" text-anchor="middle">288</text><text x="453.3" y="529.5" text-anchor="middle">290</text><text x="268.1" y="509.76" text-anchor="end">2000</text><text x="268.1" y="485.28" text-anchor="end">4000</text><text x="268.1" y="460.8" text-anchor="end">6000</text><text x="268.1" y="436.32" text-anchor="end">8000</text><text x="268.1" y="411.84" text-anchor="end">10000</text><text x="268.1" y="387.36" text-anchor="end">12000</text></g>
<text x="308.7" y="544.6" font-family="'Liberation Sans', Arial, sans-serif" font-weight="bold" font-size="11.0" fill="#111" textLength="108.3" lengthAdjust="spacingAndGlyphs">Binding Energy (eV)</text>
<text transform="translate(243.3,494.1) rotate(-90)" font-family="'Liberation Sans', Arial, sans-serif" font-weight="bold" font-size="11.0" fill="#111" textLength="77.3" lengthAdjust="spacingAndGlyphs">Intensity (cps)</text>
<clipPath id="clipf"><rect x="273.1" y="384.3" width="180.2" height="134.3"/></clipPath>
<g clip-path="url(#clipf)">
<polyline points="273,509.1 275.7,510.2 278.4,511.3 281.6,508.2 284.9,509.1 288.1,510.7 290.8,509.3 292.9,510.7 295.6,511.5 298.9,508.6 301.6,509.1 304.8,508.6 307.5,510.7 310.7,510.2 314,509.1 316.6,508 319.3,509.1 321.5,507.5 322.9,506.9 327.3,506.1 330.9,504 333.8,504 336,502.5 339.6,495.2 341.8,490.1 344.7,486.5 346.9,482.9 347.6,477.8 349.8,471.2 352.7,461.8 355.6,452.4 358.5,442.9 360,438 361.3,430.5 363.2,426.7 364.4,420.4 367,414 368.9,410.8 370.2,410.2 372.6,406.5 375.2,409 377.7,412.8 379.6,411.5 381.5,417.9 384.1,428.1 386.6,437 389.2,445.9 392.4,449.7 395.5,456.1 398.9,462.8 402.8,470.5 406.6,477 409.2,480.2 411.2,484.1 413.1,482.8 415.7,485.4 418.9,486.7 422.2,489.3 425.4,491.9 428.6,492.5 431.9,493.2 435.1,494.5 437.7,493.8 440.3,493.2 442.9,494.5 445.5,493.8 448,495.1 450.6,494.5 452.6,495.1 454,494.8" fill="none" stroke="#333" stroke-width="0.85" stroke-linejoin="round" />
<polyline points="264.09,500.49 264.42,500.49 264.75,500.49 265.08,500.49 265.41,500.49 265.74,500.49 266.08,500.49 266.41,500.49 266.74,500.49 267.07,500.49 267.4,500.49 267.73,500.49 268.06,500.49 268.39,500.49 268.72,500.49 269.05,500.49 269.38,500.49 269.72,500.49 270.05,500.49 270.38,500.49 270.71,500.49 271.04,500.49 271.37,500.49 271.7,500.49 272.03,500.49 272.36,500.49 272.69,500.49 273.02,500.49 273.36,500.49 273.69,500.49 274.02,500.49 274.35,500.49 274.68,500.49 275.01,500.49 275.34,500.49 275.67,500.49 276,500.49 276.33,500.49 276.66,500.49 277,500.49 277.33,500.49 277.66,500.49 277.99,500.49 278.32,500.49 278.65,500.49 278.98,500.49 279.31,500.49 279.64,500.49 279.97,500.49 280.3,500.49 280.64,500.49 280.97,500.49 281.3,500.49 281.63,500.49 281.96,500.49 282.29,500.49 282.62,500.49 282.95,500.49 283.28,500.49 283.61,500.49 283.95,500.49 284.28,500.49 284.61,500.49 284.94,500.49 285.27,500.49 285.6,500.49 285.93,500.49 286.26,500.49 286.59,500.49 286.92,500.49 287.25,500.49 287.59,500.49 287.92,500.49 288.25,500.49 288.58,500.49 288.91,500.49 289.24,500.49 289.57,500.49 289.9,500.49 290.23,500.49 290.56,500.49 290.89,500.49 291.23,500.49 291.56,500.49 291.89,500.49 292.22,500.49 292.55,500.49 292.88,500.49 293.21,500.49 293.54,500.49 293.87,500.49 294.2,500.49 294.53,500.49 294.87,500.49 295.2,500.49 295.53,500.49 295.86,500.49 296.19,500.49 296.52,500.49 296.85,500.49 297.18,500.49 297.51,500.49 297.84,500.49 298.17,500.49 298.51,500.49 298.84,500.48 299.17,500.48 299.5,500.48 299.83,500.48 300.16,500.48 300.49,500.48 300.82,500.48 301.15,500.48 301.48,500.48 301.81,500.47 302.15,500.47 302.48,500.47 302.81,500.47 303.14,500.47 303.47,500.47 303.8,500.46 304.13,500.46 304.46,500.46 304.79,500.46 305.12,500.45 305.45,500.45 305.79,500.45 306.12,500.44 306.45,500.44 306.78,500.43 307.11,500.43 307.44,500.43 307.77,500.42 308.1,500.42 308.43,500.41 308.76,500.4 309.09,500.4 309.43,500.39 309.76,500.38 310.09,500.38 310.42,500.37 310.75,500.36 311.08,500.35 311.41,500.34 311.74,500.33 312.07,500.32 312.4,500.31 312.73,500.29 313.07,500.28 313.4,500.27 313.73,500.25 314.06,500.23 314.39,500.22 314.72,500.2 315.05,500.18 315.38,500.16 315.71,500.14 316.04,500.12 316.38,500.09 316.71,500.07 317.04,500.04 317.37,500.01 317.7,499.98 318.03,499.95 318.36,499.92 318.69,499.89 319.02,499.85 319.35,499.81 319.68,499.77 320.02,499.73 320.35,499.68 320.68,499.64 321.01,499.59 321.34,499.54 321.67,499.48 322,499.42 322.33,499.36 322.66,499.3 322.99,499.24 323.32,499.17 323.66,499.09 323.99,499.02 324.32,498.94 324.65,498.85 324.98,498.77 325.31,498.67 325.64,498.58 325.97,498.48 326.3,498.37 326.63,498.27 326.96,498.15 327.3,498.03 327.63,497.91 327.96,497.78 328.29,497.64 328.62,497.5 328.95,497.35 329.28,497.2 329.61,497.04 329.94,496.88 330.27,496.7 330.6,496.53 330.94,496.34 331.27,496.15 331.6,495.94 331.93,495.74 332.26,495.52 332.59,495.29 332.92,495.06 333.25,494.82 333.58,494.57 333.91,494.31 334.24,494.04 334.58,493.76 334.91,493.48 335.24,493.18 335.57,492.87 335.9,492.56 336.23,492.23 336.56,491.89 336.89,491.54 337.22,491.18 337.55,490.81 337.88,490.43 338.22,490.03 338.55,489.63 338.88,489.21 339.21,488.78 339.54,488.34 339.87,487.88 340.2,487.41 340.53,486.93 340.86,486.44 341.19,485.93 341.52,485.42 341.86,484.88 342.19,484.34 342.52,483.78 342.85,483.21 343.18,482.62 343.51,482.02 343.84,481.41 344.17,480.78 344.5,480.14 344.83,479.48 345.16,478.82 345.5,478.13 345.83,477.44 346.16,476.73 346.49,476.01 346.82,475.27 347.15,474.52 347.48,473.76 347.81,472.98 348.14,472.2 348.47,471.39 348.81,470.58 349.14,469.75 349.47,468.92 349.8,468.07 350.13,467.2 350.46,466.33 350.79,465.45 351.12,464.55 351.45,463.65 351.78,462.73 352.11,461.81 352.45,460.87 352.78,459.93 353.11,458.98 353.44,458.02 353.77,457.05 354.1,456.08 354.43,455.1 354.76,454.11 355.09,453.12 355.42,452.12 355.75,451.12 356.09,450.12 356.42,449.11 356.75,448.1 357.08,447.09 357.41,446.08 357.74,445.07 358.07,444.05 358.4,443.04 358.73,442.03 359.06,441.03 359.39,440.02 359.73,439.02 360.06,438.03 360.39,437.03 360.72,436.05 361.05,435.07 361.38,434.1 361.71,433.14 362.04,432.19 362.37,431.25 362.7,430.32 363.03,429.4 363.37,428.49 363.7,427.59 364.03,426.71 364.36,425.85 364.69,425 365.02,424.16 365.35,423.34 365.68,422.54 366.01,421.76 366.34,421 366.67,420.26 367.01,419.53 367.34,418.83 367.67,418.15 368,417.5 368.33,416.86 368.66,416.25 368.99,415.67 369.32,415.11 369.65,414.57 369.98,414.06 370.31,413.58 370.65,413.12 370.98,412.69 371.31,412.29 371.64,411.92 371.97,411.58 372.3,411.26 372.63,410.97 372.96,410.72 373.29,410.49 373.62,410.29 373.95,410.12 374.29,409.99 374.62,409.88 374.95,409.81 375.28,409.76 375.61,409.75 375.94,409.76 376.27,409.81 376.6,409.89 376.93,410 377.26,410.14 377.59,410.3 377.93,410.5 378.26,410.73 378.59,410.99 378.92,411.28 379.25,411.6 379.58,411.95 379.91,412.32 380.24,412.72 380.57,413.15 380.9,413.61 381.24,414.1 381.57,414.61 381.9,415.15 382.23,415.71 382.56,416.3 382.89,416.91 383.22,417.54 383.55,418.2 383.88,418.88 384.21,419.59 384.54,420.31 384.88,421.05 385.21,421.82 385.54,422.6 385.87,423.4 386.2,424.22 386.53,425.06 386.86,425.91 387.19,426.77 387.52,427.66 387.85,428.55 388.18,429.46 388.52,430.38 388.85,431.31 389.18,432.26 389.51,433.21 389.84,434.17 390.17,435.14 390.5,436.12 390.83,437.1 391.16,438.1 391.49,439.09 391.82,440.09 392.16,441.1 392.49,442.1 392.82,443.11 393.15,444.13 393.48,445.14 393.81,446.15 394.14,447.16 394.47,448.18 394.8,449.18 395.13,450.19 395.46,451.2 395.8,452.2 396.13,453.19 396.46,454.18 396.79,455.17 397.12,456.15 397.45,457.12 397.78,458.09 398.11,459.05 398.44,460 398.77,460.94 399.1,461.87 399.44,462.8 399.77,463.71 400.1,464.62 400.43,465.51 400.76,466.39 401.09,467.27 401.42,468.13 401.75,468.98 402.08,469.81 402.41,470.64 402.74,471.45 403.08,472.25 403.41,473.04 403.74,473.81 404.07,474.58 404.4,475.32 404.73,476.06 405.06,476.78 405.39,477.49 405.72,478.18 406.05,478.86 406.38,479.53 406.72,480.19 407.05,480.82 407.38,481.45 407.71,482.06 408.04,482.66 408.37,483.25 408.7,483.82 409.03,484.38 409.36,484.92 409.69,485.45 410.02,485.97 410.36,486.48 410.69,486.97 411.02,487.45 411.35,487.91 411.68,488.37 412.01,488.81 412.34,489.24 412.67,489.66 413,490.06 413.33,490.45 413.67,490.84 414,491.21 414.33,491.57 414.66,491.91 414.99,492.25 415.32,492.58 415.65,492.9 415.98,493.2 416.31,493.5 416.64,493.78 416.97,494.06 417.31,494.33 417.64,494.59 417.97,494.84 418.3,495.08 418.63,495.31 418.96,495.54 419.29,495.75 419.62,495.96 419.95,496.16 420.28,496.35 420.61,496.54 420.95,496.72 421.28,496.89 421.61,497.05 421.94,497.21 422.27,497.37 422.6,497.51 422.93,497.65 423.26,497.79 423.59,497.92 423.92,498.04 424.25,498.16 424.59,498.27 424.92,498.38 425.25,498.49 425.58,498.59 425.91,498.68 426.24,498.77 426.57,498.86 426.9,498.94 427.23,499.02 427.56,499.1 427.89,499.17 428.23,499.24 428.56,499.31 428.89,499.37 429.22,499.43 429.55,499.49 429.88,499.54 430.21,499.59 430.54,499.64 430.87,499.69 431.2,499.73 431.53,499.77 431.87,499.81 432.2,499.85 432.53,499.89 432.86,499.92 433.19,499.96 433.52,499.99 433.85,500.02 434.18,500.04 434.51,500.07 434.84,500.1 435.17,500.12 435.51,500.14 435.84,500.16 436.17,500.18 436.5,500.2 436.83,500.22 437.16,500.24 437.49,500.25 437.82,500.27 438.15,500.28 438.48,500.29 438.81,500.31 439.15,500.32 439.48,500.33 439.81,500.34 440.14,500.35 440.47,500.36 440.8,500.37 441.13,500.38 441.46,500.38 441.79,500.39 442.12,500.4 442.45,500.4 442.79,500.41 443.12,500.42 443.45,500.42 443.78,500.43 444.11,500.43 444.44,500.43 444.77,500.44 445.1,500.44 445.43,500.45 445.76,500.45 446.1,500.45 446.43,500.46 446.76,500.46 447.09,500.46 447.42,500.46 447.75,500.47 448.08,500.47 448.41,500.47 448.74,500.47 449.07,500.47 449.4,500.47 449.74,500.48 450.07,500.48 450.4,500.48 450.73,500.48 451.06,500.48 451.39,500.48 451.72,500.48 452.05,500.48 452.38,500.48 452.71,500.49 453.04,500.49 453.38,500.49 453.71,500.49 454.04,500.49 454.37,500.49 454.7,500.49 455.03,500.49 455.36,500.49 455.69,500.49 456.02,500.49 456.35,500.49 456.68,500.49 457.02,500.49 457.35,500.49 457.68,500.49 458.01,500.49 458.34,500.49 458.67,500.49 459,500.49 459.33,500.49 459.66,500.49 459.99,500.49 460.32,500.49 460.66,500.49 460.99,500.49 461.32,500.49 461.65,500.49 461.98,500.49 462.31,500.49" fill="none" stroke="#ff2020" stroke-width="1.35" stroke-linejoin="round" />
<polyline points="264.09,499.16 264.42,499.16 264.75,499.16 265.08,499.16 265.41,499.16 265.74,499.16 266.08,499.16 266.41,499.16 266.74,499.16 267.07,499.16 267.4,499.16 267.73,499.16 268.06,499.16 268.39,499.16 268.72,499.16 269.05,499.16 269.38,499.16 269.72,499.16 270.05,499.15 270.38,499.15 270.71,499.15 271.04,499.15 271.37,499.15 271.7,499.15 272.03,499.15 272.36,499.15 272.69,499.15 273.02,499.15 273.36,499.15 273.69,499.15 274.02,499.15 274.35,499.15 274.68,499.15 275.01,499.15 275.34,499.15 275.67,499.15 276,499.15 276.33,499.14 276.66,499.14 277,499.14 277.33,499.14 277.66,499.14 277.99,499.14 278.32,499.14 278.65,499.14 278.98,499.14 279.31,499.13 279.64,499.13 279.97,499.13 280.3,499.13 280.64,499.13 280.97,499.13 281.3,499.12 281.63,499.12 281.96,499.12 282.29,499.12 282.62,499.12 282.95,499.11 283.28,499.11 283.61,499.11 283.95,499.11 284.28,499.1 284.61,499.1 284.94,499.1 285.27,499.09 285.6,499.09 285.93,499.09 286.26,499.08 286.59,499.08 286.92,499.07 287.25,499.07 287.59,499.06 287.92,499.06 288.25,499.05 288.58,499.05 288.91,499.04 289.24,499.04 289.57,499.03 289.9,499.03 290.23,499.02 290.56,499.01 290.89,499 291.23,499 291.56,498.99 291.89,498.98 292.22,498.97 292.55,498.96 292.88,498.95 293.21,498.94 293.54,498.93 293.87,498.92 294.2,498.91 294.53,498.9 294.87,498.89 295.2,498.87 295.53,498.86 295.86,498.85 296.19,498.83 296.52,498.82 296.85,498.8 297.18,498.79 297.51,498.77 297.84,498.75 298.17,498.73 298.51,498.71 298.84,498.69 299.17,498.67 299.5,498.65 299.83,498.63 300.16,498.61 300.49,498.58 300.82,498.56 301.15,498.53 301.48,498.5 301.81,498.48 302.15,498.45 302.48,498.42 302.81,498.39 303.14,498.35 303.47,498.32 303.8,498.28 304.13,498.25 304.46,498.21 304.79,498.17 305.12,498.13 305.45,498.09 305.79,498.04 306.12,498 306.45,497.95 306.78,497.9 307.11,497.85 307.44,497.8 307.77,497.75 308.1,497.69 308.43,497.64 308.76,497.58 309.09,497.52 309.43,497.45 309.76,497.39 310.09,497.32 310.42,497.25 310.75,497.18 311.08,497.1 311.41,497.02 311.74,496.94 312.07,496.86 312.4,496.78 312.73,496.69 313.07,496.6 313.4,496.51 313.73,496.41 314.06,496.31 314.39,496.21 314.72,496.11 315.05,496 315.38,495.89 315.71,495.77 316.04,495.65 316.38,495.53 316.71,495.41 317.04,495.28 317.37,495.15 317.7,495.01 318.03,494.87 318.36,494.73 318.69,494.58 319.02,494.43 319.35,494.27 319.68,494.11 320.02,493.95 320.35,493.78 320.68,493.6 321.01,493.42 321.34,493.24 321.67,493.05 322,492.86 322.33,492.66 322.66,492.46 322.99,492.25 323.32,492.04 323.66,491.82 323.99,491.6 324.32,491.37 324.65,491.14 324.98,490.9 325.31,490.66 325.64,490.4 325.97,490.15 326.3,489.89 326.63,489.62 326.96,489.34 327.3,489.06 327.63,488.78 327.96,488.49 328.29,488.19 328.62,487.88 328.95,487.57 329.28,487.25 329.61,486.93 329.94,486.6 330.27,486.26 330.6,485.91 330.94,485.56 331.27,485.2 331.6,484.84 331.93,484.47 332.26,484.09 332.59,483.7 332.92,483.31 333.25,482.91 333.58,482.5 333.91,482.09 334.24,481.67 334.58,481.24 334.91,480.8 335.24,480.36 335.57,479.91 335.9,479.45 336.23,478.99 336.56,478.52 336.89,478.04 337.22,477.55 337.55,477.06 337.88,476.56 338.22,476.05 338.55,475.54 338.88,475.01 339.21,474.48 339.54,473.95 339.87,473.4 340.2,472.85 340.53,472.3 340.86,471.73 341.19,471.16 341.52,470.58 341.86,470 342.19,469.41 342.52,468.81 342.85,468.2 343.18,467.59 343.51,466.98 343.84,466.35 344.17,465.73 344.5,465.09 344.83,464.45 345.16,463.8 345.5,463.15 345.83,462.49 346.16,461.83 346.49,461.16 346.82,460.49 347.15,459.81 347.48,459.13 347.81,458.44 348.14,457.75 348.47,457.05 348.81,456.35 349.14,455.65 349.47,454.94 349.8,454.23 350.13,453.52 350.46,452.8 350.79,452.08 351.12,451.36 351.45,450.64 351.78,449.91 352.11,449.18 352.45,448.45 352.78,447.72 353.11,446.98 353.44,446.25 353.77,445.52 354.1,444.78 354.43,444.05 354.76,443.31 355.09,442.58 355.42,441.84 355.75,441.11 356.09,440.38 356.42,439.64 356.75,438.92 357.08,438.19 357.41,437.46 357.74,436.74 358.07,436.02 358.4,435.31 358.73,434.59 359.06,433.88 359.39,433.18 359.73,432.48 360.06,431.78 360.39,431.09 360.72,430.41 361.05,429.73 361.38,429.05 361.71,428.38 362.04,427.72 362.37,427.07 362.7,426.42 363.03,425.78 363.37,425.15 363.7,424.52 364.03,423.9 364.36,423.3 364.69,422.7 365.02,422.11 365.35,421.53 365.68,420.95 366.01,420.39 366.34,419.84 366.67,419.3 367.01,418.77 367.34,418.25 367.67,417.74 368,417.25 368.33,416.76 368.66,416.29 368.99,415.83 369.32,415.38 369.65,414.95 369.98,414.53 370.31,414.12 370.65,413.72 370.98,413.34 371.31,412.97 371.64,412.62 371.97,412.28 372.3,411.95 372.63,411.64 372.96,411.34 373.29,411.06 373.62,410.79 373.95,410.54 374.29,410.31 374.62,410.08 374.95,409.88 375.28,409.69 375.61,409.51 375.94,409.35 376.27,409.21 376.6,409.08 376.93,408.97 377.26,408.88 377.59,408.8 377.93,408.74 378.26,408.69 378.59,408.66 378.92,408.65 379.25,408.65 379.58,408.67 379.91,408.7 380.24,408.75 380.57,408.82 380.9,408.9 381.24,409 381.57,409.12 381.9,409.25 382.23,409.4 382.56,409.56 382.89,409.74 383.22,409.93 383.55,410.14 383.88,410.37 384.21,410.61 384.54,410.86 384.88,411.14 385.21,411.42 385.54,411.72 385.87,412.04 386.2,412.37 386.53,412.71 386.86,413.07 387.19,413.44 387.52,413.83 387.85,414.23 388.18,414.64 388.52,415.06 388.85,415.5 389.18,415.95 389.51,416.42 389.84,416.89 390.17,417.38 390.5,417.88 390.83,418.39 391.16,418.91 391.49,419.45 391.82,419.99 392.16,420.54 392.49,421.11 392.82,421.68 393.15,422.26 393.48,422.86 393.81,423.46 394.14,424.07 394.47,424.69 394.8,425.32 395.13,425.95 395.46,426.59 395.8,427.24 396.13,427.9 396.46,428.56 396.79,429.23 397.12,429.91 397.45,430.59 397.78,431.28 398.11,431.97 398.44,432.67 398.77,433.37 399.1,434.07 399.44,434.78 399.77,435.5 400.1,436.22 400.43,436.94 400.76,437.66 401.09,438.38 401.42,439.11 401.75,439.84 402.08,440.57 402.41,441.3 402.74,442.04 403.08,442.77 403.41,443.51 403.74,444.24 404.07,444.98 404.4,445.71 404.73,446.45 405.06,447.18 405.39,447.91 405.72,448.65 406.05,449.38 406.38,450.1 406.72,450.83 407.05,451.55 407.38,452.28 407.71,453 408.04,453.71 408.37,454.42 408.7,455.13 409.03,455.84 409.36,456.54 409.69,457.24 410.02,457.94 410.36,458.63 410.69,459.31 411.02,459.99 411.35,460.67 411.68,461.34 412.01,462.01 412.34,462.67 412.67,463.33 413,463.98 413.33,464.62 413.67,465.26 414,465.9 414.33,466.52 414.66,467.14 414.99,467.76 415.32,468.37 415.65,468.97 415.98,469.57 416.31,470.16 416.64,470.74 416.97,471.31 417.31,471.88 417.64,472.45 417.97,473 418.3,473.55 418.63,474.09 418.96,474.63 419.29,475.15 419.62,475.67 419.95,476.19 420.28,476.69 420.61,477.19 420.95,477.68 421.28,478.17 421.61,478.65 421.94,479.12 422.27,479.58 422.6,480.03 422.93,480.48 423.26,480.92 423.59,481.36 423.92,481.78 424.25,482.2 424.59,482.61 424.92,483.02 425.25,483.42 425.58,483.81 425.91,484.19 426.24,484.57 426.57,484.94 426.9,485.3 427.23,485.66 427.56,486.01 427.89,486.35 428.23,486.69 428.56,487.02 428.89,487.34 429.22,487.65 429.55,487.96 429.88,488.27 430.21,488.56 430.54,488.86 430.87,489.14 431.2,489.42 431.53,489.69 431.87,489.96 432.2,490.22 432.53,490.47 432.86,490.72 433.19,490.97 433.52,491.2 433.85,491.44 434.18,491.66 434.51,491.88 434.84,492.1 435.17,492.31 435.51,492.52 435.84,492.72 436.17,492.91 436.5,493.1 436.83,493.29 437.16,493.47 437.49,493.65 437.82,493.82 438.15,493.99 438.48,494.15 438.81,494.31 439.15,494.47 439.48,494.62 439.81,494.77 440.14,494.91 440.47,495.05 440.8,495.18 441.13,495.31 441.46,495.44 441.79,495.57 442.12,495.69 442.45,495.8 442.79,495.92 443.12,496.03 443.45,496.13 443.78,496.24 444.11,496.34 444.44,496.44 444.77,496.53 445.1,496.62 445.43,496.71 445.76,496.8 446.1,496.88 446.43,496.97 446.76,497.05 447.09,497.12 447.42,497.2 447.75,497.27 448.08,497.34 448.41,497.4 448.74,497.47 449.07,497.53 449.4,497.59 449.74,497.65 450.07,497.71 450.4,497.76 450.73,497.82 451.06,497.87 451.39,497.92 451.72,497.97 452.05,498.01 452.38,498.06 452.71,498.1 453.04,498.14 453.38,498.18 453.71,498.22 454.04,498.26 454.37,498.29 454.7,498.33 455.03,498.36 455.36,498.39 455.69,498.43 456.02,498.45 456.35,498.48 456.68,498.51 457.02,498.54 457.35,498.56 457.68,498.59 458.01,498.61 458.34,498.64 458.67,498.66 459,498.68 459.33,498.7 459.66,498.72 459.99,498.74 460.32,498.76 460.66,498.77 460.99,498.79 461.32,498.81 461.65,498.82 461.98,498.84 462.31,498.85" fill="none" stroke="#ff00ff" stroke-width="1.2" stroke-linejoin="round" />
<polyline points="264.09,498.73 264.42,498.73 264.75,498.73 265.08,498.73 265.41,498.73 265.74,498.73 266.08,498.73 266.41,498.73 266.74,498.73 267.07,498.73 267.4,498.73 267.73,498.73 268.06,498.73 268.39,498.72 268.72,498.72 269.05,498.72 269.38,498.72 269.72,498.72 270.05,498.72 270.38,498.72 270.71,498.72 271.04,498.71 271.37,498.71 271.7,498.71 272.03,498.71 272.36,498.71 272.69,498.7 273.02,498.7 273.36,498.7 273.69,498.7 274.02,498.7 274.35,498.69 274.68,498.69 275.01,498.69 275.34,498.68 275.67,498.68 276,498.68 276.33,498.67 276.66,498.67 277,498.67 277.33,498.66 277.66,498.66 277.99,498.65 278.32,498.65 278.65,498.64 278.98,498.64 279.31,498.63 279.64,498.63 279.97,498.62 280.3,498.62 280.64,498.61 280.97,498.6 281.3,498.6 281.63,498.59 281.96,498.58 282.29,498.57 282.62,498.56 282.95,498.56 283.28,498.55 283.61,498.54 283.95,498.53 284.28,498.52 284.61,498.51 284.94,498.49 285.27,498.48 285.6,498.47 285.93,498.46 286.26,498.44 286.59,498.43 286.92,498.41 287.25,498.4 287.59,498.38 287.92,498.37 288.25,498.35 288.58,498.33 288.91,498.31 289.24,498.29 289.57,498.27 289.9,498.25 290.23,498.23 290.56,498.21 290.89,498.18 291.23,498.16 291.56,498.13 291.89,498.11 292.22,498.08 292.55,498.05 292.88,498.02 293.21,497.99 293.54,497.96 293.87,497.92 294.2,497.89 294.53,497.85 294.87,497.81 295.2,497.78 295.53,497.74 295.86,497.69 296.19,497.65 296.52,497.61 296.85,497.56 297.18,497.51 297.51,497.46 297.84,497.41 298.17,497.36 298.51,497.3 298.84,497.24 299.17,497.18 299.5,497.12 299.83,497.06 300.16,496.99 300.49,496.93 300.82,496.86 301.15,496.78 301.48,496.71 301.81,496.63 302.15,496.55 302.48,496.47 302.81,496.39 303.14,496.3 303.47,496.21 303.8,496.11 304.13,496.02 304.46,495.92 304.79,495.82 305.12,495.71 305.45,495.6 305.79,495.49 306.12,495.38 306.45,495.26 306.78,495.13 307.11,495.01 307.44,494.88 307.77,494.75 308.1,494.61 308.43,494.47 308.76,494.32 309.09,494.18 309.43,494.02 309.76,493.87 310.09,493.7 310.42,493.54 310.75,493.37 311.08,493.19 311.41,493.01 311.74,492.83 312.07,492.64 312.4,492.45 312.73,492.25 313.07,492.04 313.4,491.83 313.73,491.62 314.06,491.4 314.39,491.18 314.72,490.95 315.05,490.71 315.38,490.47 315.71,490.22 316.04,489.97 316.38,489.71 316.71,489.45 317.04,489.18 317.37,488.9 317.7,488.62 318.03,488.33 318.36,488.03 318.69,487.73 319.02,487.42 319.35,487.11 319.68,486.79 320.02,486.46 320.35,486.13 320.68,485.79 321.01,485.44 321.34,485.09 321.67,484.73 322,484.36 322.33,483.99 322.66,483.61 322.99,483.22 323.32,482.82 323.66,482.42 323.99,482.01 324.32,481.59 324.65,481.17 324.98,480.74 325.31,480.3 325.64,479.86 325.97,479.41 326.3,478.95 326.63,478.48 326.96,478.01 327.3,477.53 327.63,477.04 327.96,476.55 328.29,476.04 328.62,475.54 328.95,475.02 329.28,474.5 329.61,473.97 329.94,473.43 330.27,472.89 330.6,472.34 330.94,471.78 331.27,471.22 331.6,470.65 331.93,470.07 332.26,469.49 332.59,468.9 332.92,468.31 333.25,467.71 333.58,467.1 333.91,466.49 334.24,465.87 334.58,465.24 334.91,464.61 335.24,463.98 335.57,463.34 335.9,462.69 336.23,462.04 336.56,461.39 336.89,460.73 337.22,460.06 337.55,459.39 337.88,458.72 338.22,458.04 338.55,457.36 338.88,456.68 339.21,455.99 339.54,455.3 339.87,454.61 340.2,453.91 340.53,453.21 340.86,452.51 341.19,451.81 341.52,451.1 341.86,450.4 342.19,449.69 342.52,448.98 342.85,448.27 343.18,447.56 343.51,446.85 343.84,446.14 344.17,445.43 344.5,444.72 344.83,444.01 345.16,443.3 345.5,442.59 345.83,441.88 346.16,441.18 346.49,440.48 346.82,439.78 347.15,439.08 347.48,438.39 347.81,437.7 348.14,437.01 348.47,436.33 348.81,435.65 349.14,434.97 349.47,434.3 349.8,433.64 350.13,432.98 350.46,432.33 350.79,431.68 351.12,431.04 351.45,430.4 351.78,429.77 352.11,429.15 352.45,428.54 352.78,427.93 353.11,427.34 353.44,426.75 353.77,426.17 354.1,425.6 354.43,425.03 354.76,424.48 355.09,423.94 355.42,423.4 355.75,422.88 356.09,422.37 356.42,421.87 356.75,421.38 357.08,420.9 357.41,420.43 357.74,419.97 358.07,419.53 358.4,419.1 358.73,418.68 359.06,418.28 359.39,417.88 359.73,417.5 360.06,417.14 360.39,416.78 360.72,416.44 361.05,416.12 361.38,415.81 361.71,415.51 362.04,415.23 362.37,414.96 362.7,414.71 363.03,414.47 363.37,414.25 363.7,414.04 364.03,413.85 364.36,413.67 364.69,413.51 365.02,413.36 365.35,413.23 365.68,413.12 366.01,413.02 366.34,412.94 366.67,412.87 367.01,412.82 367.34,412.78 367.67,412.76 368,412.76 368.33,412.77 368.66,412.8 368.99,412.84 369.32,412.9 369.65,412.98 369.98,413.07 370.31,413.18 370.65,413.31 370.98,413.44 371.31,413.6 371.64,413.77 371.97,413.96 372.3,414.16 372.63,414.37 372.96,414.61 373.29,414.85 373.62,415.11 373.95,415.39 374.29,415.68 374.62,415.98 374.95,416.3 375.28,416.64 375.61,416.98 375.94,417.34 376.27,417.72 376.6,418.11 376.93,418.51 377.26,418.92 377.59,419.35 377.93,419.78 378.26,420.24 378.59,420.7 378.92,421.17 379.25,421.66 379.58,422.15 379.91,422.66 380.24,423.18 380.57,423.71 380.9,424.25 381.24,424.8 381.57,425.36 381.9,425.92 382.23,426.5 382.56,427.09 382.89,427.68 383.22,428.28 383.55,428.89 383.88,429.51 384.21,430.13 384.54,430.77 384.88,431.41 385.21,432.05 385.54,432.7 385.87,433.36 386.2,434.02 386.53,434.69 386.86,435.36 387.19,436.04 387.52,436.72 387.85,437.4 388.18,438.09 388.52,438.79 388.85,439.48 389.18,440.18 389.51,440.88 389.84,441.58 390.17,442.29 390.5,443 390.83,443.71 391.16,444.41 391.49,445.12 391.82,445.84 392.16,446.55 392.49,447.26 392.82,447.97 393.15,448.68 393.48,449.39 393.81,450.1 394.14,450.8 394.47,451.51 394.8,452.21 395.13,452.91 395.46,453.61 395.8,454.31 396.13,455.01 396.46,455.7 396.79,456.39 397.12,457.07 397.45,457.75 397.78,458.43 398.11,459.11 398.44,459.78 398.77,460.44 399.1,461.11 399.44,461.76 399.77,462.42 400.1,463.06 400.43,463.71 400.76,464.34 401.09,464.98 401.42,465.6 401.75,466.22 402.08,466.84 402.41,467.45 402.74,468.05 403.08,468.65 403.41,469.24 403.74,469.83 404.07,470.41 404.4,470.98 404.73,471.54 405.06,472.1 405.39,472.66 405.72,473.2 406.05,473.74 406.38,474.27 406.72,474.8 407.05,475.32 407.38,475.83 407.71,476.33 408.04,476.83 408.37,477.32 408.7,477.8 409.03,478.28 409.36,478.75 409.69,479.21 410.02,479.67 410.36,480.11 410.69,480.56 411.02,480.99 411.35,481.42 411.68,481.83 412.01,482.25 412.34,482.65 412.67,483.05 413,483.44 413.33,483.83 413.67,484.2 414,484.57 414.33,484.94 414.66,485.29 414.99,485.64 415.32,485.99 415.65,486.32 415.98,486.65 416.31,486.98 416.64,487.29 416.97,487.6 417.31,487.91 417.64,488.2 417.97,488.5 418.3,488.78 418.63,489.06 418.96,489.33 419.29,489.6 419.62,489.86 419.95,490.12 420.28,490.36 420.61,490.61 420.95,490.85 421.28,491.08 421.61,491.31 421.94,491.53 422.27,491.74 422.6,491.96 422.93,492.16 423.26,492.36 423.59,492.56 423.92,492.75 424.25,492.94 424.59,493.12 424.92,493.29 425.25,493.47 425.58,493.63 425.91,493.8 426.24,493.96 426.57,494.11 426.9,494.26 427.23,494.41 427.56,494.55 427.89,494.69 428.23,494.82 428.56,494.95 428.89,495.08 429.22,495.21 429.55,495.33 429.88,495.44 430.21,495.56 430.54,495.67 430.87,495.77 431.2,495.88 431.53,495.98 431.87,496.07 432.2,496.17 432.53,496.26 432.86,496.35 433.19,496.43 433.52,496.52 433.85,496.6 434.18,496.68 434.51,496.75 434.84,496.83 435.17,496.9 435.51,496.97 435.84,497.03 436.17,497.1 436.5,497.16 436.83,497.22 437.16,497.28 437.49,497.33 437.82,497.39 438.15,497.44 438.48,497.49 438.81,497.54 439.15,497.59 439.48,497.63 439.81,497.68 440.14,497.72 440.47,497.76 440.8,497.8 441.13,497.84 441.46,497.87 441.79,497.91 442.12,497.94 442.45,497.97 442.79,498.01 443.12,498.04 443.45,498.07 443.78,498.09 444.11,498.12 444.44,498.15 444.77,498.17 445.1,498.2 445.43,498.22 445.76,498.24 446.1,498.26 446.43,498.28 446.76,498.3 447.09,498.32 447.42,498.34 447.75,498.36 448.08,498.38 448.41,498.39 448.74,498.41 449.07,498.42 449.4,498.44 449.74,498.45 450.07,498.46 450.4,498.48 450.73,498.49 451.06,498.5 451.39,498.51 451.72,498.52 452.05,498.53 452.38,498.54 452.71,498.55 453.04,498.56 453.38,498.57 453.71,498.58 454.04,498.59 454.37,498.59 454.7,498.6 455.03,498.61 455.36,498.61 455.69,498.62 456.02,498.63 456.35,498.63 456.68,498.64 457.02,498.64 457.35,498.65 457.68,498.65 458.01,498.66 458.34,498.66 458.67,498.66 459,498.67 459.33,498.67 459.66,498.68 459.99,498.68 460.32,498.68 460.66,498.69 460.99,498.69 461.32,498.69 461.65,498.69 461.98,498.7 462.31,498.7" fill="none" stroke="#2020ff" stroke-width="1.2" stroke-linejoin="round" />
</g>
<text transform="translate(356.88,427.5) rotate(-90)" font-family="'Liberation Sans', Arial, sans-serif" font-size="4.4" fill="#3333ff" font-weight="bold" textLength="35" lengthAdjust="spacingAndGlyphs">285.26 eV (C-C)</text>
<text transform="translate(373.68,454.8) rotate(-90)" font-family="'Liberation Sans', Arial, sans-serif" font-size="4.4" fill="#ff2020" font-weight="bold" textLength="38" lengthAdjust="spacingAndGlyphs">285.67 eV (C<tspan font-size="3.4" dy="0.8">=N</tspan><tspan dy="-0.8">)</tspan></text>
<text transform="translate(388.28,426.9) rotate(-90)" font-family="'Liberation Sans', Arial, sans-serif" font-size="4.4" fill="#ff00ff" font-weight="bold" textLength="37.5" lengthAdjust="spacingAndGlyphs">285.99 eV (C-N-)</text>
<line x1="284.2" y1="397.6" x2="298.2" y2="397.6" stroke="#222" stroke-width="1.1"/>
<text x="299.5" y="399.87" font-family="'Liberation Sans', Arial, sans-serif" font-weight="bold" font-size="6.3" fill="#222" stroke="#222" stroke-width="0.14">C (1s)</text>
</svg>
</body></html>
